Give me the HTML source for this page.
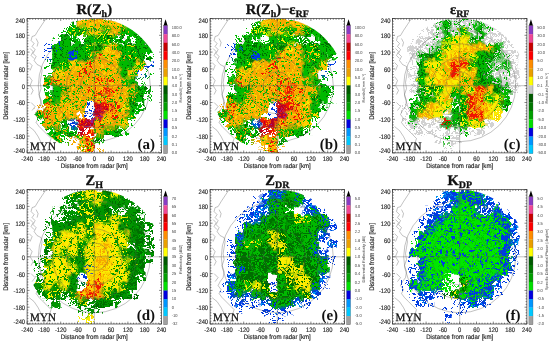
<!DOCTYPE html><html><head><meta charset="utf-8"><style>html,body{margin:0;padding:0;background:#fff;width:550px;height:341px;overflow:hidden}svg{display:block}text{text-rendering:geometricPrecision}</style></head><body>
<svg width="550" height="341" viewBox="0 0 550 341">
<defs>
<filter id="nz" x="0" y="0" width="550" height="341" filterUnits="userSpaceOnUse" color-interpolation-filters="sRGB"><feTurbulence type="fractalNoise" baseFrequency="0.5" numOctaves="2" seed="7"/><feColorMatrix type="matrix" values="1 0 0 0 0 1 0 0 0 0 1 0 0 0 0 0 0 0 0 1"/><feComponentTransfer><feFuncR type="discrete" tableValues="0 0 0 0 0 0 0 0 0 0 0 0 0 0 0 0 0 0 0 0 0 0 0 0 0 0 0 0 0 0 0 0 0 0 0 0 0 0 0 0 0 0 0 0 0 0 0 0 0 0 0 0 0 0 0 0 1 1 1 1 1 1 1 1 1 1 1 1 1 1 1 1 1 1 1 1 1 1 1 1 1 1 1 1 1 1 1 1 1 1 1 1 1 1 1 1 1 1 1 1"/><feFuncG type="discrete" tableValues="0 0 0 0 0 0 0 0 0 0 0 0 0 0 0 0 0 0 0 0 0 0 0 0 0 0 0 0 0 0 0 0 0 0 0 0 0 0 0 0 0 0 0 0 0 0 0 0 0 0 0 0 0 0 0 0 1 1 1 1 1 1 1 1 1 1 1 1 1 1 1 1 1 1 1 1 1 1 1 1 1 1 1 1 1 1 1 1 1 1 1 1 1 1 1 1 1 1 1 1"/><feFuncB type="discrete" tableValues="0 0 0 0 0 0 0 0 0 0 0 0 0 0 0 0 0 0 0 0 0 0 0 0 0 0 0 0 0 0 0 0 0 0 0 0 0 0 0 0 0 0 0 0 0 0 0 0 0 0 0 0 0 0 0 0 1 1 1 1 1 1 1 1 1 1 1 1 1 1 1 1 1 1 1 1 1 1 1 1 1 1 1 1 1 1 1 1 1 1 1 1 1 1 1 1 1 1 1 1"/></feComponentTransfer></filter>
<mask id="mk" maskUnits="userSpaceOnUse" x="0" y="0" width="550" height="341"><rect width="550" height="341" fill="#fff" filter="url(#nz)"/></mask>
<filter id="nzh" x="0" y="0" width="550" height="341" filterUnits="userSpaceOnUse" color-interpolation-filters="sRGB"><feTurbulence type="fractalNoise" baseFrequency="0.5" numOctaves="2" seed="17"/><feColorMatrix type="matrix" values="1 0 0 0 0 1 0 0 0 0 1 0 0 0 0 0 0 0 0 1"/><feComponentTransfer><feFuncR type="discrete" tableValues="0 0 0 0 0 0 0 0 0 0 0 0 0 0 0 0 0 0 0 0 0 0 0 0 0 0 0 0 0 0 0 0 0 0 0 0 0 0 0 0 0 0 0 0 0 0 0 0 0 0 1 1 1 1 1 1 1 1 1 1 1 1 1 1 1 1 1 1 1 1 1 1 1 1 1 1 1 1 1 1 1 1 1 1 1 1 1 1 1 1 1 1 1 1 1 1 1 1 1 1"/><feFuncG type="discrete" tableValues="0 0 0 0 0 0 0 0 0 0 0 0 0 0 0 0 0 0 0 0 0 0 0 0 0 0 0 0 0 0 0 0 0 0 0 0 0 0 0 0 0 0 0 0 0 0 0 0 0 0 1 1 1 1 1 1 1 1 1 1 1 1 1 1 1 1 1 1 1 1 1 1 1 1 1 1 1 1 1 1 1 1 1 1 1 1 1 1 1 1 1 1 1 1 1 1 1 1 1 1"/><feFuncB type="discrete" tableValues="0 0 0 0 0 0 0 0 0 0 0 0 0 0 0 0 0 0 0 0 0 0 0 0 0 0 0 0 0 0 0 0 0 0 0 0 0 0 0 0 0 0 0 0 0 0 0 0 0 0 1 1 1 1 1 1 1 1 1 1 1 1 1 1 1 1 1 1 1 1 1 1 1 1 1 1 1 1 1 1 1 1 1 1 1 1 1 1 1 1 1 1 1 1 1 1 1 1 1 1"/></feComponentTransfer></filter>
<mask id="mkh" maskUnits="userSpaceOnUse" x="0" y="0" width="550" height="341"><rect width="550" height="341" fill="#fff" filter="url(#nzh)"/></mask>
<filter id="nzl" x="0" y="0" width="550" height="341" filterUnits="userSpaceOnUse" color-interpolation-filters="sRGB"><feTurbulence type="fractalNoise" baseFrequency="0.4" numOctaves="2" seed="23"/><feColorMatrix type="matrix" values="1 0 0 0 0 1 0 0 0 0 1 0 0 0 0 0 0 0 0 1"/><feComponentTransfer><feFuncR type="discrete" tableValues="0 0 0 0 0 0 0 0 0 0 0 0 0 0 0 0 0 0 0 0 0 0 0 0 0 0 0 0 0 0 0 0 0 0 0 0 0 0 0 0 0 0 0 0 0 0 0 0 0 0 0 0 0 0 0 0 0 0 0 0 0 0 0 0 1 1 1 1 1 1 1 1 1 1 1 1 1 1 1 1 1 1 1 1 1 1 1 1 1 1 1 1 1 1 1 1 1 1 1 1"/><feFuncG type="discrete" tableValues="0 0 0 0 0 0 0 0 0 0 0 0 0 0 0 0 0 0 0 0 0 0 0 0 0 0 0 0 0 0 0 0 0 0 0 0 0 0 0 0 0 0 0 0 0 0 0 0 0 0 0 0 0 0 0 0 0 0 0 0 0 0 0 0 1 1 1 1 1 1 1 1 1 1 1 1 1 1 1 1 1 1 1 1 1 1 1 1 1 1 1 1 1 1 1 1 1 1 1 1"/><feFuncB type="discrete" tableValues="0 0 0 0 0 0 0 0 0 0 0 0 0 0 0 0 0 0 0 0 0 0 0 0 0 0 0 0 0 0 0 0 0 0 0 0 0 0 0 0 0 0 0 0 0 0 0 0 0 0 0 0 0 0 0 0 0 0 0 0 0 0 0 0 1 1 1 1 1 1 1 1 1 1 1 1 1 1 1 1 1 1 1 1 1 1 1 1 1 1 1 1 1 1 1 1 1 1 1 1"/></feComponentTransfer></filter>
<mask id="mkl" maskUnits="userSpaceOnUse" x="0" y="0" width="550" height="341"><rect width="550" height="341" fill="#fff" filter="url(#nzl)"/></mask>
<filter id="nzt" x="0" y="0" width="550" height="341" filterUnits="userSpaceOnUse" color-interpolation-filters="sRGB"><feTurbulence type="fractalNoise" baseFrequency="0.6" numOctaves="2" seed="31"/><feColorMatrix type="matrix" values="1 0 0 0 0 1 0 0 0 0 1 0 0 0 0 0 0 0 0 1"/><feComponentTransfer><feFuncR type="discrete" tableValues="0 0 0 0 0 0 0 0 0 0 0 0 0 0 0 0 0 0 0 0 0 0 0 0 0 0 0 0 0 0 0 0 0 0 0 0 0 0 0 0 0 0 0 0 0 0 0 0 0 0 0 0 0 0 0 0 0 0 0 1 1 1 1 1 1 1 1 1 1 1 1 1 1 1 1 1 1 1 1 1 1 1 1 1 1 1 1 1 1 1 1 1 1 1 1 1 1 1 1 1"/><feFuncG type="discrete" tableValues="0 0 0 0 0 0 0 0 0 0 0 0 0 0 0 0 0 0 0 0 0 0 0 0 0 0 0 0 0 0 0 0 0 0 0 0 0 0 0 0 0 0 0 0 0 0 0 0 0 0 0 0 0 0 0 0 0 0 0 1 1 1 1 1 1 1 1 1 1 1 1 1 1 1 1 1 1 1 1 1 1 1 1 1 1 1 1 1 1 1 1 1 1 1 1 1 1 1 1 1"/><feFuncB type="discrete" tableValues="0 0 0 0 0 0 0 0 0 0 0 0 0 0 0 0 0 0 0 0 0 0 0 0 0 0 0 0 0 0 0 0 0 0 0 0 0 0 0 0 0 0 0 0 0 0 0 0 0 0 0 0 0 0 0 0 0 0 0 1 1 1 1 1 1 1 1 1 1 1 1 1 1 1 1 1 1 1 1 1 1 1 1 1 1 1 1 1 1 1 1 1 1 1 1 1 1 1 1 1"/></feComponentTransfer></filter>
<mask id="mkt" maskUnits="userSpaceOnUse" x="0" y="0" width="550" height="341"><rect width="550" height="341" fill="#fff" filter="url(#nzt)"/></mask>
<filter id="nzt2" x="0" y="0" width="550" height="341" filterUnits="userSpaceOnUse" color-interpolation-filters="sRGB"><feTurbulence type="fractalNoise" baseFrequency="0.6" numOctaves="2" seed="37"/><feColorMatrix type="matrix" values="1 0 0 0 0 1 0 0 0 0 1 0 0 0 0 0 0 0 0 1"/><feComponentTransfer><feFuncR type="discrete" tableValues="0 0 0 0 0 0 0 0 0 0 0 0 0 0 0 0 0 0 0 0 0 0 0 0 0 0 0 0 0 0 0 0 0 0 0 0 0 0 0 0 0 0 0 0 0 0 0 0 0 0 0 0 0 0 0 0 0 0 0 0 0 0 0 0 1 1 1 1 1 1 1 1 1 1 1 1 1 1 1 1 1 1 1 1 1 1 1 1 1 1 1 1 1 1 1 1 1 1 1 1"/><feFuncG type="discrete" tableValues="0 0 0 0 0 0 0 0 0 0 0 0 0 0 0 0 0 0 0 0 0 0 0 0 0 0 0 0 0 0 0 0 0 0 0 0 0 0 0 0 0 0 0 0 0 0 0 0 0 0 0 0 0 0 0 0 0 0 0 0 0 0 0 0 1 1 1 1 1 1 1 1 1 1 1 1 1 1 1 1 1 1 1 1 1 1 1 1 1 1 1 1 1 1 1 1 1 1 1 1"/><feFuncB type="discrete" tableValues="0 0 0 0 0 0 0 0 0 0 0 0 0 0 0 0 0 0 0 0 0 0 0 0 0 0 0 0 0 0 0 0 0 0 0 0 0 0 0 0 0 0 0 0 0 0 0 0 0 0 0 0 0 0 0 0 0 0 0 0 0 0 0 0 1 1 1 1 1 1 1 1 1 1 1 1 1 1 1 1 1 1 1 1 1 1 1 1 1 1 1 1 1 1 1 1 1 1 1 1"/></feComponentTransfer></filter>
<mask id="mkt2" maskUnits="userSpaceOnUse" x="0" y="0" width="550" height="341"><rect width="550" height="341" fill="#fff" filter="url(#nzt2)"/></mask>
<filter id="nz2" x="0" y="0" width="550" height="341" filterUnits="userSpaceOnUse" color-interpolation-filters="sRGB"><feTurbulence type="fractalNoise" baseFrequency="0.35" numOctaves="2" seed="11"/><feColorMatrix type="matrix" values="1 0 0 0 0 1 0 0 0 0 1 0 0 0 0 0 0 0 0 1"/><feComponentTransfer><feFuncR type="discrete" tableValues="0 0 0 0 0 0 0 0 0 0 0 0 0 0 0 0 0 0 0 0 0 0 0 0 0 0 0 0 0 0 0 0 0 0 0 0 0 0 0 0 0 0 0 0 0 0 0 0 0 0 0 0 0 0 1 1 1 1 1 1 1 1 1 1 1 1 1 1 1 1 1 1 1 1 1 1 1 1 1 1 1 1 1 1 1 1 1 1 1 1 1 1 1 1 1 1 1 1 1 1"/><feFuncG type="discrete" tableValues="0 0 0 0 0 0 0 0 0 0 0 0 0 0 0 0 0 0 0 0 0 0 0 0 0 0 0 0 0 0 0 0 0 0 0 0 0 0 0 0 0 0 0 0 0 0 0 0 0 0 0 0 0 0 1 1 1 1 1 1 1 1 1 1 1 1 1 1 1 1 1 1 1 1 1 1 1 1 1 1 1 1 1 1 1 1 1 1 1 1 1 1 1 1 1 1 1 1 1 1"/><feFuncB type="discrete" tableValues="0 0 0 0 0 0 0 0 0 0 0 0 0 0 0 0 0 0 0 0 0 0 0 0 0 0 0 0 0 0 0 0 0 0 0 0 0 0 0 0 0 0 0 0 0 0 0 0 0 0 0 0 0 0 1 1 1 1 1 1 1 1 1 1 1 1 1 1 1 1 1 1 1 1 1 1 1 1 1 1 1 1 1 1 1 1 1 1 1 1 1 1 1 1 1 1 1 1 1 1"/></feComponentTransfer></filter>
<mask id="mk2" maskUnits="userSpaceOnUse" x="0" y="0" width="550" height="341"><rect width="550" height="341" fill="#fff" filter="url(#nz2)"/></mask>
<filter id="nz3" x="0" y="0" width="550" height="341" filterUnits="userSpaceOnUse" color-interpolation-filters="sRGB"><feTurbulence type="fractalNoise" baseFrequency="0.5" numOctaves="2" seed="5"/><feColorMatrix type="matrix" values="1 0 0 0 0 1 0 0 0 0 1 0 0 0 0 0 0 0 0 1"/><feComponentTransfer><feFuncR type="discrete" tableValues="0 0 0 0 0 0 0 0 0 0 0 0 0 0 0 0 0 0 0 0 0 0 0 0 0 0 0 0 0 0 0 0 0 0 0 0 0 0 0 0 0 0 0 0 0 0 0 0 0 0 0 0 0 0 0 0 1 1 1 1 1 1 1 1 1 1 1 1 1 1 1 1 1 1 1 1 1 1 1 1 1 1 1 1 1 1 1 1 1 1 1 1 1 1 1 1 1 1 1 1"/><feFuncG type="discrete" tableValues="0 0 0 0 0 0 0 0 0 0 0 0 0 0 0 0 0 0 0 0 0 0 0 0 0 0 0 0 0 0 0 0 0 0 0 0 0 0 0 0 0 0 0 0 0 0 0 0 0 0 0 0 0 0 0 0 1 1 1 1 1 1 1 1 1 1 1 1 1 1 1 1 1 1 1 1 1 1 1 1 1 1 1 1 1 1 1 1 1 1 1 1 1 1 1 1 1 1 1 1"/><feFuncB type="discrete" tableValues="0 0 0 0 0 0 0 0 0 0 0 0 0 0 0 0 0 0 0 0 0 0 0 0 0 0 0 0 0 0 0 0 0 0 0 0 0 0 0 0 0 0 0 0 0 0 0 0 0 0 0 0 0 0 0 0 1 1 1 1 1 1 1 1 1 1 1 1 1 1 1 1 1 1 1 1 1 1 1 1 1 1 1 1 1 1 1 1 1 1 1 1 1 1 1 1 1 1 1 1"/></feComponentTransfer></filter>
<mask id="mk3" maskUnits="userSpaceOnUse" x="0" y="0" width="550" height="341"><rect width="550" height="341" fill="#fff" filter="url(#nz3)"/></mask>
<filter id="mb" x="-10%" y="-10%" width="120%" height="120%" color-interpolation-filters="sRGB"><feGaussianBlur stdDeviation="1.3"/><feComponentTransfer><feFuncA type="linear" slope="6" intercept="-2.6"/></feComponentTransfer></filter>
<filter id="disp" x="-5%" y="-5%" width="110%" height="110%" color-interpolation-filters="sRGB"><feTurbulence type="fractalNoise" baseFrequency="0.18" numOctaves="2" seed="4" result="t"/><feDisplacementMap in="SourceGraphic" in2="t" scale="9" xChannelSelector="R" yChannelSelector="G"/></filter>
</defs>
<rect width="550" height="341" fill="#fff"/>
<clipPath id="clipa"><circle cx="94.3" cy="85.7" r="67.2"/></clipPath>
<g clip-path="url(#clipa)"><g filter="url(#disp)">
<g filter="url(#mb)"><rect x="69.1" y="18.5" width="8.4" height="8.4" fill="#00b900"/><rect x="77.5" y="18.5" width="8.4" height="8.4" fill="#fcd200"/><rect x="85.9" y="18.5" width="33.6" height="8.4" fill="#f5a800"/><rect x="119.5" y="18.5" width="8.4" height="8.4" fill="#fcd200"/><rect x="127.9" y="18.5" width="8.4" height="8.4" fill="#00b900"/><rect x="69.1" y="26.9" width="16.8" height="8.4" fill="#00b900"/><rect x="85.9" y="26.9" width="16.8" height="8.4" fill="#fcd200"/><rect x="102.7" y="26.9" width="8.4" height="8.4" fill="#00b900"/><rect x="111.1" y="26.9" width="8.4" height="8.4" fill="#f5a800"/><rect x="119.5" y="26.9" width="25.2" height="8.4" fill="#00b900"/><rect x="60.7" y="35.3" width="16.8" height="8.4" fill="#00b900"/><rect x="85.9" y="35.3" width="67.2" height="8.4" fill="#00b900"/><rect x="52.3" y="43.7" width="42" height="8.4" fill="#00b900"/><rect x="94.3" y="43.7" width="8.4" height="8.4" fill="#006e00"/><rect x="102.7" y="43.7" width="8.4" height="8.4" fill="#faee00"/><rect x="111.1" y="43.7" width="8.4" height="8.4" fill="#f5a800"/><rect x="119.5" y="43.7" width="33.6" height="8.4" fill="#00b900"/><rect x="52.3" y="52.1" width="42" height="8.4" fill="#00b900"/><rect x="94.3" y="52.1" width="25.2" height="8.4" fill="#f5a800"/><rect x="119.5" y="52.1" width="33.6" height="8.4" fill="#00b900"/><rect x="52.3" y="60.5" width="16.8" height="8.4" fill="#00b900"/><rect x="69.1" y="60.5" width="8.4" height="8.4" fill="#fcd200"/><rect x="77.5" y="60.5" width="42" height="8.4" fill="#f5a800"/><rect x="119.5" y="60.5" width="16.8" height="8.4" fill="#00b900"/><rect x="136.3" y="60.5" width="8.4" height="8.4" fill="#fcd200"/><rect x="52.3" y="68.9" width="16.8" height="8.4" fill="#fcd200"/><rect x="69.1" y="68.9" width="50.4" height="8.4" fill="#f5a800"/><rect x="119.5" y="68.9" width="8.4" height="8.4" fill="#00b900"/><rect x="127.9" y="68.9" width="8.4" height="8.4" fill="#fcd200"/><rect x="43.9" y="77.3" width="8.4" height="8.4" fill="#00b900"/><rect x="52.3" y="77.3" width="75.6" height="8.4" fill="#f5a800"/><rect x="127.9" y="77.3" width="8.4" height="8.4" fill="#00b900"/><rect x="52.3" y="85.7" width="16.8" height="8.4" fill="#00b900"/><rect x="69.1" y="85.7" width="33.6" height="8.4" fill="#f5a800"/><rect x="102.7" y="85.7" width="8.4" height="8.4" fill="#f01400"/><rect x="111.1" y="85.7" width="25.2" height="8.4" fill="#f5a800"/><rect x="136.3" y="85.7" width="16.8" height="8.4" fill="#00b900"/><rect x="43.9" y="94.1" width="16.8" height="8.4" fill="#00b900"/><rect x="60.7" y="94.1" width="67.2" height="8.4" fill="#f5a800"/><rect x="127.9" y="94.1" width="16.8" height="8.4" fill="#00b900"/><rect x="43.9" y="102.5" width="25.2" height="8.4" fill="#f5a800"/><rect x="69.1" y="102.5" width="8.4" height="8.4" fill="#fcd200"/><rect x="77.5" y="102.5" width="8.4" height="8.4" fill="#f5a800"/><rect x="94.3" y="102.5" width="8.4" height="8.4" fill="#b40028"/><rect x="102.7" y="102.5" width="8.4" height="8.4" fill="#f01400"/><rect x="111.1" y="102.5" width="16.8" height="8.4" fill="#f5a800"/><rect x="127.9" y="102.5" width="16.8" height="8.4" fill="#00b900"/><rect x="35.5" y="110.9" width="8.4" height="8.4" fill="#00b900"/><rect x="43.9" y="110.9" width="42" height="8.4" fill="#f5a800"/><rect x="94.3" y="110.9" width="8.4" height="8.4" fill="#b40028"/><rect x="102.7" y="110.9" width="25.2" height="8.4" fill="#f5a800"/><rect x="127.9" y="110.9" width="8.4" height="8.4" fill="#00b900"/><rect x="43.9" y="119.3" width="16.8" height="8.4" fill="#f5a800"/><rect x="60.7" y="119.3" width="8.4" height="8.4" fill="#00b900"/><rect x="69.1" y="119.3" width="8.4" height="8.4" fill="#003ce1"/><rect x="77.5" y="119.3" width="8.4" height="8.4" fill="#f01400"/><rect x="85.9" y="119.3" width="8.4" height="8.4" fill="#b40028"/><rect x="94.3" y="119.3" width="25.2" height="8.4" fill="#f5a800"/><rect x="119.5" y="119.3" width="8.4" height="8.4" fill="#fcd200"/><rect x="43.9" y="127.7" width="33.6" height="8.4" fill="#00b900"/><rect x="77.5" y="127.7" width="8.4" height="8.4" fill="#b40028"/><rect x="85.9" y="127.7" width="8.4" height="8.4" fill="#f01400"/><rect x="94.3" y="127.7" width="8.4" height="8.4" fill="#f5a800"/><rect x="102.7" y="127.7" width="25.2" height="8.4" fill="#00b900"/><rect x="52.3" y="136.1" width="8.4" height="8.4" fill="#00b900"/><rect x="77.5" y="136.1" width="16.8" height="8.4" fill="#f5a800"/><rect x="94.3" y="136.1" width="8.4" height="8.4" fill="#00b900"/><rect x="77.5" y="144.5" width="16.8" height="8.4" fill="#f5a800"/></g>
<g mask="url(#mkt)" filter="url(#mb)"><rect x="69.1" y="18.5" width="8.4" height="8.4" fill="#006e00"/><rect x="77.5" y="18.5" width="8.4" height="8.4" fill="#f5a800"/><rect x="85.9" y="18.5" width="33.6" height="8.4" fill="#fcd200"/><rect x="119.5" y="18.5" width="8.4" height="8.4" fill="#f5a800"/><rect x="127.9" y="18.5" width="8.4" height="8.4" fill="#006e00"/><rect x="69.1" y="26.9" width="16.8" height="8.4" fill="#006e00"/><rect x="85.9" y="26.9" width="16.8" height="8.4" fill="#f5a800"/><rect x="102.7" y="26.9" width="8.4" height="8.4" fill="#006e00"/><rect x="111.1" y="26.9" width="8.4" height="8.4" fill="#fcd200"/><rect x="119.5" y="26.9" width="25.2" height="8.4" fill="#006e00"/><rect x="60.7" y="35.3" width="16.8" height="8.4" fill="#006e00"/><rect x="85.9" y="35.3" width="67.2" height="8.4" fill="#006e00"/><rect x="52.3" y="43.7" width="42" height="8.4" fill="#006e00"/><rect x="94.3" y="43.7" width="8.4" height="8.4" fill="#00b900"/><rect x="102.7" y="43.7" width="16.8" height="8.4" fill="#fcd200"/><rect x="119.5" y="43.7" width="33.6" height="8.4" fill="#006e00"/><rect x="52.3" y="52.1" width="42" height="8.4" fill="#006e00"/><rect x="94.3" y="52.1" width="25.2" height="8.4" fill="#fcd200"/><rect x="119.5" y="52.1" width="33.6" height="8.4" fill="#006e00"/><rect x="52.3" y="60.5" width="16.8" height="8.4" fill="#006e00"/><rect x="69.1" y="60.5" width="8.4" height="8.4" fill="#f5a800"/><rect x="77.5" y="60.5" width="42" height="8.4" fill="#fcd200"/><rect x="119.5" y="60.5" width="16.8" height="8.4" fill="#006e00"/><rect x="136.3" y="60.5" width="8.4" height="8.4" fill="#f5a800"/><rect x="52.3" y="68.9" width="16.8" height="8.4" fill="#f5a800"/><rect x="69.1" y="68.9" width="50.4" height="8.4" fill="#fcd200"/><rect x="119.5" y="68.9" width="8.4" height="8.4" fill="#006e00"/><rect x="127.9" y="68.9" width="8.4" height="8.4" fill="#f5a800"/><rect x="43.9" y="77.3" width="8.4" height="8.4" fill="#006e00"/><rect x="52.3" y="77.3" width="75.6" height="8.4" fill="#fcd200"/><rect x="127.9" y="77.3" width="8.4" height="8.4" fill="#006e00"/><rect x="52.3" y="85.7" width="16.8" height="8.4" fill="#006e00"/><rect x="69.1" y="85.7" width="33.6" height="8.4" fill="#fcd200"/><rect x="102.7" y="85.7" width="8.4" height="8.4" fill="#f5a800"/><rect x="111.1" y="85.7" width="25.2" height="8.4" fill="#fcd200"/><rect x="136.3" y="85.7" width="16.8" height="8.4" fill="#006e00"/><rect x="43.9" y="94.1" width="16.8" height="8.4" fill="#006e00"/><rect x="60.7" y="94.1" width="67.2" height="8.4" fill="#fcd200"/><rect x="127.9" y="94.1" width="16.8" height="8.4" fill="#006e00"/><rect x="43.9" y="102.5" width="25.2" height="8.4" fill="#fcd200"/><rect x="69.1" y="102.5" width="8.4" height="8.4" fill="#f5a800"/><rect x="77.5" y="102.5" width="8.4" height="8.4" fill="#fcd200"/><rect x="94.3" y="102.5" width="8.4" height="8.4" fill="#f01400"/><rect x="102.7" y="102.5" width="8.4" height="8.4" fill="#f5a800"/><rect x="111.1" y="102.5" width="16.8" height="8.4" fill="#fcd200"/><rect x="127.9" y="102.5" width="16.8" height="8.4" fill="#006e00"/><rect x="35.5" y="110.9" width="8.4" height="8.4" fill="#006e00"/><rect x="43.9" y="110.9" width="42" height="8.4" fill="#fcd200"/><rect x="94.3" y="110.9" width="8.4" height="8.4" fill="#f01400"/><rect x="102.7" y="110.9" width="25.2" height="8.4" fill="#fcd200"/><rect x="127.9" y="110.9" width="8.4" height="8.4" fill="#006e00"/><rect x="43.9" y="119.3" width="16.8" height="8.4" fill="#fcd200"/><rect x="60.7" y="119.3" width="8.4" height="8.4" fill="#006e00"/><rect x="69.1" y="119.3" width="8.4" height="8.4" fill="#0096f0"/><rect x="77.5" y="119.3" width="8.4" height="8.4" fill="#f5a800"/><rect x="85.9" y="119.3" width="8.4" height="8.4" fill="#f01400"/><rect x="94.3" y="119.3" width="25.2" height="8.4" fill="#fcd200"/><rect x="119.5" y="119.3" width="8.4" height="8.4" fill="#f5a800"/><rect x="43.9" y="127.7" width="33.6" height="8.4" fill="#006e00"/><rect x="77.5" y="127.7" width="8.4" height="8.4" fill="#f01400"/><rect x="85.9" y="127.7" width="8.4" height="8.4" fill="#f5a800"/><rect x="94.3" y="127.7" width="8.4" height="8.4" fill="#fcd200"/><rect x="102.7" y="127.7" width="25.2" height="8.4" fill="#006e00"/><rect x="52.3" y="136.1" width="8.4" height="8.4" fill="#006e00"/><rect x="77.5" y="136.1" width="16.8" height="8.4" fill="#fcd200"/><rect x="94.3" y="136.1" width="8.4" height="8.4" fill="#006e00"/><rect x="77.5" y="144.5" width="16.8" height="8.4" fill="#fcd200"/></g>
<g mask="url(#mkt2)" filter="url(#mb)"><rect x="77.5" y="18.5" width="50.4" height="8.4" fill="#00b900"/><rect x="85.9" y="26.9" width="16.8" height="8.4" fill="#00b900"/><rect x="111.1" y="26.9" width="8.4" height="8.4" fill="#00b900"/><rect x="102.7" y="43.7" width="16.8" height="8.4" fill="#00b900"/><rect x="94.3" y="52.1" width="25.2" height="8.4" fill="#00b900"/><rect x="69.1" y="60.5" width="50.4" height="8.4" fill="#00b900"/><rect x="136.3" y="60.5" width="8.4" height="8.4" fill="#00b900"/><rect x="52.3" y="68.9" width="67.2" height="8.4" fill="#00b900"/><rect x="127.9" y="68.9" width="8.4" height="8.4" fill="#00b900"/><rect x="52.3" y="77.3" width="75.6" height="8.4" fill="#00b900"/><rect x="69.1" y="85.7" width="33.6" height="8.4" fill="#00b900"/><rect x="111.1" y="85.7" width="25.2" height="8.4" fill="#00b900"/><rect x="60.7" y="94.1" width="67.2" height="8.4" fill="#00b900"/><rect x="43.9" y="102.5" width="42" height="8.4" fill="#00b900"/><rect x="111.1" y="102.5" width="16.8" height="8.4" fill="#00b900"/><rect x="43.9" y="110.9" width="42" height="8.4" fill="#00b900"/><rect x="102.7" y="110.9" width="25.2" height="8.4" fill="#00b900"/><rect x="43.9" y="119.3" width="16.8" height="8.4" fill="#00b900"/><rect x="94.3" y="119.3" width="33.6" height="8.4" fill="#00b900"/><rect x="94.3" y="127.7" width="8.4" height="8.4" fill="#00b900"/><rect x="77.5" y="136.1" width="16.8" height="8.4" fill="#00b900"/><rect x="77.5" y="144.5" width="16.8" height="8.4" fill="#00b900"/></g>
<g mask="url(#mk)"><g filter="url(#mb)"><rect x="77.5" y="18.5" width="8.4" height="8.4" fill="#f5a800"/><rect x="111.1" y="18.5" width="8.4" height="8.4" fill="#fcd200"/><rect x="119.5" y="18.5" width="8.4" height="8.4" fill="#00b900"/><rect x="69.1" y="26.9" width="16.8" height="8.4" fill="#faee00"/><rect x="85.9" y="26.9" width="16.8" height="8.4" fill="#00b900"/><rect x="102.7" y="26.9" width="8.4" height="8.4" fill="#fcd200"/><rect x="119.5" y="26.9" width="8.4" height="8.4" fill="#f5a800"/><rect x="94.3" y="35.3" width="16.8" height="8.4" fill="#faee00"/><rect x="52.3" y="43.7" width="8.4" height="8.4" fill="#003ce1"/><rect x="85.9" y="43.7" width="8.4" height="8.4" fill="#faee00"/><rect x="94.3" y="43.7" width="8.4" height="8.4" fill="#00b900"/><rect x="102.7" y="43.7" width="8.4" height="8.4" fill="#f5a800"/><rect x="127.9" y="43.7" width="8.4" height="8.4" fill="#fcd200"/><rect x="85.9" y="52.1" width="8.4" height="8.4" fill="#fcd200"/><rect x="94.3" y="52.1" width="8.4" height="8.4" fill="#f01400"/><rect x="111.1" y="52.1" width="8.4" height="8.4" fill="#fcd200"/><rect x="119.5" y="52.1" width="8.4" height="8.4" fill="#f5a800"/><rect x="127.9" y="52.1" width="8.4" height="8.4" fill="#fcd200"/><rect x="60.7" y="60.5" width="8.4" height="8.4" fill="#faee00"/><rect x="69.1" y="60.5" width="8.4" height="8.4" fill="#f5a800"/><rect x="85.9" y="60.5" width="8.4" height="8.4" fill="#f01400"/><rect x="136.3" y="60.5" width="8.4" height="8.4" fill="#00b900"/><rect x="52.3" y="68.9" width="8.4" height="8.4" fill="#00b900"/><rect x="60.7" y="68.9" width="8.4" height="8.4" fill="#f5a800"/><rect x="77.5" y="68.9" width="16.8" height="8.4" fill="#f01400"/><rect x="102.7" y="68.9" width="8.4" height="8.4" fill="#fcd200"/><rect x="127.9" y="68.9" width="8.4" height="8.4" fill="#00b900"/><rect x="43.9" y="77.3" width="8.4" height="8.4" fill="#f5a800"/><rect x="52.3" y="77.3" width="8.4" height="8.4" fill="#f01400"/><rect x="94.3" y="77.3" width="16.8" height="8.4" fill="#f01400"/><rect x="119.5" y="77.3" width="8.4" height="8.4" fill="#00b900"/><rect x="60.7" y="85.7" width="8.4" height="8.4" fill="#f5a800"/><rect x="77.5" y="85.7" width="8.4" height="8.4" fill="#00b900"/><rect x="85.9" y="85.7" width="16.8" height="8.4" fill="#f01400"/><rect x="102.7" y="85.7" width="8.4" height="8.4" fill="#f5a800"/><rect x="111.1" y="85.7" width="8.4" height="8.4" fill="#f01400"/><rect x="127.9" y="85.7" width="8.4" height="8.4" fill="#00b900"/><rect x="43.9" y="94.1" width="8.4" height="8.4" fill="#f5a800"/><rect x="60.7" y="94.1" width="8.4" height="8.4" fill="#00b900"/><rect x="85.9" y="94.1" width="8.4" height="8.4" fill="#00b900"/><rect x="94.3" y="94.1" width="16.8" height="8.4" fill="#f01400"/><rect x="127.9" y="94.1" width="8.4" height="8.4" fill="#f5a800"/><rect x="43.9" y="102.5" width="8.4" height="8.4" fill="#f01400"/><rect x="52.3" y="102.5" width="8.4" height="8.4" fill="#00b900"/><rect x="60.7" y="102.5" width="8.4" height="8.4" fill="#fcd200"/><rect x="69.1" y="102.5" width="8.4" height="8.4" fill="#f5a800"/><rect x="94.3" y="102.5" width="8.4" height="8.4" fill="#f01400"/><rect x="102.7" y="102.5" width="8.4" height="8.4" fill="#b40028"/><rect x="111.1" y="102.5" width="8.4" height="8.4" fill="#f01400"/><rect x="119.5" y="102.5" width="8.4" height="8.4" fill="#faee00"/><rect x="35.5" y="110.9" width="8.4" height="8.4" fill="#f5a800"/><rect x="43.9" y="110.9" width="8.4" height="8.4" fill="#f01400"/><rect x="94.3" y="110.9" width="8.4" height="8.4" fill="#961e96"/><rect x="111.1" y="110.9" width="8.4" height="8.4" fill="#f01400"/><rect x="127.9" y="110.9" width="8.4" height="8.4" fill="#fcd200"/><rect x="43.9" y="119.3" width="16.8" height="8.4" fill="#00b900"/><rect x="77.5" y="119.3" width="8.4" height="8.4" fill="#b40028"/><rect x="85.9" y="119.3" width="8.4" height="8.4" fill="#961e96"/><rect x="94.3" y="119.3" width="8.4" height="8.4" fill="#f01400"/><rect x="119.5" y="119.3" width="8.4" height="8.4" fill="#00b900"/><rect x="52.3" y="127.7" width="16.8" height="8.4" fill="#f5a800"/><rect x="94.3" y="127.7" width="8.4" height="8.4" fill="#00b900"/><rect x="102.7" y="127.7" width="8.4" height="8.4" fill="#f5a800"/><rect x="52.3" y="136.1" width="8.4" height="8.4" fill="#f5a800"/><rect x="77.5" y="136.1" width="8.4" height="8.4" fill="#faee00"/><rect x="85.9" y="136.1" width="8.4" height="8.4" fill="#f01400"/><rect x="85.9" y="144.5" width="8.4" height="8.4" fill="#f01400"/></g></g>
<g mask="url(#mkh)"><g filter="url(#mb)"><rect x="69.1" y="52.1" width="8.4" height="8.4" fill="#003ce1"/></g></g>
<g mask="url(#mkl)"><g filter="url(#mb)"></g></g>
<g mask="url(#mk2)"><rect x="69.1" y="18.5" width="8.4" height="8.4" fill="#ffffff"/><rect x="127.9" y="18.5" width="8.4" height="8.4" fill="#ffffff"/><rect x="136.3" y="26.9" width="8.4" height="8.4" fill="#ffffff"/><rect x="69.1" y="35.3" width="8.4" height="8.4" fill="#ffffff"/><rect x="111.1" y="35.3" width="25.2" height="8.4" fill="#ffffff"/><rect x="144.7" y="35.3" width="8.4" height="8.4" fill="#ffffff"/><rect x="144.7" y="52.1" width="8.4" height="8.4" fill="#ffffff"/><rect x="144.7" y="85.7" width="8.4" height="8.4" fill="#ffffff"/><rect x="136.3" y="102.5" width="8.4" height="8.4" fill="#ffffff"/><rect x="77.5" y="110.9" width="8.4" height="8.4" fill="#ffffff"/><rect x="60.7" y="119.3" width="16.8" height="8.4" fill="#ffffff"/><rect x="43.9" y="127.7" width="8.4" height="8.4" fill="#ffffff"/><rect x="69.1" y="127.7" width="25.2" height="8.4" fill="#ffffff"/><rect x="119.5" y="127.7" width="8.4" height="8.4" fill="#ffffff"/><rect x="94.3" y="136.1" width="8.4" height="8.4" fill="#ffffff"/><rect x="77.5" y="144.5" width="8.4" height="8.4" fill="#ffffff"/></g>
<g mask="url(#mk3)"><g filter="url(#mb)"><rect x="60.7" y="26.9" width="8.4" height="8.4" fill="#00b900"/><rect x="52.3" y="35.3" width="8.4" height="8.4" fill="#00b900"/><rect x="77.5" y="35.3" width="8.4" height="8.4" fill="#00b900"/><rect x="43.9" y="43.7" width="8.4" height="8.4" fill="#003ce1"/><rect x="43.9" y="52.1" width="8.4" height="8.4" fill="#003ce1"/><rect x="43.9" y="60.5" width="8.4" height="8.4" fill="#00b900"/><rect x="144.7" y="60.5" width="8.4" height="8.4" fill="#003ce1"/><rect x="43.9" y="68.9" width="8.4" height="8.4" fill="#00b900"/><rect x="136.3" y="68.9" width="8.4" height="8.4" fill="#003ce1"/><rect x="144.7" y="68.9" width="8.4" height="8.4" fill="#00b900"/><rect x="136.3" y="77.3" width="8.4" height="8.4" fill="#00b900"/><rect x="43.9" y="85.7" width="8.4" height="8.4" fill="#00b900"/><rect x="144.7" y="94.1" width="8.4" height="8.4" fill="#00b900"/><rect x="35.5" y="102.5" width="8.4" height="8.4" fill="#f5a800"/><rect x="85.9" y="102.5" width="8.4" height="8.4" fill="#003ce1"/><rect x="85.9" y="110.9" width="8.4" height="8.4" fill="#003ce1"/><rect x="35.5" y="119.3" width="8.4" height="8.4" fill="#00b900"/><rect x="127.9" y="119.3" width="8.4" height="8.4" fill="#00b900"/><rect x="60.7" y="136.1" width="8.4" height="8.4" fill="#00b900"/><rect x="69.1" y="136.1" width="8.4" height="8.4" fill="#f5a800"/><rect x="94.3" y="144.5" width="8.4" height="8.4" fill="#f5a800"/></g></g>
</g></g>
<clipPath id="fclipa"><rect x="27.1" y="18.5" width="134.4" height="134.4"/></clipPath>
<g fill="none" stroke="#505050" stroke-opacity="0.7" stroke-width="0.5" clip-path="url(#fclipa)">
<circle cx="94.3" cy="85.7" r="14"/>
<circle cx="94.3" cy="85.7" r="28"/>
<circle cx="94.3" cy="85.7" r="42"/>
<circle cx="94.3" cy="85.7" r="56"/>
<path d="M27.1 85.7H161.5M94.3 18.5V152.9"/>
<path d="M46.1 18.5 L42.1 24.5 L38.1 30.5 L35.1 35.5 L32.1 36.5 L31.1 40.5 L34.1 43.5 L32.1 46.5 L35.1 49.5 L33.1 53.5 L36.1 56.5 L34.1 60.5 L37.1 64.5 L41.1 66.5 L42.1 70.5 L41.1 76.5 L40.1 82.5 L41.1 88.5 L39.1 94.5 L41.1 100.5 L40.1 106.5 L37.1 110.5 L35.1 114.5 L38.1 118.5 L36.1 122.5 L39.1 126.5 L43.1 130.5 L47.1 134.5 L51.1 138.5 L49.1 144.5 L47.1 152.9M30.1 48.5 L33.1 51.5 L31.1 55.5 L34.1 58.5M29.1 76.5 L32.1 80.5 L30.1 85.5 L33.1 90.5 L31.1 94.5M31.1 102.5 L35.1 106.5 L32.1 110.5M29.1 126.5 L34.1 130.5 L38.1 136.5 L41.1 142.5 L44.1 148.5M36.1 38.5 L38.1 42.5 L37.1 46.5M29.1 62.5 L32.1 65.5 L30.1 70.5"/>
</g>
<rect x="27.1" y="18.5" width="134.4" height="134.4" fill="none" stroke="#333" stroke-width="0.7"/>
<path d="M27.1 18.5v2.4M27.1 152.9v-2.4M27.1 18.5h2.4M161.5 18.5h-2.4M29.9 18.5v1.3M29.9 152.9v-1.3M27.1 21.3h1.3M161.5 21.3h-1.3M32.7 18.5v1.3M32.7 152.9v-1.3M27.1 24.1h1.3M161.5 24.1h-1.3M35.5 18.5v1.3M35.5 152.9v-1.3M27.1 26.9h1.3M161.5 26.9h-1.3M38.3 18.5v1.3M38.3 152.9v-1.3M27.1 29.7h1.3M161.5 29.7h-1.3M41.1 18.5v1.3M41.1 152.9v-1.3M27.1 32.5h1.3M161.5 32.5h-1.3M43.9 18.5v2.4M43.9 152.9v-2.4M27.1 35.3h2.4M161.5 35.3h-2.4M46.7 18.5v1.3M46.7 152.9v-1.3M27.1 38.1h1.3M161.5 38.1h-1.3M49.5 18.5v1.3M49.5 152.9v-1.3M27.1 40.9h1.3M161.5 40.9h-1.3M52.3 18.5v1.3M52.3 152.9v-1.3M27.1 43.7h1.3M161.5 43.7h-1.3M55.1 18.5v1.3M55.1 152.9v-1.3M27.1 46.5h1.3M161.5 46.5h-1.3M57.9 18.5v1.3M57.9 152.9v-1.3M27.1 49.3h1.3M161.5 49.3h-1.3M60.7 18.5v2.4M60.7 152.9v-2.4M27.1 52.1h2.4M161.5 52.1h-2.4M63.5 18.5v1.3M63.5 152.9v-1.3M27.1 54.9h1.3M161.5 54.9h-1.3M66.3 18.5v1.3M66.3 152.9v-1.3M27.1 57.7h1.3M161.5 57.7h-1.3M69.1 18.5v1.3M69.1 152.9v-1.3M27.1 60.5h1.3M161.5 60.5h-1.3M71.9 18.5v1.3M71.9 152.9v-1.3M27.1 63.3h1.3M161.5 63.3h-1.3M74.7 18.5v1.3M74.7 152.9v-1.3M27.1 66.1h1.3M161.5 66.1h-1.3M77.5 18.5v2.4M77.5 152.9v-2.4M27.1 68.9h2.4M161.5 68.9h-2.4M80.3 18.5v1.3M80.3 152.9v-1.3M27.1 71.7h1.3M161.5 71.7h-1.3M83.1 18.5v1.3M83.1 152.9v-1.3M27.1 74.5h1.3M161.5 74.5h-1.3M85.9 18.5v1.3M85.9 152.9v-1.3M27.1 77.3h1.3M161.5 77.3h-1.3M88.7 18.5v1.3M88.7 152.9v-1.3M27.1 80.1h1.3M161.5 80.1h-1.3M91.5 18.5v1.3M91.5 152.9v-1.3M27.1 82.9h1.3M161.5 82.9h-1.3M94.3 18.5v2.4M94.3 152.9v-2.4M27.1 85.7h2.4M161.5 85.7h-2.4M97.1 18.5v1.3M97.1 152.9v-1.3M27.1 88.5h1.3M161.5 88.5h-1.3M99.9 18.5v1.3M99.9 152.9v-1.3M27.1 91.3h1.3M161.5 91.3h-1.3M102.7 18.5v1.3M102.7 152.9v-1.3M27.1 94.1h1.3M161.5 94.1h-1.3M105.5 18.5v1.3M105.5 152.9v-1.3M27.1 96.9h1.3M161.5 96.9h-1.3M108.3 18.5v1.3M108.3 152.9v-1.3M27.1 99.7h1.3M161.5 99.7h-1.3M111.1 18.5v2.4M111.1 152.9v-2.4M27.1 102.5h2.4M161.5 102.5h-2.4M113.9 18.5v1.3M113.9 152.9v-1.3M27.1 105.3h1.3M161.5 105.3h-1.3M116.7 18.5v1.3M116.7 152.9v-1.3M27.1 108.1h1.3M161.5 108.1h-1.3M119.5 18.5v1.3M119.5 152.9v-1.3M27.1 110.9h1.3M161.5 110.9h-1.3M122.3 18.5v1.3M122.3 152.9v-1.3M27.1 113.7h1.3M161.5 113.7h-1.3M125.1 18.5v1.3M125.1 152.9v-1.3M27.1 116.5h1.3M161.5 116.5h-1.3M127.9 18.5v2.4M127.9 152.9v-2.4M27.1 119.3h2.4M161.5 119.3h-2.4M130.7 18.5v1.3M130.7 152.9v-1.3M27.1 122.1h1.3M161.5 122.1h-1.3M133.5 18.5v1.3M133.5 152.9v-1.3M27.1 124.9h1.3M161.5 124.9h-1.3M136.3 18.5v1.3M136.3 152.9v-1.3M27.1 127.7h1.3M161.5 127.7h-1.3M139.1 18.5v1.3M139.1 152.9v-1.3M27.1 130.5h1.3M161.5 130.5h-1.3M141.9 18.5v1.3M141.9 152.9v-1.3M27.1 133.3h1.3M161.5 133.3h-1.3M144.7 18.5v2.4M144.7 152.9v-2.4M27.1 136.1h2.4M161.5 136.1h-2.4M147.5 18.5v1.3M147.5 152.9v-1.3M27.1 138.9h1.3M161.5 138.9h-1.3M150.3 18.5v1.3M150.3 152.9v-1.3M27.1 141.7h1.3M161.5 141.7h-1.3M153.1 18.5v1.3M153.1 152.9v-1.3M27.1 144.5h1.3M161.5 144.5h-1.3M155.9 18.5v1.3M155.9 152.9v-1.3M27.1 147.3h1.3M161.5 147.3h-1.3M158.7 18.5v1.3M158.7 152.9v-1.3M27.1 150.1h1.3M161.5 150.1h-1.3M161.5 18.5v2.4M161.5 152.9v-2.4M27.1 152.9h2.4M161.5 152.9h-2.4" stroke="#333" stroke-width="0.6" fill="none"/>
<g font-family="'Liberation Sans', Arial, sans-serif" font-size="6.6" fill="#2a2a2a" stroke="#2a2a2a" stroke-width="0.18">
<text transform="translate(27.1 160.9) scale(0.88 1)" text-anchor="middle">-240</text>
<text transform="translate(25.1 153.15) scale(0.88 1)" text-anchor="end">-240</text>
<text transform="translate(43.9 160.9) scale(0.88 1)" text-anchor="middle">-180</text>
<text transform="translate(25.1 139.05) scale(0.88 1)" text-anchor="end">-180</text>
<text transform="translate(60.7 160.9) scale(0.88 1)" text-anchor="middle">-120</text>
<text transform="translate(25.1 122.25) scale(0.88 1)" text-anchor="end">-120</text>
<text transform="translate(77.5 160.9) scale(0.88 1)" text-anchor="middle">-60</text>
<text transform="translate(25.1 105.45) scale(0.88 1)" text-anchor="end">-60</text>
<text transform="translate(94.3 160.9) scale(0.88 1)" text-anchor="middle">0</text>
<text transform="translate(25.1 88.65) scale(0.88 1)" text-anchor="end">0</text>
<text transform="translate(111.1 160.9) scale(0.88 1)" text-anchor="middle">60</text>
<text transform="translate(25.1 71.85) scale(0.88 1)" text-anchor="end">60</text>
<text transform="translate(127.9 160.9) scale(0.88 1)" text-anchor="middle">120</text>
<text transform="translate(25.1 55.05) scale(0.88 1)" text-anchor="end">120</text>
<text transform="translate(144.7 160.9) scale(0.88 1)" text-anchor="middle">180</text>
<text transform="translate(25.1 38.25) scale(0.88 1)" text-anchor="end">180</text>
<text transform="translate(161.5 160.9) scale(0.88 1)" text-anchor="middle">240</text>
<text transform="translate(25.1 22.75) scale(0.88 1)" text-anchor="end">240</text>
<text x="94.3" y="167.7" text-anchor="middle" textLength="67" lengthAdjust="spacingAndGlyphs">Distance from radar [km]</text>
<text transform="translate(8.1 85.7) rotate(-90)" text-anchor="middle" textLength="68" lengthAdjust="spacingAndGlyphs">Distance from radar [km]</text>
</g>
<text x="30.1" y="150.3" font-family="'Liberation Serif', 'Times New Roman', serif" font-size="11.3" fill="#111" stroke="#111" stroke-width="0.25" textLength="26" lengthAdjust="spacingAndGlyphs">MYN</text>
<text x="155.1" y="148.5" font-family="'Liberation Serif', 'Times New Roman', serif" font-size="15" font-weight="bold" fill="#111" text-anchor="end">(a)</text>
<text x="94.3" y="13.7" font-family="'Liberation Serif', 'Times New Roman', serif" font-size="14.5" font-weight="bold" fill="#111" stroke="#111" stroke-width="0.3" text-anchor="middle">R(Z<tspan font-size="10" dy="3.6">h</tspan><tspan dy="-3.6">)</tspan></text>
<path d="M163.5 25.7L165.55 19.3L167.6 25.7Z" fill="#000"/>
<rect x="163.5" y="25.7" width="4.1" height="8.72" fill="#8a3cc4"/>
<rect x="163.5" y="34.22" width="4.1" height="8.72" fill="#f04896"/>
<rect x="163.5" y="42.74" width="4.1" height="8.72" fill="#c80000"/>
<rect x="163.5" y="51.26" width="4.1" height="8.72" fill="#ff0000"/>
<rect x="163.5" y="59.78" width="4.1" height="8.72" fill="#ff8c00"/>
<rect x="163.5" y="68.3" width="4.1" height="8.72" fill="#eaa000"/>
<rect x="163.5" y="76.82" width="4.1" height="8.72" fill="#ffff00"/>
<rect x="163.5" y="85.34" width="4.1" height="8.72" fill="#005a00"/>
<rect x="163.5" y="93.86" width="4.1" height="8.72" fill="#007800"/>
<rect x="163.5" y="102.38" width="4.1" height="8.72" fill="#00a000"/>
<rect x="163.5" y="110.9" width="4.1" height="8.72" fill="#00e000"/>
<rect x="163.5" y="119.42" width="4.1" height="8.72" fill="#0000e0"/>
<rect x="163.5" y="127.94" width="4.1" height="8.72" fill="#0096ff"/>
<rect x="163.5" y="136.46" width="4.1" height="8.72" fill="#00c8ff"/>
<rect x="163.5" y="144.98" width="4.1" height="8.72" fill="#a0a0a0"/>
<rect x="163.5" y="25.7" width="4.1" height="127.8" fill="none" stroke="#555" stroke-width="0.3"/>
<g font-family="'Liberation Sans', Arial, sans-serif" font-size="4.4" fill="#3a3a3a">
<text transform="translate(171.8 28.75) scale(0.9 1)">100.0</text>
<text transform="translate(171.8 37.12) scale(0.9 1)">80.0</text>
<text transform="translate(171.8 45.5) scale(0.9 1)">60.0</text>
<text transform="translate(171.8 53.87) scale(0.9 1)">40.0</text>
<text transform="translate(171.8 62.24) scale(0.9 1)">20.0</text>
<text transform="translate(171.8 70.62) scale(0.9 1)">10.0</text>
<text transform="translate(171.8 78.99) scale(0.9 1)">5.0</text>
<text transform="translate(171.8 87.36) scale(0.9 1)">4.0</text>
<text transform="translate(171.8 95.74) scale(0.9 1)">3.0</text>
<text transform="translate(171.8 104.11) scale(0.9 1)">2.0</text>
<text transform="translate(171.8 112.48) scale(0.9 1)">1.5</text>
<text transform="translate(171.8 120.86) scale(0.9 1)">1.0</text>
<text transform="translate(171.8 129.23) scale(0.9 1)">0.5</text>
<text transform="translate(171.8 137.6) scale(0.9 1)">0.2</text>
<text transform="translate(171.8 145.98) scale(0.9 1)">0.1</text>
<text transform="translate(171.8 154.35) scale(0.9 1)">0.0</text>
</g>
<text transform="translate(182.2 88.2) rotate(-90)" text-anchor="middle" font-family="'Liberation Sans', Arial, sans-serif" font-size="3.9" fill="#3a3a3a">Rainfall [mm h⁻¹]</text>
<clipPath id="clipb"><circle cx="277.3" cy="85.7" r="67.2"/></clipPath>
<g clip-path="url(#clipb)"><g filter="url(#disp)">
<g filter="url(#mb)"><rect x="252.1" y="18.5" width="8.4" height="8.4" fill="#00b900"/><rect x="260.5" y="18.5" width="8.4" height="8.4" fill="#fcd200"/><rect x="268.9" y="18.5" width="33.6" height="8.4" fill="#f5a800"/><rect x="302.5" y="18.5" width="8.4" height="8.4" fill="#fcd200"/><rect x="310.9" y="18.5" width="8.4" height="8.4" fill="#00b900"/><rect x="252.1" y="26.9" width="16.8" height="8.4" fill="#00b900"/><rect x="268.9" y="26.9" width="16.8" height="8.4" fill="#fcd200"/><rect x="285.7" y="26.9" width="8.4" height="8.4" fill="#00b900"/><rect x="294.1" y="26.9" width="8.4" height="8.4" fill="#f5a800"/><rect x="302.5" y="26.9" width="25.2" height="8.4" fill="#00b900"/><rect x="243.7" y="35.3" width="16.8" height="8.4" fill="#00b900"/><rect x="268.9" y="35.3" width="67.2" height="8.4" fill="#00b900"/><rect x="235.3" y="43.7" width="42" height="8.4" fill="#00b900"/><rect x="277.3" y="43.7" width="8.4" height="8.4" fill="#006e00"/><rect x="285.7" y="43.7" width="8.4" height="8.4" fill="#faee00"/><rect x="294.1" y="43.7" width="8.4" height="8.4" fill="#f5a800"/><rect x="302.5" y="43.7" width="33.6" height="8.4" fill="#00b900"/><rect x="235.3" y="52.1" width="42" height="8.4" fill="#00b900"/><rect x="277.3" y="52.1" width="25.2" height="8.4" fill="#f5a800"/><rect x="302.5" y="52.1" width="33.6" height="8.4" fill="#00b900"/><rect x="235.3" y="60.5" width="16.8" height="8.4" fill="#00b900"/><rect x="252.1" y="60.5" width="8.4" height="8.4" fill="#fcd200"/><rect x="260.5" y="60.5" width="42" height="8.4" fill="#f5a800"/><rect x="302.5" y="60.5" width="16.8" height="8.4" fill="#00b900"/><rect x="319.3" y="60.5" width="8.4" height="8.4" fill="#fcd200"/><rect x="235.3" y="68.9" width="16.8" height="8.4" fill="#fcd200"/><rect x="252.1" y="68.9" width="50.4" height="8.4" fill="#f5a800"/><rect x="302.5" y="68.9" width="8.4" height="8.4" fill="#00b900"/><rect x="310.9" y="68.9" width="8.4" height="8.4" fill="#fcd200"/><rect x="226.9" y="77.3" width="8.4" height="8.4" fill="#00b900"/><rect x="235.3" y="77.3" width="75.6" height="8.4" fill="#f5a800"/><rect x="310.9" y="77.3" width="8.4" height="8.4" fill="#00b900"/><rect x="235.3" y="85.7" width="16.8" height="8.4" fill="#00b900"/><rect x="252.1" y="85.7" width="33.6" height="8.4" fill="#f5a800"/><rect x="285.7" y="85.7" width="8.4" height="8.4" fill="#f01400"/><rect x="294.1" y="85.7" width="25.2" height="8.4" fill="#f5a800"/><rect x="319.3" y="85.7" width="16.8" height="8.4" fill="#00b900"/><rect x="226.9" y="94.1" width="16.8" height="8.4" fill="#00b900"/><rect x="243.7" y="94.1" width="67.2" height="8.4" fill="#f5a800"/><rect x="310.9" y="94.1" width="16.8" height="8.4" fill="#00b900"/><rect x="226.9" y="102.5" width="25.2" height="8.4" fill="#f5a800"/><rect x="252.1" y="102.5" width="8.4" height="8.4" fill="#fcd200"/><rect x="260.5" y="102.5" width="8.4" height="8.4" fill="#f5a800"/><rect x="277.3" y="102.5" width="8.4" height="8.4" fill="#b40028"/><rect x="285.7" y="102.5" width="8.4" height="8.4" fill="#f01400"/><rect x="294.1" y="102.5" width="16.8" height="8.4" fill="#f5a800"/><rect x="310.9" y="102.5" width="16.8" height="8.4" fill="#00b900"/><rect x="218.5" y="110.9" width="8.4" height="8.4" fill="#00b900"/><rect x="226.9" y="110.9" width="42" height="8.4" fill="#f5a800"/><rect x="277.3" y="110.9" width="8.4" height="8.4" fill="#b40028"/><rect x="285.7" y="110.9" width="25.2" height="8.4" fill="#f5a800"/><rect x="310.9" y="110.9" width="8.4" height="8.4" fill="#00b900"/><rect x="226.9" y="119.3" width="16.8" height="8.4" fill="#f5a800"/><rect x="243.7" y="119.3" width="8.4" height="8.4" fill="#00b900"/><rect x="252.1" y="119.3" width="8.4" height="8.4" fill="#003ce1"/><rect x="260.5" y="119.3" width="8.4" height="8.4" fill="#f01400"/><rect x="268.9" y="119.3" width="8.4" height="8.4" fill="#b40028"/><rect x="277.3" y="119.3" width="25.2" height="8.4" fill="#f5a800"/><rect x="302.5" y="119.3" width="8.4" height="8.4" fill="#fcd200"/><rect x="226.9" y="127.7" width="33.6" height="8.4" fill="#00b900"/><rect x="260.5" y="127.7" width="8.4" height="8.4" fill="#b40028"/><rect x="268.9" y="127.7" width="8.4" height="8.4" fill="#f01400"/><rect x="277.3" y="127.7" width="8.4" height="8.4" fill="#f5a800"/><rect x="285.7" y="127.7" width="25.2" height="8.4" fill="#00b900"/><rect x="235.3" y="136.1" width="8.4" height="8.4" fill="#00b900"/><rect x="260.5" y="136.1" width="16.8" height="8.4" fill="#f5a800"/><rect x="277.3" y="136.1" width="8.4" height="8.4" fill="#00b900"/><rect x="260.5" y="144.5" width="16.8" height="8.4" fill="#f5a800"/></g>
<g mask="url(#mkt)" filter="url(#mb)"><rect x="252.1" y="18.5" width="8.4" height="8.4" fill="#006e00"/><rect x="260.5" y="18.5" width="8.4" height="8.4" fill="#f5a800"/><rect x="268.9" y="18.5" width="33.6" height="8.4" fill="#fcd200"/><rect x="302.5" y="18.5" width="8.4" height="8.4" fill="#f5a800"/><rect x="310.9" y="18.5" width="8.4" height="8.4" fill="#006e00"/><rect x="252.1" y="26.9" width="16.8" height="8.4" fill="#006e00"/><rect x="268.9" y="26.9" width="16.8" height="8.4" fill="#f5a800"/><rect x="285.7" y="26.9" width="8.4" height="8.4" fill="#006e00"/><rect x="294.1" y="26.9" width="8.4" height="8.4" fill="#fcd200"/><rect x="302.5" y="26.9" width="25.2" height="8.4" fill="#006e00"/><rect x="243.7" y="35.3" width="16.8" height="8.4" fill="#006e00"/><rect x="268.9" y="35.3" width="67.2" height="8.4" fill="#006e00"/><rect x="235.3" y="43.7" width="42" height="8.4" fill="#006e00"/><rect x="277.3" y="43.7" width="8.4" height="8.4" fill="#00b900"/><rect x="285.7" y="43.7" width="16.8" height="8.4" fill="#fcd200"/><rect x="302.5" y="43.7" width="33.6" height="8.4" fill="#006e00"/><rect x="235.3" y="52.1" width="42" height="8.4" fill="#006e00"/><rect x="277.3" y="52.1" width="25.2" height="8.4" fill="#fcd200"/><rect x="302.5" y="52.1" width="33.6" height="8.4" fill="#006e00"/><rect x="235.3" y="60.5" width="16.8" height="8.4" fill="#006e00"/><rect x="252.1" y="60.5" width="8.4" height="8.4" fill="#f5a800"/><rect x="260.5" y="60.5" width="42" height="8.4" fill="#fcd200"/><rect x="302.5" y="60.5" width="16.8" height="8.4" fill="#006e00"/><rect x="319.3" y="60.5" width="8.4" height="8.4" fill="#f5a800"/><rect x="235.3" y="68.9" width="16.8" height="8.4" fill="#f5a800"/><rect x="252.1" y="68.9" width="50.4" height="8.4" fill="#fcd200"/><rect x="302.5" y="68.9" width="8.4" height="8.4" fill="#006e00"/><rect x="310.9" y="68.9" width="8.4" height="8.4" fill="#f5a800"/><rect x="226.9" y="77.3" width="8.4" height="8.4" fill="#006e00"/><rect x="235.3" y="77.3" width="75.6" height="8.4" fill="#fcd200"/><rect x="310.9" y="77.3" width="8.4" height="8.4" fill="#006e00"/><rect x="235.3" y="85.7" width="16.8" height="8.4" fill="#006e00"/><rect x="252.1" y="85.7" width="33.6" height="8.4" fill="#fcd200"/><rect x="285.7" y="85.7" width="8.4" height="8.4" fill="#f5a800"/><rect x="294.1" y="85.7" width="25.2" height="8.4" fill="#fcd200"/><rect x="319.3" y="85.7" width="16.8" height="8.4" fill="#006e00"/><rect x="226.9" y="94.1" width="16.8" height="8.4" fill="#006e00"/><rect x="243.7" y="94.1" width="67.2" height="8.4" fill="#fcd200"/><rect x="310.9" y="94.1" width="16.8" height="8.4" fill="#006e00"/><rect x="226.9" y="102.5" width="25.2" height="8.4" fill="#fcd200"/><rect x="252.1" y="102.5" width="8.4" height="8.4" fill="#f5a800"/><rect x="260.5" y="102.5" width="8.4" height="8.4" fill="#fcd200"/><rect x="277.3" y="102.5" width="8.4" height="8.4" fill="#f01400"/><rect x="285.7" y="102.5" width="8.4" height="8.4" fill="#f5a800"/><rect x="294.1" y="102.5" width="16.8" height="8.4" fill="#fcd200"/><rect x="310.9" y="102.5" width="16.8" height="8.4" fill="#006e00"/><rect x="218.5" y="110.9" width="8.4" height="8.4" fill="#006e00"/><rect x="226.9" y="110.9" width="42" height="8.4" fill="#fcd200"/><rect x="277.3" y="110.9" width="8.4" height="8.4" fill="#f01400"/><rect x="285.7" y="110.9" width="25.2" height="8.4" fill="#fcd200"/><rect x="310.9" y="110.9" width="8.4" height="8.4" fill="#006e00"/><rect x="226.9" y="119.3" width="16.8" height="8.4" fill="#fcd200"/><rect x="243.7" y="119.3" width="8.4" height="8.4" fill="#006e00"/><rect x="252.1" y="119.3" width="8.4" height="8.4" fill="#0096f0"/><rect x="260.5" y="119.3" width="8.4" height="8.4" fill="#f5a800"/><rect x="268.9" y="119.3" width="8.4" height="8.4" fill="#f01400"/><rect x="277.3" y="119.3" width="25.2" height="8.4" fill="#fcd200"/><rect x="302.5" y="119.3" width="8.4" height="8.4" fill="#f5a800"/><rect x="226.9" y="127.7" width="33.6" height="8.4" fill="#006e00"/><rect x="260.5" y="127.7" width="8.4" height="8.4" fill="#f01400"/><rect x="268.9" y="127.7" width="8.4" height="8.4" fill="#f5a800"/><rect x="277.3" y="127.7" width="8.4" height="8.4" fill="#fcd200"/><rect x="285.7" y="127.7" width="25.2" height="8.4" fill="#006e00"/><rect x="235.3" y="136.1" width="8.4" height="8.4" fill="#006e00"/><rect x="260.5" y="136.1" width="16.8" height="8.4" fill="#fcd200"/><rect x="277.3" y="136.1" width="8.4" height="8.4" fill="#006e00"/><rect x="260.5" y="144.5" width="16.8" height="8.4" fill="#fcd200"/></g>
<g mask="url(#mkt2)" filter="url(#mb)"><rect x="260.5" y="18.5" width="50.4" height="8.4" fill="#00b900"/><rect x="268.9" y="26.9" width="16.8" height="8.4" fill="#00b900"/><rect x="294.1" y="26.9" width="8.4" height="8.4" fill="#00b900"/><rect x="285.7" y="43.7" width="16.8" height="8.4" fill="#00b900"/><rect x="277.3" y="52.1" width="25.2" height="8.4" fill="#00b900"/><rect x="252.1" y="60.5" width="50.4" height="8.4" fill="#00b900"/><rect x="319.3" y="60.5" width="8.4" height="8.4" fill="#00b900"/><rect x="235.3" y="68.9" width="67.2" height="8.4" fill="#00b900"/><rect x="310.9" y="68.9" width="8.4" height="8.4" fill="#00b900"/><rect x="235.3" y="77.3" width="75.6" height="8.4" fill="#00b900"/><rect x="252.1" y="85.7" width="33.6" height="8.4" fill="#00b900"/><rect x="294.1" y="85.7" width="25.2" height="8.4" fill="#00b900"/><rect x="243.7" y="94.1" width="67.2" height="8.4" fill="#00b900"/><rect x="226.9" y="102.5" width="42" height="8.4" fill="#00b900"/><rect x="294.1" y="102.5" width="16.8" height="8.4" fill="#00b900"/><rect x="226.9" y="110.9" width="42" height="8.4" fill="#00b900"/><rect x="285.7" y="110.9" width="25.2" height="8.4" fill="#00b900"/><rect x="226.9" y="119.3" width="16.8" height="8.4" fill="#00b900"/><rect x="277.3" y="119.3" width="33.6" height="8.4" fill="#00b900"/><rect x="277.3" y="127.7" width="8.4" height="8.4" fill="#00b900"/><rect x="260.5" y="136.1" width="16.8" height="8.4" fill="#00b900"/><rect x="260.5" y="144.5" width="16.8" height="8.4" fill="#00b900"/></g>
<g mask="url(#mk)"><g filter="url(#mb)"><rect x="260.5" y="18.5" width="8.4" height="8.4" fill="#f5a800"/><rect x="294.1" y="18.5" width="8.4" height="8.4" fill="#fcd200"/><rect x="302.5" y="18.5" width="8.4" height="8.4" fill="#00b900"/><rect x="252.1" y="26.9" width="16.8" height="8.4" fill="#faee00"/><rect x="268.9" y="26.9" width="16.8" height="8.4" fill="#00b900"/><rect x="285.7" y="26.9" width="8.4" height="8.4" fill="#fcd200"/><rect x="302.5" y="26.9" width="8.4" height="8.4" fill="#f5a800"/><rect x="277.3" y="35.3" width="16.8" height="8.4" fill="#faee00"/><rect x="235.3" y="43.7" width="8.4" height="8.4" fill="#003ce1"/><rect x="268.9" y="43.7" width="8.4" height="8.4" fill="#faee00"/><rect x="277.3" y="43.7" width="8.4" height="8.4" fill="#00b900"/><rect x="285.7" y="43.7" width="8.4" height="8.4" fill="#f5a800"/><rect x="310.9" y="43.7" width="8.4" height="8.4" fill="#fcd200"/><rect x="268.9" y="52.1" width="8.4" height="8.4" fill="#fcd200"/><rect x="277.3" y="52.1" width="8.4" height="8.4" fill="#f01400"/><rect x="294.1" y="52.1" width="8.4" height="8.4" fill="#fcd200"/><rect x="302.5" y="52.1" width="8.4" height="8.4" fill="#f5a800"/><rect x="310.9" y="52.1" width="8.4" height="8.4" fill="#fcd200"/><rect x="243.7" y="60.5" width="8.4" height="8.4" fill="#faee00"/><rect x="252.1" y="60.5" width="8.4" height="8.4" fill="#f5a800"/><rect x="268.9" y="60.5" width="8.4" height="8.4" fill="#f01400"/><rect x="319.3" y="60.5" width="8.4" height="8.4" fill="#00b900"/><rect x="235.3" y="68.9" width="8.4" height="8.4" fill="#00b900"/><rect x="243.7" y="68.9" width="8.4" height="8.4" fill="#f5a800"/><rect x="260.5" y="68.9" width="16.8" height="8.4" fill="#f01400"/><rect x="285.7" y="68.9" width="8.4" height="8.4" fill="#fcd200"/><rect x="310.9" y="68.9" width="8.4" height="8.4" fill="#00b900"/><rect x="226.9" y="77.3" width="8.4" height="8.4" fill="#f5a800"/><rect x="235.3" y="77.3" width="8.4" height="8.4" fill="#f01400"/><rect x="277.3" y="77.3" width="16.8" height="8.4" fill="#f01400"/><rect x="302.5" y="77.3" width="8.4" height="8.4" fill="#00b900"/><rect x="243.7" y="85.7" width="8.4" height="8.4" fill="#f5a800"/><rect x="260.5" y="85.7" width="8.4" height="8.4" fill="#00b900"/><rect x="268.9" y="85.7" width="16.8" height="8.4" fill="#f01400"/><rect x="285.7" y="85.7" width="8.4" height="8.4" fill="#f5a800"/><rect x="294.1" y="85.7" width="8.4" height="8.4" fill="#f01400"/><rect x="310.9" y="85.7" width="8.4" height="8.4" fill="#00b900"/><rect x="226.9" y="94.1" width="8.4" height="8.4" fill="#f5a800"/><rect x="243.7" y="94.1" width="8.4" height="8.4" fill="#00b900"/><rect x="268.9" y="94.1" width="8.4" height="8.4" fill="#00b900"/><rect x="277.3" y="94.1" width="16.8" height="8.4" fill="#f01400"/><rect x="310.9" y="94.1" width="8.4" height="8.4" fill="#f5a800"/><rect x="226.9" y="102.5" width="8.4" height="8.4" fill="#f01400"/><rect x="235.3" y="102.5" width="8.4" height="8.4" fill="#00b900"/><rect x="243.7" y="102.5" width="8.4" height="8.4" fill="#fcd200"/><rect x="252.1" y="102.5" width="8.4" height="8.4" fill="#f5a800"/><rect x="277.3" y="102.5" width="8.4" height="8.4" fill="#f01400"/><rect x="285.7" y="102.5" width="8.4" height="8.4" fill="#b40028"/><rect x="294.1" y="102.5" width="8.4" height="8.4" fill="#f01400"/><rect x="302.5" y="102.5" width="8.4" height="8.4" fill="#faee00"/><rect x="218.5" y="110.9" width="8.4" height="8.4" fill="#f5a800"/><rect x="226.9" y="110.9" width="8.4" height="8.4" fill="#f01400"/><rect x="277.3" y="110.9" width="8.4" height="8.4" fill="#961e96"/><rect x="294.1" y="110.9" width="8.4" height="8.4" fill="#f01400"/><rect x="310.9" y="110.9" width="8.4" height="8.4" fill="#fcd200"/><rect x="226.9" y="119.3" width="16.8" height="8.4" fill="#00b900"/><rect x="260.5" y="119.3" width="8.4" height="8.4" fill="#b40028"/><rect x="268.9" y="119.3" width="8.4" height="8.4" fill="#961e96"/><rect x="277.3" y="119.3" width="8.4" height="8.4" fill="#f01400"/><rect x="302.5" y="119.3" width="8.4" height="8.4" fill="#00b900"/><rect x="235.3" y="127.7" width="16.8" height="8.4" fill="#f5a800"/><rect x="277.3" y="127.7" width="8.4" height="8.4" fill="#00b900"/><rect x="285.7" y="127.7" width="8.4" height="8.4" fill="#f5a800"/><rect x="235.3" y="136.1" width="8.4" height="8.4" fill="#f5a800"/><rect x="260.5" y="136.1" width="8.4" height="8.4" fill="#faee00"/><rect x="268.9" y="136.1" width="8.4" height="8.4" fill="#f01400"/><rect x="268.9" y="144.5" width="8.4" height="8.4" fill="#f01400"/></g></g>
<g mask="url(#mkh)"><g filter="url(#mb)"><rect x="252.1" y="52.1" width="8.4" height="8.4" fill="#003ce1"/></g></g>
<g mask="url(#mkl)"><g filter="url(#mb)"></g></g>
<g mask="url(#mk2)"><rect x="252.1" y="18.5" width="8.4" height="8.4" fill="#ffffff"/><rect x="310.9" y="18.5" width="8.4" height="8.4" fill="#ffffff"/><rect x="319.3" y="26.9" width="8.4" height="8.4" fill="#ffffff"/><rect x="252.1" y="35.3" width="8.4" height="8.4" fill="#ffffff"/><rect x="294.1" y="35.3" width="25.2" height="8.4" fill="#ffffff"/><rect x="327.7" y="35.3" width="8.4" height="8.4" fill="#ffffff"/><rect x="327.7" y="52.1" width="8.4" height="8.4" fill="#ffffff"/><rect x="327.7" y="85.7" width="8.4" height="8.4" fill="#ffffff"/><rect x="319.3" y="102.5" width="8.4" height="8.4" fill="#ffffff"/><rect x="260.5" y="110.9" width="8.4" height="8.4" fill="#ffffff"/><rect x="243.7" y="119.3" width="16.8" height="8.4" fill="#ffffff"/><rect x="226.9" y="127.7" width="8.4" height="8.4" fill="#ffffff"/><rect x="252.1" y="127.7" width="25.2" height="8.4" fill="#ffffff"/><rect x="302.5" y="127.7" width="8.4" height="8.4" fill="#ffffff"/><rect x="277.3" y="136.1" width="8.4" height="8.4" fill="#ffffff"/><rect x="260.5" y="144.5" width="8.4" height="8.4" fill="#ffffff"/></g>
<g mask="url(#mk3)"><g filter="url(#mb)"><rect x="243.7" y="26.9" width="8.4" height="8.4" fill="#00b900"/><rect x="235.3" y="35.3" width="8.4" height="8.4" fill="#00b900"/><rect x="260.5" y="35.3" width="8.4" height="8.4" fill="#00b900"/><rect x="226.9" y="43.7" width="8.4" height="8.4" fill="#003ce1"/><rect x="226.9" y="52.1" width="8.4" height="8.4" fill="#003ce1"/><rect x="226.9" y="60.5" width="8.4" height="8.4" fill="#00b900"/><rect x="327.7" y="60.5" width="8.4" height="8.4" fill="#003ce1"/><rect x="226.9" y="68.9" width="8.4" height="8.4" fill="#00b900"/><rect x="319.3" y="68.9" width="8.4" height="8.4" fill="#003ce1"/><rect x="327.7" y="68.9" width="8.4" height="8.4" fill="#00b900"/><rect x="319.3" y="77.3" width="8.4" height="8.4" fill="#00b900"/><rect x="226.9" y="85.7" width="8.4" height="8.4" fill="#00b900"/><rect x="327.7" y="94.1" width="8.4" height="8.4" fill="#00b900"/><rect x="218.5" y="102.5" width="8.4" height="8.4" fill="#f5a800"/><rect x="268.9" y="102.5" width="8.4" height="8.4" fill="#003ce1"/><rect x="268.9" y="110.9" width="8.4" height="8.4" fill="#003ce1"/><rect x="218.5" y="119.3" width="8.4" height="8.4" fill="#00b900"/><rect x="310.9" y="119.3" width="8.4" height="8.4" fill="#00b900"/><rect x="243.7" y="136.1" width="8.4" height="8.4" fill="#00b900"/><rect x="252.1" y="136.1" width="8.4" height="8.4" fill="#f5a800"/><rect x="277.3" y="144.5" width="8.4" height="8.4" fill="#f5a800"/></g></g>
</g></g>
<clipPath id="fclipb"><rect x="210.1" y="18.5" width="134.4" height="134.4"/></clipPath>
<g fill="none" stroke="#505050" stroke-opacity="0.7" stroke-width="0.5" clip-path="url(#fclipb)">
<circle cx="277.3" cy="85.7" r="14"/>
<circle cx="277.3" cy="85.7" r="28"/>
<circle cx="277.3" cy="85.7" r="42"/>
<circle cx="277.3" cy="85.7" r="56"/>
<path d="M210.1 85.7H344.5M277.3 18.5V152.9"/>
<path d="M229.1 18.5 L225.1 24.5 L221.1 30.5 L218.1 35.5 L215.1 36.5 L214.1 40.5 L217.1 43.5 L215.1 46.5 L218.1 49.5 L216.1 53.5 L219.1 56.5 L217.1 60.5 L220.1 64.5 L224.1 66.5 L225.1 70.5 L224.1 76.5 L223.1 82.5 L224.1 88.5 L222.1 94.5 L224.1 100.5 L223.1 106.5 L220.1 110.5 L218.1 114.5 L221.1 118.5 L219.1 122.5 L222.1 126.5 L226.1 130.5 L230.1 134.5 L234.1 138.5 L232.1 144.5 L230.1 152.9M213.1 48.5 L216.1 51.5 L214.1 55.5 L217.1 58.5M212.1 76.5 L215.1 80.5 L213.1 85.5 L216.1 90.5 L214.1 94.5M214.1 102.5 L218.1 106.5 L215.1 110.5M212.1 126.5 L217.1 130.5 L221.1 136.5 L224.1 142.5 L227.1 148.5M219.1 38.5 L221.1 42.5 L220.1 46.5M212.1 62.5 L215.1 65.5 L213.1 70.5"/>
</g>
<rect x="210.1" y="18.5" width="134.4" height="134.4" fill="none" stroke="#333" stroke-width="0.7"/>
<path d="M210.1 18.5v2.4M210.1 152.9v-2.4M210.1 18.5h2.4M344.5 18.5h-2.4M212.9 18.5v1.3M212.9 152.9v-1.3M210.1 21.3h1.3M344.5 21.3h-1.3M215.7 18.5v1.3M215.7 152.9v-1.3M210.1 24.1h1.3M344.5 24.1h-1.3M218.5 18.5v1.3M218.5 152.9v-1.3M210.1 26.9h1.3M344.5 26.9h-1.3M221.3 18.5v1.3M221.3 152.9v-1.3M210.1 29.7h1.3M344.5 29.7h-1.3M224.1 18.5v1.3M224.1 152.9v-1.3M210.1 32.5h1.3M344.5 32.5h-1.3M226.9 18.5v2.4M226.9 152.9v-2.4M210.1 35.3h2.4M344.5 35.3h-2.4M229.7 18.5v1.3M229.7 152.9v-1.3M210.1 38.1h1.3M344.5 38.1h-1.3M232.5 18.5v1.3M232.5 152.9v-1.3M210.1 40.9h1.3M344.5 40.9h-1.3M235.3 18.5v1.3M235.3 152.9v-1.3M210.1 43.7h1.3M344.5 43.7h-1.3M238.1 18.5v1.3M238.1 152.9v-1.3M210.1 46.5h1.3M344.5 46.5h-1.3M240.9 18.5v1.3M240.9 152.9v-1.3M210.1 49.3h1.3M344.5 49.3h-1.3M243.7 18.5v2.4M243.7 152.9v-2.4M210.1 52.1h2.4M344.5 52.1h-2.4M246.5 18.5v1.3M246.5 152.9v-1.3M210.1 54.9h1.3M344.5 54.9h-1.3M249.3 18.5v1.3M249.3 152.9v-1.3M210.1 57.7h1.3M344.5 57.7h-1.3M252.1 18.5v1.3M252.1 152.9v-1.3M210.1 60.5h1.3M344.5 60.5h-1.3M254.9 18.5v1.3M254.9 152.9v-1.3M210.1 63.3h1.3M344.5 63.3h-1.3M257.7 18.5v1.3M257.7 152.9v-1.3M210.1 66.1h1.3M344.5 66.1h-1.3M260.5 18.5v2.4M260.5 152.9v-2.4M210.1 68.9h2.4M344.5 68.9h-2.4M263.3 18.5v1.3M263.3 152.9v-1.3M210.1 71.7h1.3M344.5 71.7h-1.3M266.1 18.5v1.3M266.1 152.9v-1.3M210.1 74.5h1.3M344.5 74.5h-1.3M268.9 18.5v1.3M268.9 152.9v-1.3M210.1 77.3h1.3M344.5 77.3h-1.3M271.7 18.5v1.3M271.7 152.9v-1.3M210.1 80.1h1.3M344.5 80.1h-1.3M274.5 18.5v1.3M274.5 152.9v-1.3M210.1 82.9h1.3M344.5 82.9h-1.3M277.3 18.5v2.4M277.3 152.9v-2.4M210.1 85.7h2.4M344.5 85.7h-2.4M280.1 18.5v1.3M280.1 152.9v-1.3M210.1 88.5h1.3M344.5 88.5h-1.3M282.9 18.5v1.3M282.9 152.9v-1.3M210.1 91.3h1.3M344.5 91.3h-1.3M285.7 18.5v1.3M285.7 152.9v-1.3M210.1 94.1h1.3M344.5 94.1h-1.3M288.5 18.5v1.3M288.5 152.9v-1.3M210.1 96.9h1.3M344.5 96.9h-1.3M291.3 18.5v1.3M291.3 152.9v-1.3M210.1 99.7h1.3M344.5 99.7h-1.3M294.1 18.5v2.4M294.1 152.9v-2.4M210.1 102.5h2.4M344.5 102.5h-2.4M296.9 18.5v1.3M296.9 152.9v-1.3M210.1 105.3h1.3M344.5 105.3h-1.3M299.7 18.5v1.3M299.7 152.9v-1.3M210.1 108.1h1.3M344.5 108.1h-1.3M302.5 18.5v1.3M302.5 152.9v-1.3M210.1 110.9h1.3M344.5 110.9h-1.3M305.3 18.5v1.3M305.3 152.9v-1.3M210.1 113.7h1.3M344.5 113.7h-1.3M308.1 18.5v1.3M308.1 152.9v-1.3M210.1 116.5h1.3M344.5 116.5h-1.3M310.9 18.5v2.4M310.9 152.9v-2.4M210.1 119.3h2.4M344.5 119.3h-2.4M313.7 18.5v1.3M313.7 152.9v-1.3M210.1 122.1h1.3M344.5 122.1h-1.3M316.5 18.5v1.3M316.5 152.9v-1.3M210.1 124.9h1.3M344.5 124.9h-1.3M319.3 18.5v1.3M319.3 152.9v-1.3M210.1 127.7h1.3M344.5 127.7h-1.3M322.1 18.5v1.3M322.1 152.9v-1.3M210.1 130.5h1.3M344.5 130.5h-1.3M324.9 18.5v1.3M324.9 152.9v-1.3M210.1 133.3h1.3M344.5 133.3h-1.3M327.7 18.5v2.4M327.7 152.9v-2.4M210.1 136.1h2.4M344.5 136.1h-2.4M330.5 18.5v1.3M330.5 152.9v-1.3M210.1 138.9h1.3M344.5 138.9h-1.3M333.3 18.5v1.3M333.3 152.9v-1.3M210.1 141.7h1.3M344.5 141.7h-1.3M336.1 18.5v1.3M336.1 152.9v-1.3M210.1 144.5h1.3M344.5 144.5h-1.3M338.9 18.5v1.3M338.9 152.9v-1.3M210.1 147.3h1.3M344.5 147.3h-1.3M341.7 18.5v1.3M341.7 152.9v-1.3M210.1 150.1h1.3M344.5 150.1h-1.3M344.5 18.5v2.4M344.5 152.9v-2.4M210.1 152.9h2.4M344.5 152.9h-2.4" stroke="#333" stroke-width="0.6" fill="none"/>
<g font-family="'Liberation Sans', Arial, sans-serif" font-size="6.6" fill="#2a2a2a" stroke="#2a2a2a" stroke-width="0.18">
<text transform="translate(210.1 160.9) scale(0.88 1)" text-anchor="middle">-240</text>
<text transform="translate(208.1 153.15) scale(0.88 1)" text-anchor="end">-240</text>
<text transform="translate(226.9 160.9) scale(0.88 1)" text-anchor="middle">-180</text>
<text transform="translate(208.1 139.05) scale(0.88 1)" text-anchor="end">-180</text>
<text transform="translate(243.7 160.9) scale(0.88 1)" text-anchor="middle">-120</text>
<text transform="translate(208.1 122.25) scale(0.88 1)" text-anchor="end">-120</text>
<text transform="translate(260.5 160.9) scale(0.88 1)" text-anchor="middle">-60</text>
<text transform="translate(208.1 105.45) scale(0.88 1)" text-anchor="end">-60</text>
<text transform="translate(277.3 160.9) scale(0.88 1)" text-anchor="middle">0</text>
<text transform="translate(208.1 88.65) scale(0.88 1)" text-anchor="end">0</text>
<text transform="translate(294.1 160.9) scale(0.88 1)" text-anchor="middle">60</text>
<text transform="translate(208.1 71.85) scale(0.88 1)" text-anchor="end">60</text>
<text transform="translate(310.9 160.9) scale(0.88 1)" text-anchor="middle">120</text>
<text transform="translate(208.1 55.05) scale(0.88 1)" text-anchor="end">120</text>
<text transform="translate(327.7 160.9) scale(0.88 1)" text-anchor="middle">180</text>
<text transform="translate(208.1 38.25) scale(0.88 1)" text-anchor="end">180</text>
<text transform="translate(344.5 160.9) scale(0.88 1)" text-anchor="middle">240</text>
<text transform="translate(208.1 22.75) scale(0.88 1)" text-anchor="end">240</text>
<text x="277.3" y="167.7" text-anchor="middle" textLength="67" lengthAdjust="spacingAndGlyphs">Distance from radar [km]</text>
<text transform="translate(191.1 85.7) rotate(-90)" text-anchor="middle" textLength="68" lengthAdjust="spacingAndGlyphs">Distance from radar [km]</text>
</g>
<text x="213.1" y="150.3" font-family="'Liberation Serif', 'Times New Roman', serif" font-size="11.3" fill="#111" stroke="#111" stroke-width="0.25" textLength="26" lengthAdjust="spacingAndGlyphs">MYN</text>
<text x="338.1" y="148.5" font-family="'Liberation Serif', 'Times New Roman', serif" font-size="15" font-weight="bold" fill="#111" text-anchor="end">(b)</text>
<text x="277.3" y="13.7" font-family="'Liberation Serif', 'Times New Roman', serif" font-size="14.5" font-weight="bold" fill="#111" stroke="#111" stroke-width="0.3" text-anchor="middle">R(Z<tspan font-size="10" dy="3.6">h</tspan><tspan dy="-3.6">)−ε</tspan><tspan font-size="10" dy="3.6">RF</tspan></text>
<path d="M346.5 25.7L348.55 19.3L350.6 25.7Z" fill="#000"/>
<rect x="346.5" y="25.7" width="4.1" height="8.72" fill="#8a3cc4"/>
<rect x="346.5" y="34.22" width="4.1" height="8.72" fill="#f04896"/>
<rect x="346.5" y="42.74" width="4.1" height="8.72" fill="#c80000"/>
<rect x="346.5" y="51.26" width="4.1" height="8.72" fill="#ff0000"/>
<rect x="346.5" y="59.78" width="4.1" height="8.72" fill="#ff8c00"/>
<rect x="346.5" y="68.3" width="4.1" height="8.72" fill="#eaa000"/>
<rect x="346.5" y="76.82" width="4.1" height="8.72" fill="#ffff00"/>
<rect x="346.5" y="85.34" width="4.1" height="8.72" fill="#005a00"/>
<rect x="346.5" y="93.86" width="4.1" height="8.72" fill="#007800"/>
<rect x="346.5" y="102.38" width="4.1" height="8.72" fill="#00a000"/>
<rect x="346.5" y="110.9" width="4.1" height="8.72" fill="#00e000"/>
<rect x="346.5" y="119.42" width="4.1" height="8.72" fill="#0000e0"/>
<rect x="346.5" y="127.94" width="4.1" height="8.72" fill="#0096ff"/>
<rect x="346.5" y="136.46" width="4.1" height="8.72" fill="#00c8ff"/>
<rect x="346.5" y="144.98" width="4.1" height="8.72" fill="#a0a0a0"/>
<rect x="346.5" y="25.7" width="4.1" height="127.8" fill="none" stroke="#555" stroke-width="0.3"/>
<g font-family="'Liberation Sans', Arial, sans-serif" font-size="4.4" fill="#3a3a3a">
<text transform="translate(354.8 28.75) scale(0.9 1)">100.0</text>
<text transform="translate(354.8 37.12) scale(0.9 1)">80.0</text>
<text transform="translate(354.8 45.5) scale(0.9 1)">60.0</text>
<text transform="translate(354.8 53.87) scale(0.9 1)">40.0</text>
<text transform="translate(354.8 62.24) scale(0.9 1)">20.0</text>
<text transform="translate(354.8 70.62) scale(0.9 1)">10.0</text>
<text transform="translate(354.8 78.99) scale(0.9 1)">5.0</text>
<text transform="translate(354.8 87.36) scale(0.9 1)">4.0</text>
<text transform="translate(354.8 95.74) scale(0.9 1)">3.0</text>
<text transform="translate(354.8 104.11) scale(0.9 1)">2.0</text>
<text transform="translate(354.8 112.48) scale(0.9 1)">1.5</text>
<text transform="translate(354.8 120.86) scale(0.9 1)">1.0</text>
<text transform="translate(354.8 129.23) scale(0.9 1)">0.5</text>
<text transform="translate(354.8 137.6) scale(0.9 1)">0.2</text>
<text transform="translate(354.8 145.98) scale(0.9 1)">0.1</text>
<text transform="translate(354.8 154.35) scale(0.9 1)">0.0</text>
</g>
<text transform="translate(365.2 88.2) rotate(-90)" text-anchor="middle" font-family="'Liberation Sans', Arial, sans-serif" font-size="3.9" fill="#3a3a3a">Rainfall [mm h⁻¹]</text>
<clipPath id="clipc"><circle cx="459.7" cy="85.7" r="67.2"/></clipPath>
<g clip-path="url(#clipc)"><g filter="url(#disp)">
<g filter="url(#mb)"><rect x="434.5" y="18.5" width="8.4" height="8.4" fill="#d2d2d2"/><rect x="442.9" y="18.5" width="8.4" height="8.4" fill="#00b900"/><rect x="451.3" y="18.5" width="25.2" height="8.4" fill="#d2d2d2"/><rect x="476.5" y="18.5" width="8.4" height="8.4" fill="#00b900"/><rect x="484.9" y="18.5" width="16.8" height="8.4" fill="#d2d2d2"/><rect x="426.1" y="26.9" width="16.8" height="8.4" fill="#d2d2d2"/><rect x="442.9" y="26.9" width="8.4" height="8.4" fill="#00b900"/><rect x="451.3" y="26.9" width="8.4" height="8.4" fill="#d2d2d2"/><rect x="459.7" y="26.9" width="8.4" height="8.4" fill="#00b900"/><rect x="468.1" y="26.9" width="8.4" height="8.4" fill="#d2d2d2"/><rect x="476.5" y="26.9" width="8.4" height="8.4" fill="#00b900"/><rect x="484.9" y="26.9" width="25.2" height="8.4" fill="#d2d2d2"/><rect x="417.7" y="35.3" width="25.2" height="8.4" fill="#d2d2d2"/><rect x="442.9" y="35.3" width="8.4" height="8.4" fill="#00b900"/><rect x="451.3" y="35.3" width="16.8" height="8.4" fill="#faee00"/><rect x="468.1" y="35.3" width="16.8" height="8.4" fill="#00b900"/><rect x="484.9" y="35.3" width="25.2" height="8.4" fill="#d2d2d2"/><rect x="409.3" y="43.7" width="25.2" height="8.4" fill="#d2d2d2"/><rect x="434.5" y="43.7" width="8.4" height="8.4" fill="#00b900"/><rect x="442.9" y="43.7" width="25.2" height="8.4" fill="#faee00"/><rect x="468.1" y="43.7" width="25.2" height="8.4" fill="#f5a800"/><rect x="493.3" y="43.7" width="8.4" height="8.4" fill="#00b900"/><rect x="501.7" y="43.7" width="8.4" height="8.4" fill="#d2d2d2"/><rect x="409.3" y="52.1" width="8.4" height="8.4" fill="#d2d2d2"/><rect x="417.7" y="52.1" width="8.4" height="8.4" fill="#00b900"/><rect x="426.1" y="52.1" width="8.4" height="8.4" fill="#006e00"/><rect x="434.5" y="52.1" width="8.4" height="8.4" fill="#00b900"/><rect x="442.9" y="52.1" width="8.4" height="8.4" fill="#faee00"/><rect x="451.3" y="52.1" width="16.8" height="8.4" fill="#f5a800"/><rect x="468.1" y="52.1" width="8.4" height="8.4" fill="#faee00"/><rect x="476.5" y="52.1" width="25.2" height="8.4" fill="#00b900"/><rect x="501.7" y="52.1" width="16.8" height="8.4" fill="#d2d2d2"/><rect x="417.7" y="60.5" width="8.4" height="8.4" fill="#00b900"/><rect x="426.1" y="60.5" width="16.8" height="8.4" fill="#faee00"/><rect x="442.9" y="60.5" width="8.4" height="8.4" fill="#f5a800"/><rect x="451.3" y="60.5" width="16.8" height="8.4" fill="#f01400"/><rect x="468.1" y="60.5" width="25.2" height="8.4" fill="#00b900"/><rect x="493.3" y="60.5" width="8.4" height="8.4" fill="#d2d2d2"/><rect x="501.7" y="60.5" width="8.4" height="8.4" fill="#00b900"/><rect x="510.1" y="60.5" width="8.4" height="8.4" fill="#d2d2d2"/><rect x="409.3" y="68.9" width="8.4" height="8.4" fill="#d2d2d2"/><rect x="417.7" y="68.9" width="8.4" height="8.4" fill="#00b900"/><rect x="426.1" y="68.9" width="8.4" height="8.4" fill="#f5a800"/><rect x="434.5" y="68.9" width="8.4" height="8.4" fill="#faee00"/><rect x="442.9" y="68.9" width="8.4" height="8.4" fill="#f5a800"/><rect x="451.3" y="68.9" width="8.4" height="8.4" fill="#f01400"/><rect x="459.7" y="68.9" width="8.4" height="8.4" fill="#faee00"/><rect x="468.1" y="68.9" width="8.4" height="8.4" fill="#f5a800"/><rect x="476.5" y="68.9" width="16.8" height="8.4" fill="#00b900"/><rect x="493.3" y="68.9" width="25.2" height="8.4" fill="#d2d2d2"/><rect x="409.3" y="77.3" width="8.4" height="8.4" fill="#d2d2d2"/><rect x="417.7" y="77.3" width="8.4" height="8.4" fill="#00b900"/><rect x="426.1" y="77.3" width="16.8" height="8.4" fill="#faee00"/><rect x="442.9" y="77.3" width="8.4" height="8.4" fill="#f5a800"/><rect x="451.3" y="77.3" width="8.4" height="8.4" fill="#faee00"/><rect x="459.7" y="77.3" width="16.8" height="8.4" fill="#f5a800"/><rect x="476.5" y="77.3" width="25.2" height="8.4" fill="#00b900"/><rect x="501.7" y="77.3" width="16.8" height="8.4" fill="#d2d2d2"/><rect x="409.3" y="85.7" width="8.4" height="8.4" fill="#d2d2d2"/><rect x="417.7" y="85.7" width="25.2" height="8.4" fill="#00b900"/><rect x="442.9" y="85.7" width="8.4" height="8.4" fill="#faee00"/><rect x="451.3" y="85.7" width="8.4" height="8.4" fill="#00b900"/><rect x="459.7" y="85.7" width="8.4" height="8.4" fill="#f5a800"/><rect x="468.1" y="85.7" width="8.4" height="8.4" fill="#faee00"/><rect x="476.5" y="85.7" width="8.4" height="8.4" fill="#f01400"/><rect x="484.9" y="85.7" width="8.4" height="8.4" fill="#f5a800"/><rect x="493.3" y="85.7" width="16.8" height="8.4" fill="#00b900"/><rect x="510.1" y="85.7" width="8.4" height="8.4" fill="#d2d2d2"/><rect x="417.7" y="94.1" width="16.8" height="8.4" fill="#00b900"/><rect x="434.5" y="94.1" width="8.4" height="8.4" fill="#faee00"/><rect x="442.9" y="94.1" width="8.4" height="8.4" fill="#f5a800"/><rect x="451.3" y="94.1" width="16.8" height="8.4" fill="#00b900"/><rect x="468.1" y="94.1" width="8.4" height="8.4" fill="#f01400"/><rect x="476.5" y="94.1" width="8.4" height="8.4" fill="#f5a800"/><rect x="484.9" y="94.1" width="8.4" height="8.4" fill="#00b900"/><rect x="493.3" y="94.1" width="8.4" height="8.4" fill="#faee00"/><rect x="501.7" y="94.1" width="8.4" height="8.4" fill="#00b900"/><rect x="409.3" y="102.5" width="16.8" height="8.4" fill="#00b900"/><rect x="426.1" y="102.5" width="8.4" height="8.4" fill="#f5a800"/><rect x="434.5" y="102.5" width="16.8" height="8.4" fill="#faee00"/><rect x="451.3" y="102.5" width="16.8" height="8.4" fill="#00b900"/><rect x="468.1" y="102.5" width="8.4" height="8.4" fill="#f01400"/><rect x="476.5" y="102.5" width="8.4" height="8.4" fill="#f5a800"/><rect x="484.9" y="102.5" width="16.8" height="8.4" fill="#faee00"/><rect x="501.7" y="102.5" width="8.4" height="8.4" fill="#00b900"/><rect x="409.3" y="110.9" width="8.4" height="8.4" fill="#00b900"/><rect x="417.7" y="110.9" width="16.8" height="8.4" fill="#f5a800"/><rect x="434.5" y="110.9" width="8.4" height="8.4" fill="#faee00"/><rect x="442.9" y="110.9" width="8.4" height="8.4" fill="#d2d2d2"/><rect x="451.3" y="110.9" width="16.8" height="8.4" fill="#00b900"/><rect x="468.1" y="110.9" width="16.8" height="8.4" fill="#f01400"/><rect x="484.9" y="110.9" width="16.8" height="8.4" fill="#faee00"/><rect x="409.3" y="119.3" width="33.6" height="8.4" fill="#d2d2d2"/><rect x="442.9" y="119.3" width="25.2" height="8.4" fill="#00b900"/><rect x="468.1" y="119.3" width="16.8" height="8.4" fill="#faee00"/><rect x="484.9" y="119.3" width="8.4" height="8.4" fill="#d2d2d2"/><rect x="409.3" y="127.7" width="16.8" height="8.4" fill="#d2d2d2"/><rect x="442.9" y="127.7" width="25.2" height="8.4" fill="#d2d2d2"/><rect x="476.5" y="127.7" width="8.4" height="8.4" fill="#d2d2d2"/><rect x="451.3" y="136.1" width="8.4" height="8.4" fill="#d2d2d2"/></g>
<g mask="url(#mkt)" filter="url(#mb)"><rect x="434.5" y="18.5" width="8.4" height="8.4" fill="#ffffff"/><rect x="442.9" y="18.5" width="8.4" height="8.4" fill="#006e00"/><rect x="451.3" y="18.5" width="25.2" height="8.4" fill="#ffffff"/><rect x="476.5" y="18.5" width="8.4" height="8.4" fill="#006e00"/><rect x="484.9" y="18.5" width="16.8" height="8.4" fill="#ffffff"/><rect x="426.1" y="26.9" width="16.8" height="8.4" fill="#ffffff"/><rect x="442.9" y="26.9" width="8.4" height="8.4" fill="#006e00"/><rect x="451.3" y="26.9" width="8.4" height="8.4" fill="#ffffff"/><rect x="459.7" y="26.9" width="8.4" height="8.4" fill="#006e00"/><rect x="468.1" y="26.9" width="8.4" height="8.4" fill="#ffffff"/><rect x="476.5" y="26.9" width="8.4" height="8.4" fill="#006e00"/><rect x="484.9" y="26.9" width="25.2" height="8.4" fill="#ffffff"/><rect x="417.7" y="35.3" width="25.2" height="8.4" fill="#ffffff"/><rect x="442.9" y="35.3" width="8.4" height="8.4" fill="#006e00"/><rect x="451.3" y="35.3" width="16.8" height="8.4" fill="#fcd200"/><rect x="468.1" y="35.3" width="16.8" height="8.4" fill="#006e00"/><rect x="484.9" y="35.3" width="25.2" height="8.4" fill="#ffffff"/><rect x="409.3" y="43.7" width="25.2" height="8.4" fill="#ffffff"/><rect x="434.5" y="43.7" width="8.4" height="8.4" fill="#006e00"/><rect x="442.9" y="43.7" width="50.4" height="8.4" fill="#fcd200"/><rect x="493.3" y="43.7" width="8.4" height="8.4" fill="#006e00"/><rect x="501.7" y="43.7" width="8.4" height="8.4" fill="#ffffff"/><rect x="409.3" y="52.1" width="8.4" height="8.4" fill="#ffffff"/><rect x="417.7" y="52.1" width="8.4" height="8.4" fill="#006e00"/><rect x="426.1" y="52.1" width="8.4" height="8.4" fill="#00b900"/><rect x="434.5" y="52.1" width="8.4" height="8.4" fill="#006e00"/><rect x="442.9" y="52.1" width="33.6" height="8.4" fill="#fcd200"/><rect x="476.5" y="52.1" width="25.2" height="8.4" fill="#006e00"/><rect x="501.7" y="52.1" width="16.8" height="8.4" fill="#ffffff"/><rect x="417.7" y="60.5" width="8.4" height="8.4" fill="#006e00"/><rect x="426.1" y="60.5" width="25.2" height="8.4" fill="#fcd200"/><rect x="451.3" y="60.5" width="16.8" height="8.4" fill="#f5a800"/><rect x="468.1" y="60.5" width="25.2" height="8.4" fill="#006e00"/><rect x="493.3" y="60.5" width="8.4" height="8.4" fill="#ffffff"/><rect x="501.7" y="60.5" width="8.4" height="8.4" fill="#006e00"/><rect x="510.1" y="60.5" width="8.4" height="8.4" fill="#ffffff"/><rect x="409.3" y="68.9" width="8.4" height="8.4" fill="#ffffff"/><rect x="417.7" y="68.9" width="8.4" height="8.4" fill="#006e00"/><rect x="426.1" y="68.9" width="25.2" height="8.4" fill="#fcd200"/><rect x="451.3" y="68.9" width="8.4" height="8.4" fill="#f5a800"/><rect x="459.7" y="68.9" width="16.8" height="8.4" fill="#fcd200"/><rect x="476.5" y="68.9" width="16.8" height="8.4" fill="#006e00"/><rect x="493.3" y="68.9" width="25.2" height="8.4" fill="#ffffff"/><rect x="409.3" y="77.3" width="8.4" height="8.4" fill="#ffffff"/><rect x="417.7" y="77.3" width="8.4" height="8.4" fill="#006e00"/><rect x="426.1" y="77.3" width="50.4" height="8.4" fill="#fcd200"/><rect x="476.5" y="77.3" width="25.2" height="8.4" fill="#006e00"/><rect x="501.7" y="77.3" width="16.8" height="8.4" fill="#ffffff"/><rect x="409.3" y="85.7" width="8.4" height="8.4" fill="#ffffff"/><rect x="417.7" y="85.7" width="25.2" height="8.4" fill="#006e00"/><rect x="442.9" y="85.7" width="8.4" height="8.4" fill="#fcd200"/><rect x="451.3" y="85.7" width="8.4" height="8.4" fill="#006e00"/><rect x="459.7" y="85.7" width="16.8" height="8.4" fill="#fcd200"/><rect x="476.5" y="85.7" width="8.4" height="8.4" fill="#f5a800"/><rect x="484.9" y="85.7" width="8.4" height="8.4" fill="#fcd200"/><rect x="493.3" y="85.7" width="16.8" height="8.4" fill="#006e00"/><rect x="510.1" y="85.7" width="8.4" height="8.4" fill="#ffffff"/><rect x="417.7" y="94.1" width="16.8" height="8.4" fill="#006e00"/><rect x="434.5" y="94.1" width="16.8" height="8.4" fill="#fcd200"/><rect x="451.3" y="94.1" width="16.8" height="8.4" fill="#006e00"/><rect x="468.1" y="94.1" width="8.4" height="8.4" fill="#f5a800"/><rect x="476.5" y="94.1" width="8.4" height="8.4" fill="#fcd200"/><rect x="484.9" y="94.1" width="8.4" height="8.4" fill="#006e00"/><rect x="493.3" y="94.1" width="8.4" height="8.4" fill="#fcd200"/><rect x="501.7" y="94.1" width="8.4" height="8.4" fill="#006e00"/><rect x="409.3" y="102.5" width="16.8" height="8.4" fill="#006e00"/><rect x="426.1" y="102.5" width="25.2" height="8.4" fill="#fcd200"/><rect x="451.3" y="102.5" width="16.8" height="8.4" fill="#006e00"/><rect x="468.1" y="102.5" width="8.4" height="8.4" fill="#f5a800"/><rect x="476.5" y="102.5" width="25.2" height="8.4" fill="#fcd200"/><rect x="501.7" y="102.5" width="8.4" height="8.4" fill="#006e00"/><rect x="409.3" y="110.9" width="8.4" height="8.4" fill="#006e00"/><rect x="417.7" y="110.9" width="25.2" height="8.4" fill="#fcd200"/><rect x="442.9" y="110.9" width="8.4" height="8.4" fill="#ffffff"/><rect x="451.3" y="110.9" width="16.8" height="8.4" fill="#006e00"/><rect x="468.1" y="110.9" width="16.8" height="8.4" fill="#f5a800"/><rect x="484.9" y="110.9" width="16.8" height="8.4" fill="#fcd200"/><rect x="409.3" y="119.3" width="33.6" height="8.4" fill="#ffffff"/><rect x="442.9" y="119.3" width="25.2" height="8.4" fill="#006e00"/><rect x="468.1" y="119.3" width="16.8" height="8.4" fill="#fcd200"/><rect x="484.9" y="119.3" width="8.4" height="8.4" fill="#ffffff"/><rect x="409.3" y="127.7" width="16.8" height="8.4" fill="#ffffff"/><rect x="442.9" y="127.7" width="25.2" height="8.4" fill="#ffffff"/><rect x="476.5" y="127.7" width="8.4" height="8.4" fill="#ffffff"/><rect x="451.3" y="136.1" width="8.4" height="8.4" fill="#ffffff"/></g>
<g mask="url(#mkt2)" filter="url(#mb)"></g>
<g mask="url(#mk)"><g filter="url(#mb)"><rect x="434.5" y="18.5" width="8.4" height="8.4" fill="#00b900"/><rect x="442.9" y="18.5" width="8.4" height="8.4" fill="#d2d2d2"/><rect x="451.3" y="18.5" width="25.2" height="8.4" fill="#00b900"/><rect x="476.5" y="18.5" width="8.4" height="8.4" fill="#d2d2d2"/><rect x="484.9" y="18.5" width="8.4" height="8.4" fill="#00b900"/><rect x="434.5" y="26.9" width="8.4" height="8.4" fill="#00b900"/><rect x="442.9" y="26.9" width="8.4" height="8.4" fill="#d2d2d2"/><rect x="451.3" y="26.9" width="8.4" height="8.4" fill="#00b900"/><rect x="459.7" y="26.9" width="8.4" height="8.4" fill="#faee00"/><rect x="468.1" y="26.9" width="8.4" height="8.4" fill="#00b900"/><rect x="476.5" y="26.9" width="8.4" height="8.4" fill="#d2d2d2"/><rect x="484.9" y="26.9" width="8.4" height="8.4" fill="#00b900"/><rect x="434.5" y="35.3" width="8.4" height="8.4" fill="#00b900"/><rect x="442.9" y="35.3" width="8.4" height="8.4" fill="#faee00"/><rect x="451.3" y="35.3" width="8.4" height="8.4" fill="#00b900"/><rect x="459.7" y="35.3" width="8.4" height="8.4" fill="#fcd200"/><rect x="468.1" y="35.3" width="16.8" height="8.4" fill="#d2d2d2"/><rect x="426.1" y="43.7" width="8.4" height="8.4" fill="#00b900"/><rect x="434.5" y="43.7" width="8.4" height="8.4" fill="#d2d2d2"/><rect x="442.9" y="43.7" width="8.4" height="8.4" fill="#00b900"/><rect x="451.3" y="43.7" width="8.4" height="8.4" fill="#fcd200"/><rect x="459.7" y="43.7" width="8.4" height="8.4" fill="#f5a800"/><rect x="468.1" y="43.7" width="16.8" height="8.4" fill="#faee00"/><rect x="484.9" y="43.7" width="8.4" height="8.4" fill="#00b900"/><rect x="493.3" y="43.7" width="8.4" height="8.4" fill="#d2d2d2"/><rect x="417.7" y="52.1" width="8.4" height="8.4" fill="#d2d2d2"/><rect x="426.1" y="52.1" width="8.4" height="8.4" fill="#00b900"/><rect x="434.5" y="52.1" width="8.4" height="8.4" fill="#faee00"/><rect x="442.9" y="52.1" width="8.4" height="8.4" fill="#f5a800"/><rect x="451.3" y="52.1" width="8.4" height="8.4" fill="#faee00"/><rect x="459.7" y="52.1" width="16.8" height="8.4" fill="#00b900"/><rect x="476.5" y="52.1" width="16.8" height="8.4" fill="#006e00"/><rect x="493.3" y="52.1" width="8.4" height="8.4" fill="#d2d2d2"/><rect x="501.7" y="52.1" width="8.4" height="8.4" fill="#00b900"/><rect x="417.7" y="60.5" width="8.4" height="8.4" fill="#006e00"/><rect x="426.1" y="60.5" width="16.8" height="8.4" fill="#00b900"/><rect x="442.9" y="60.5" width="8.4" height="8.4" fill="#faee00"/><rect x="451.3" y="60.5" width="16.8" height="8.4" fill="#f5a800"/><rect x="468.1" y="60.5" width="8.4" height="8.4" fill="#faee00"/><rect x="476.5" y="60.5" width="8.4" height="8.4" fill="#006e00"/><rect x="484.9" y="60.5" width="8.4" height="8.4" fill="#d2d2d2"/><rect x="493.3" y="60.5" width="8.4" height="8.4" fill="#00b900"/><rect x="501.7" y="60.5" width="8.4" height="8.4" fill="#d2d2d2"/><rect x="417.7" y="68.9" width="8.4" height="8.4" fill="#006e00"/><rect x="426.1" y="68.9" width="8.4" height="8.4" fill="#faee00"/><rect x="434.5" y="68.9" width="8.4" height="8.4" fill="#f5a800"/><rect x="442.9" y="68.9" width="8.4" height="8.4" fill="#00b900"/><rect x="451.3" y="68.9" width="16.8" height="8.4" fill="#f5a800"/><rect x="468.1" y="68.9" width="8.4" height="8.4" fill="#faee00"/><rect x="476.5" y="68.9" width="8.4" height="8.4" fill="#006e00"/><rect x="484.9" y="68.9" width="8.4" height="8.4" fill="#d2d2d2"/><rect x="501.7" y="68.9" width="8.4" height="8.4" fill="#00b900"/><rect x="417.7" y="77.3" width="8.4" height="8.4" fill="#faee00"/><rect x="426.1" y="77.3" width="8.4" height="8.4" fill="#00b900"/><rect x="434.5" y="77.3" width="8.4" height="8.4" fill="#f5a800"/><rect x="442.9" y="77.3" width="8.4" height="8.4" fill="#faee00"/><rect x="451.3" y="77.3" width="8.4" height="8.4" fill="#f5a800"/><rect x="459.7" y="77.3" width="16.8" height="8.4" fill="#00b900"/><rect x="476.5" y="77.3" width="16.8" height="8.4" fill="#006e00"/><rect x="493.3" y="77.3" width="8.4" height="8.4" fill="#d2d2d2"/><rect x="501.7" y="77.3" width="8.4" height="8.4" fill="#00b900"/><rect x="417.7" y="85.7" width="8.4" height="8.4" fill="#d2d2d2"/><rect x="426.1" y="85.7" width="16.8" height="8.4" fill="#faee00"/><rect x="442.9" y="85.7" width="8.4" height="8.4" fill="#fcd200"/><rect x="451.3" y="85.7" width="8.4" height="8.4" fill="#f5a800"/><rect x="459.7" y="85.7" width="16.8" height="8.4" fill="#00b900"/><rect x="476.5" y="85.7" width="8.4" height="8.4" fill="#f5a800"/><rect x="484.9" y="85.7" width="8.4" height="8.4" fill="#00b900"/><rect x="493.3" y="85.7" width="8.4" height="8.4" fill="#006e00"/><rect x="501.7" y="85.7" width="8.4" height="8.4" fill="#d2d2d2"/><rect x="417.7" y="94.1" width="8.4" height="8.4" fill="#006e00"/><rect x="426.1" y="94.1" width="8.4" height="8.4" fill="#d2d2d2"/><rect x="434.5" y="94.1" width="8.4" height="8.4" fill="#00b900"/><rect x="442.9" y="94.1" width="8.4" height="8.4" fill="#faee00"/><rect x="451.3" y="94.1" width="8.4" height="8.4" fill="#d2d2d2"/><rect x="459.7" y="94.1" width="8.4" height="8.4" fill="#faee00"/><rect x="468.1" y="94.1" width="8.4" height="8.4" fill="#f5a800"/><rect x="476.5" y="94.1" width="8.4" height="8.4" fill="#f01400"/><rect x="484.9" y="94.1" width="8.4" height="8.4" fill="#faee00"/><rect x="493.3" y="94.1" width="8.4" height="8.4" fill="#00b900"/><rect x="501.7" y="94.1" width="8.4" height="8.4" fill="#d2d2d2"/><rect x="409.3" y="102.5" width="8.4" height="8.4" fill="#d2d2d2"/><rect x="417.7" y="102.5" width="16.8" height="8.4" fill="#faee00"/><rect x="434.5" y="102.5" width="8.4" height="8.4" fill="#f5a800"/><rect x="442.9" y="102.5" width="8.4" height="8.4" fill="#00b900"/><rect x="459.7" y="102.5" width="16.8" height="8.4" fill="#f5a800"/><rect x="476.5" y="102.5" width="8.4" height="8.4" fill="#f01400"/><rect x="484.9" y="102.5" width="8.4" height="8.4" fill="#f5a800"/><rect x="493.3" y="102.5" width="8.4" height="8.4" fill="#00b900"/><rect x="501.7" y="102.5" width="8.4" height="8.4" fill="#d2d2d2"/><rect x="409.3" y="110.9" width="8.4" height="8.4" fill="#d2d2d2"/><rect x="417.7" y="110.9" width="16.8" height="8.4" fill="#faee00"/><rect x="434.5" y="110.9" width="8.4" height="8.4" fill="#00b900"/><rect x="451.3" y="110.9" width="8.4" height="8.4" fill="#006e00"/><rect x="459.7" y="110.9" width="8.4" height="8.4" fill="#faee00"/><rect x="468.1" y="110.9" width="25.2" height="8.4" fill="#f5a800"/><rect x="409.3" y="119.3" width="8.4" height="8.4" fill="#00b900"/><rect x="442.9" y="119.3" width="8.4" height="8.4" fill="#f01400"/><rect x="451.3" y="119.3" width="8.4" height="8.4" fill="#d2d2d2"/><rect x="459.7" y="119.3" width="8.4" height="8.4" fill="#faee00"/><rect x="468.1" y="119.3" width="16.8" height="8.4" fill="#00b900"/><rect x="459.7" y="127.7" width="8.4" height="8.4" fill="#00b900"/></g></g>
<g mask="url(#mkh)"><g filter="url(#mb)"></g></g>
<g mask="url(#mkl)"><g filter="url(#mb)"></g></g>
<g mask="url(#mk2)"><rect x="493.3" y="18.5" width="8.4" height="8.4" fill="#ffffff"/><rect x="426.1" y="26.9" width="8.4" height="8.4" fill="#ffffff"/><rect x="493.3" y="26.9" width="16.8" height="8.4" fill="#ffffff"/><rect x="417.7" y="35.3" width="16.8" height="8.4" fill="#ffffff"/><rect x="484.9" y="35.3" width="25.2" height="8.4" fill="#ffffff"/><rect x="409.3" y="43.7" width="16.8" height="8.4" fill="#ffffff"/><rect x="501.7" y="43.7" width="8.4" height="8.4" fill="#ffffff"/><rect x="409.3" y="52.1" width="8.4" height="8.4" fill="#ffffff"/><rect x="510.1" y="52.1" width="8.4" height="8.4" fill="#ffffff"/><rect x="510.1" y="60.5" width="8.4" height="8.4" fill="#ffffff"/><rect x="409.3" y="68.9" width="8.4" height="8.4" fill="#ffffff"/><rect x="493.3" y="68.9" width="8.4" height="8.4" fill="#ffffff"/><rect x="510.1" y="68.9" width="8.4" height="8.4" fill="#ffffff"/><rect x="409.3" y="77.3" width="8.4" height="8.4" fill="#ffffff"/><rect x="510.1" y="77.3" width="8.4" height="8.4" fill="#ffffff"/><rect x="409.3" y="85.7" width="8.4" height="8.4" fill="#ffffff"/><rect x="510.1" y="85.7" width="8.4" height="8.4" fill="#ffffff"/><rect x="451.3" y="102.5" width="8.4" height="8.4" fill="#ffffff"/><rect x="442.9" y="110.9" width="8.4" height="8.4" fill="#ffffff"/><rect x="493.3" y="110.9" width="8.4" height="8.4" fill="#ffffff"/><rect x="417.7" y="119.3" width="25.2" height="8.4" fill="#ffffff"/><rect x="484.9" y="119.3" width="8.4" height="8.4" fill="#ffffff"/><rect x="409.3" y="127.7" width="16.8" height="8.4" fill="#ffffff"/><rect x="442.9" y="127.7" width="16.8" height="8.4" fill="#ffffff"/><rect x="476.5" y="127.7" width="8.4" height="8.4" fill="#ffffff"/><rect x="451.3" y="136.1" width="8.4" height="8.4" fill="#ffffff"/></g>
<g mask="url(#mk3)"><g filter="url(#mb)"><rect x="426.1" y="18.5" width="8.4" height="8.4" fill="#d2d2d2"/><rect x="417.7" y="26.9" width="8.4" height="8.4" fill="#d2d2d2"/><rect x="409.3" y="35.3" width="8.4" height="8.4" fill="#d2d2d2"/><rect x="510.1" y="43.7" width="8.4" height="8.4" fill="#d2d2d2"/><rect x="409.3" y="60.5" width="8.4" height="8.4" fill="#d2d2d2"/><rect x="409.3" y="94.1" width="8.4" height="8.4" fill="#00b900"/><rect x="400.9" y="102.5" width="8.4" height="8.4" fill="#d2d2d2"/><rect x="400.9" y="110.9" width="8.4" height="8.4" fill="#d2d2d2"/><rect x="400.9" y="119.3" width="8.4" height="8.4" fill="#d2d2d2"/><rect x="426.1" y="127.7" width="16.8" height="8.4" fill="#d2d2d2"/><rect x="468.1" y="127.7" width="8.4" height="8.4" fill="#d2d2d2"/><rect x="434.5" y="136.1" width="8.4" height="8.4" fill="#d2d2d2"/><rect x="442.9" y="136.1" width="8.4" height="8.4" fill="#00b900"/><rect x="442.9" y="144.5" width="8.4" height="8.4" fill="#d2d2d2"/></g></g>
</g></g>
<clipPath id="fclipc"><rect x="392.5" y="18.5" width="134.4" height="134.4"/></clipPath>
<g fill="none" stroke="#505050" stroke-opacity="0.7" stroke-width="0.5" clip-path="url(#fclipc)">
<circle cx="459.7" cy="85.7" r="14"/>
<circle cx="459.7" cy="85.7" r="28"/>
<circle cx="459.7" cy="85.7" r="42"/>
<circle cx="459.7" cy="85.7" r="56"/>
<path d="M392.5 85.7H526.9M459.7 18.5V152.9"/>
<path d="M411.5 18.5 L407.5 24.5 L403.5 30.5 L400.5 35.5 L397.5 36.5 L396.5 40.5 L399.5 43.5 L397.5 46.5 L400.5 49.5 L398.5 53.5 L401.5 56.5 L399.5 60.5 L402.5 64.5 L406.5 66.5 L407.5 70.5 L406.5 76.5 L405.5 82.5 L406.5 88.5 L404.5 94.5 L406.5 100.5 L405.5 106.5 L402.5 110.5 L400.5 114.5 L403.5 118.5 L401.5 122.5 L404.5 126.5 L408.5 130.5 L412.5 134.5 L416.5 138.5 L414.5 144.5 L412.5 152.9M395.5 48.5 L398.5 51.5 L396.5 55.5 L399.5 58.5M394.5 76.5 L397.5 80.5 L395.5 85.5 L398.5 90.5 L396.5 94.5M396.5 102.5 L400.5 106.5 L397.5 110.5M394.5 126.5 L399.5 130.5 L403.5 136.5 L406.5 142.5 L409.5 148.5M401.5 38.5 L403.5 42.5 L402.5 46.5M394.5 62.5 L397.5 65.5 L395.5 70.5"/>
</g>
<rect x="392.5" y="18.5" width="134.4" height="134.4" fill="none" stroke="#333" stroke-width="0.7"/>
<path d="M392.5 18.5v2.4M392.5 152.9v-2.4M392.5 18.5h2.4M526.9 18.5h-2.4M395.3 18.5v1.3M395.3 152.9v-1.3M392.5 21.3h1.3M526.9 21.3h-1.3M398.1 18.5v1.3M398.1 152.9v-1.3M392.5 24.1h1.3M526.9 24.1h-1.3M400.9 18.5v1.3M400.9 152.9v-1.3M392.5 26.9h1.3M526.9 26.9h-1.3M403.7 18.5v1.3M403.7 152.9v-1.3M392.5 29.7h1.3M526.9 29.7h-1.3M406.5 18.5v1.3M406.5 152.9v-1.3M392.5 32.5h1.3M526.9 32.5h-1.3M409.3 18.5v2.4M409.3 152.9v-2.4M392.5 35.3h2.4M526.9 35.3h-2.4M412.1 18.5v1.3M412.1 152.9v-1.3M392.5 38.1h1.3M526.9 38.1h-1.3M414.9 18.5v1.3M414.9 152.9v-1.3M392.5 40.9h1.3M526.9 40.9h-1.3M417.7 18.5v1.3M417.7 152.9v-1.3M392.5 43.7h1.3M526.9 43.7h-1.3M420.5 18.5v1.3M420.5 152.9v-1.3M392.5 46.5h1.3M526.9 46.5h-1.3M423.3 18.5v1.3M423.3 152.9v-1.3M392.5 49.3h1.3M526.9 49.3h-1.3M426.1 18.5v2.4M426.1 152.9v-2.4M392.5 52.1h2.4M526.9 52.1h-2.4M428.9 18.5v1.3M428.9 152.9v-1.3M392.5 54.9h1.3M526.9 54.9h-1.3M431.7 18.5v1.3M431.7 152.9v-1.3M392.5 57.7h1.3M526.9 57.7h-1.3M434.5 18.5v1.3M434.5 152.9v-1.3M392.5 60.5h1.3M526.9 60.5h-1.3M437.3 18.5v1.3M437.3 152.9v-1.3M392.5 63.3h1.3M526.9 63.3h-1.3M440.1 18.5v1.3M440.1 152.9v-1.3M392.5 66.1h1.3M526.9 66.1h-1.3M442.9 18.5v2.4M442.9 152.9v-2.4M392.5 68.9h2.4M526.9 68.9h-2.4M445.7 18.5v1.3M445.7 152.9v-1.3M392.5 71.7h1.3M526.9 71.7h-1.3M448.5 18.5v1.3M448.5 152.9v-1.3M392.5 74.5h1.3M526.9 74.5h-1.3M451.3 18.5v1.3M451.3 152.9v-1.3M392.5 77.3h1.3M526.9 77.3h-1.3M454.1 18.5v1.3M454.1 152.9v-1.3M392.5 80.1h1.3M526.9 80.1h-1.3M456.9 18.5v1.3M456.9 152.9v-1.3M392.5 82.9h1.3M526.9 82.9h-1.3M459.7 18.5v2.4M459.7 152.9v-2.4M392.5 85.7h2.4M526.9 85.7h-2.4M462.5 18.5v1.3M462.5 152.9v-1.3M392.5 88.5h1.3M526.9 88.5h-1.3M465.3 18.5v1.3M465.3 152.9v-1.3M392.5 91.3h1.3M526.9 91.3h-1.3M468.1 18.5v1.3M468.1 152.9v-1.3M392.5 94.1h1.3M526.9 94.1h-1.3M470.9 18.5v1.3M470.9 152.9v-1.3M392.5 96.9h1.3M526.9 96.9h-1.3M473.7 18.5v1.3M473.7 152.9v-1.3M392.5 99.7h1.3M526.9 99.7h-1.3M476.5 18.5v2.4M476.5 152.9v-2.4M392.5 102.5h2.4M526.9 102.5h-2.4M479.3 18.5v1.3M479.3 152.9v-1.3M392.5 105.3h1.3M526.9 105.3h-1.3M482.1 18.5v1.3M482.1 152.9v-1.3M392.5 108.1h1.3M526.9 108.1h-1.3M484.9 18.5v1.3M484.9 152.9v-1.3M392.5 110.9h1.3M526.9 110.9h-1.3M487.7 18.5v1.3M487.7 152.9v-1.3M392.5 113.7h1.3M526.9 113.7h-1.3M490.5 18.5v1.3M490.5 152.9v-1.3M392.5 116.5h1.3M526.9 116.5h-1.3M493.3 18.5v2.4M493.3 152.9v-2.4M392.5 119.3h2.4M526.9 119.3h-2.4M496.1 18.5v1.3M496.1 152.9v-1.3M392.5 122.1h1.3M526.9 122.1h-1.3M498.9 18.5v1.3M498.9 152.9v-1.3M392.5 124.9h1.3M526.9 124.9h-1.3M501.7 18.5v1.3M501.7 152.9v-1.3M392.5 127.7h1.3M526.9 127.7h-1.3M504.5 18.5v1.3M504.5 152.9v-1.3M392.5 130.5h1.3M526.9 130.5h-1.3M507.3 18.5v1.3M507.3 152.9v-1.3M392.5 133.3h1.3M526.9 133.3h-1.3M510.1 18.5v2.4M510.1 152.9v-2.4M392.5 136.1h2.4M526.9 136.1h-2.4M512.9 18.5v1.3M512.9 152.9v-1.3M392.5 138.9h1.3M526.9 138.9h-1.3M515.7 18.5v1.3M515.7 152.9v-1.3M392.5 141.7h1.3M526.9 141.7h-1.3M518.5 18.5v1.3M518.5 152.9v-1.3M392.5 144.5h1.3M526.9 144.5h-1.3M521.3 18.5v1.3M521.3 152.9v-1.3M392.5 147.3h1.3M526.9 147.3h-1.3M524.1 18.5v1.3M524.1 152.9v-1.3M392.5 150.1h1.3M526.9 150.1h-1.3M526.9 18.5v2.4M526.9 152.9v-2.4M392.5 152.9h2.4M526.9 152.9h-2.4" stroke="#333" stroke-width="0.6" fill="none"/>
<g font-family="'Liberation Sans', Arial, sans-serif" font-size="6.6" fill="#2a2a2a" stroke="#2a2a2a" stroke-width="0.18">
<text transform="translate(392.5 160.9) scale(0.88 1)" text-anchor="middle">-240</text>
<text transform="translate(390.5 153.15) scale(0.88 1)" text-anchor="end">-240</text>
<text transform="translate(409.3 160.9) scale(0.88 1)" text-anchor="middle">-180</text>
<text transform="translate(390.5 139.05) scale(0.88 1)" text-anchor="end">-180</text>
<text transform="translate(426.1 160.9) scale(0.88 1)" text-anchor="middle">-120</text>
<text transform="translate(390.5 122.25) scale(0.88 1)" text-anchor="end">-120</text>
<text transform="translate(442.9 160.9) scale(0.88 1)" text-anchor="middle">-60</text>
<text transform="translate(390.5 105.45) scale(0.88 1)" text-anchor="end">-60</text>
<text transform="translate(459.7 160.9) scale(0.88 1)" text-anchor="middle">0</text>
<text transform="translate(390.5 88.65) scale(0.88 1)" text-anchor="end">0</text>
<text transform="translate(476.5 160.9) scale(0.88 1)" text-anchor="middle">60</text>
<text transform="translate(390.5 71.85) scale(0.88 1)" text-anchor="end">60</text>
<text transform="translate(493.3 160.9) scale(0.88 1)" text-anchor="middle">120</text>
<text transform="translate(390.5 55.05) scale(0.88 1)" text-anchor="end">120</text>
<text transform="translate(510.1 160.9) scale(0.88 1)" text-anchor="middle">180</text>
<text transform="translate(390.5 38.25) scale(0.88 1)" text-anchor="end">180</text>
<text transform="translate(526.9 160.9) scale(0.88 1)" text-anchor="middle">240</text>
<text transform="translate(390.5 22.75) scale(0.88 1)" text-anchor="end">240</text>
<text x="459.7" y="167.7" text-anchor="middle" textLength="67" lengthAdjust="spacingAndGlyphs">Distance from radar [km]</text>
<text transform="translate(373.5 85.7) rotate(-90)" text-anchor="middle" textLength="68" lengthAdjust="spacingAndGlyphs">Distance from radar [km]</text>
</g>
<text x="395.5" y="150.3" font-family="'Liberation Serif', 'Times New Roman', serif" font-size="11.3" fill="#111" stroke="#111" stroke-width="0.25" textLength="26" lengthAdjust="spacingAndGlyphs">MYN</text>
<text x="520.5" y="148.5" font-family="'Liberation Serif', 'Times New Roman', serif" font-size="15" font-weight="bold" fill="#111" text-anchor="end">(c)</text>
<text x="459.7" y="13.7" font-family="'Liberation Serif', 'Times New Roman', serif" font-size="14.5" font-weight="bold" fill="#111" stroke="#111" stroke-width="0.3" text-anchor="middle">ε<tspan font-size="10" dy="3.6">RF</tspan></text>
<path d="M528.9 25.7L530.95 19.3L533 25.7Z" fill="#000"/>
<rect x="528.9" y="25.7" width="4.1" height="8.72" fill="#8a3cc4"/>
<rect x="528.9" y="34.22" width="4.1" height="8.72" fill="#f04896"/>
<rect x="528.9" y="42.74" width="4.1" height="8.72" fill="#c80000"/>
<rect x="528.9" y="51.26" width="4.1" height="8.72" fill="#ff0000"/>
<rect x="528.9" y="59.78" width="4.1" height="8.72" fill="#ff8c00"/>
<rect x="528.9" y="68.3" width="4.1" height="8.72" fill="#eaa000"/>
<rect x="528.9" y="76.82" width="4.1" height="8.72" fill="#ffff00"/>
<rect x="528.9" y="85.34" width="4.1" height="8.72" fill="#c8c8c8"/>
<rect x="528.9" y="93.86" width="4.1" height="8.72" fill="#005a00"/>
<rect x="528.9" y="102.38" width="4.1" height="8.72" fill="#007800"/>
<rect x="528.9" y="110.9" width="4.1" height="8.72" fill="#00a000"/>
<rect x="528.9" y="119.42" width="4.1" height="8.72" fill="#00e000"/>
<rect x="528.9" y="127.94" width="4.1" height="8.72" fill="#0000e0"/>
<rect x="528.9" y="136.46" width="4.1" height="8.72" fill="#0096ff"/>
<rect x="528.9" y="144.98" width="4.1" height="8.72" fill="#00c8ff"/>
<rect x="528.9" y="25.7" width="4.1" height="127.8" fill="none" stroke="#555" stroke-width="0.3"/>
<g font-family="'Liberation Sans', Arial, sans-serif" font-size="4.4" fill="#3a3a3a">
<text transform="translate(537.2 28.75) scale(0.9 1)">50.0</text>
<text transform="translate(537.2 37.12) scale(0.9 1)">30.0</text>
<text transform="translate(537.2 45.5) scale(0.9 1)">20.0</text>
<text transform="translate(537.2 53.87) scale(0.9 1)">10.0</text>
<text transform="translate(537.2 62.24) scale(0.9 1)">5.0</text>
<text transform="translate(537.2 70.62) scale(0.9 1)">2.0</text>
<text transform="translate(537.2 78.99) scale(0.9 1)">1.0</text>
<text transform="translate(537.2 87.36) scale(0.9 1)">0.1</text>
<text transform="translate(537.2 95.74) scale(0.9 1)">-0.1</text>
<text transform="translate(537.2 104.11) scale(0.9 1)">-1.0</text>
<text transform="translate(537.2 112.48) scale(0.9 1)">-2.0</text>
<text transform="translate(537.2 120.86) scale(0.9 1)">-5.0</text>
<text transform="translate(537.2 129.23) scale(0.9 1)">-10.0</text>
<text transform="translate(537.2 137.6) scale(0.9 1)">-20.0</text>
<text transform="translate(537.2 145.98) scale(0.9 1)">-30.0</text>
<text transform="translate(537.2 154.35) scale(0.9 1)">-50.0</text>
</g>
<text transform="translate(547.6 88.2) rotate(-90)" text-anchor="middle" font-family="'Liberation Sans', Arial, sans-serif" font-size="3.9" fill="#3a3a3a">Residual [mm h⁻¹]</text>
<clipPath id="clipd"><circle cx="94.3" cy="256.8" r="67.2"/></clipPath>
<g clip-path="url(#clipd)"><g filter="url(#disp)">
<g filter="url(#mb)"><rect x="69.1" y="189.6" width="16.8" height="8.4" fill="#009600"/><rect x="85.9" y="189.6" width="16.8" height="8.4" fill="#faee00"/><rect x="102.7" y="189.6" width="8.4" height="8.4" fill="#009600"/><rect x="111.1" y="189.6" width="8.4" height="8.4" fill="#faee00"/><rect x="119.5" y="189.6" width="8.4" height="8.4" fill="#009600"/><rect x="69.1" y="198" width="25.2" height="8.4" fill="#009600"/><rect x="94.3" y="198" width="8.4" height="8.4" fill="#faee00"/><rect x="102.7" y="198" width="33.6" height="8.4" fill="#009600"/><rect x="60.7" y="206.4" width="58.8" height="8.4" fill="#009600"/><rect x="127.9" y="206.4" width="16.8" height="8.4" fill="#009600"/><rect x="52.3" y="214.8" width="58.8" height="8.4" fill="#009600"/><rect x="111.1" y="214.8" width="8.4" height="8.4" fill="#faee00"/><rect x="119.5" y="214.8" width="25.2" height="8.4" fill="#009600"/><rect x="52.3" y="223.2" width="25.2" height="8.4" fill="#009600"/><rect x="77.5" y="223.2" width="8.4" height="8.4" fill="#faee00"/><rect x="85.9" y="223.2" width="8.4" height="8.4" fill="#009600"/><rect x="94.3" y="223.2" width="25.2" height="8.4" fill="#faee00"/><rect x="119.5" y="223.2" width="16.8" height="8.4" fill="#009600"/><rect x="136.3" y="223.2" width="8.4" height="8.4" fill="#006e00"/><rect x="144.7" y="223.2" width="8.4" height="8.4" fill="#009600"/><rect x="52.3" y="231.6" width="8.4" height="8.4" fill="#009600"/><rect x="60.7" y="231.6" width="25.2" height="8.4" fill="#faee00"/><rect x="85.9" y="231.6" width="8.4" height="8.4" fill="#009600"/><rect x="94.3" y="231.6" width="33.6" height="8.4" fill="#faee00"/><rect x="127.9" y="231.6" width="8.4" height="8.4" fill="#009600"/><rect x="136.3" y="231.6" width="8.4" height="8.4" fill="#006e00"/><rect x="144.7" y="231.6" width="8.4" height="8.4" fill="#009600"/><rect x="43.9" y="240" width="8.4" height="8.4" fill="#009600"/><rect x="52.3" y="240" width="25.2" height="8.4" fill="#faee00"/><rect x="77.5" y="240" width="8.4" height="8.4" fill="#009600"/><rect x="85.9" y="240" width="16.8" height="8.4" fill="#faee00"/><rect x="102.7" y="240" width="8.4" height="8.4" fill="#fcd200"/><rect x="111.1" y="240" width="16.8" height="8.4" fill="#faee00"/><rect x="127.9" y="240" width="8.4" height="8.4" fill="#009600"/><rect x="136.3" y="240" width="8.4" height="8.4" fill="#006e00"/><rect x="144.7" y="240" width="8.4" height="8.4" fill="#009600"/><rect x="43.9" y="248.4" width="8.4" height="8.4" fill="#009600"/><rect x="52.3" y="248.4" width="8.4" height="8.4" fill="#faee00"/><rect x="60.7" y="248.4" width="8.4" height="8.4" fill="#009600"/><rect x="69.1" y="248.4" width="8.4" height="8.4" fill="#faee00"/><rect x="77.5" y="248.4" width="8.4" height="8.4" fill="#009600"/><rect x="85.9" y="248.4" width="33.6" height="8.4" fill="#faee00"/><rect x="119.5" y="248.4" width="16.8" height="8.4" fill="#009600"/><rect x="136.3" y="248.4" width="8.4" height="8.4" fill="#006e00"/><rect x="144.7" y="248.4" width="8.4" height="8.4" fill="#009600"/><rect x="43.9" y="256.8" width="8.4" height="8.4" fill="#009600"/><rect x="52.3" y="256.8" width="16.8" height="8.4" fill="#faee00"/><rect x="69.1" y="256.8" width="16.8" height="8.4" fill="#009600"/><rect x="85.9" y="256.8" width="8.4" height="8.4" fill="#faee00"/><rect x="94.3" y="256.8" width="16.8" height="8.4" fill="#fcd200"/><rect x="111.1" y="256.8" width="16.8" height="8.4" fill="#faee00"/><rect x="127.9" y="256.8" width="8.4" height="8.4" fill="#009600"/><rect x="136.3" y="256.8" width="8.4" height="8.4" fill="#006e00"/><rect x="144.7" y="256.8" width="8.4" height="8.4" fill="#009600"/><rect x="43.9" y="265.2" width="33.6" height="8.4" fill="#faee00"/><rect x="77.5" y="265.2" width="8.4" height="8.4" fill="#009600"/><rect x="85.9" y="265.2" width="8.4" height="8.4" fill="#faee00"/><rect x="94.3" y="265.2" width="8.4" height="8.4" fill="#fcd200"/><rect x="102.7" y="265.2" width="25.2" height="8.4" fill="#faee00"/><rect x="127.9" y="265.2" width="8.4" height="8.4" fill="#009600"/><rect x="136.3" y="265.2" width="8.4" height="8.4" fill="#006e00"/><rect x="35.5" y="273.6" width="8.4" height="8.4" fill="#009600"/><rect x="43.9" y="273.6" width="25.2" height="8.4" fill="#faee00"/><rect x="69.1" y="273.6" width="8.4" height="8.4" fill="#009600"/><rect x="85.9" y="273.6" width="8.4" height="8.4" fill="#faee00"/><rect x="94.3" y="273.6" width="16.8" height="8.4" fill="#fcd200"/><rect x="111.1" y="273.6" width="16.8" height="8.4" fill="#faee00"/><rect x="127.9" y="273.6" width="16.8" height="8.4" fill="#009600"/><rect x="35.5" y="282" width="8.4" height="8.4" fill="#009600"/><rect x="43.9" y="282" width="8.4" height="8.4" fill="#faee00"/><rect x="52.3" y="282" width="8.4" height="8.4" fill="#009600"/><rect x="60.7" y="282" width="8.4" height="8.4" fill="#faee00"/><rect x="69.1" y="282" width="8.4" height="8.4" fill="#009600"/><rect x="85.9" y="282" width="8.4" height="8.4" fill="#fcd200"/><rect x="94.3" y="282" width="8.4" height="8.4" fill="#f01400"/><rect x="102.7" y="282" width="16.8" height="8.4" fill="#faee00"/><rect x="119.5" y="282" width="16.8" height="8.4" fill="#009600"/><rect x="35.5" y="290.4" width="42" height="8.4" fill="#009600"/><rect x="77.5" y="290.4" width="8.4" height="8.4" fill="#fcd200"/><rect x="85.9" y="290.4" width="8.4" height="8.4" fill="#f01400"/><rect x="94.3" y="290.4" width="8.4" height="8.4" fill="#f5a800"/><rect x="102.7" y="290.4" width="25.2" height="8.4" fill="#009600"/><rect x="127.9" y="290.4" width="8.4" height="8.4" fill="#006e00"/><rect x="52.3" y="298.8" width="8.4" height="8.4" fill="#009600"/><rect x="77.5" y="298.8" width="42" height="8.4" fill="#009600"/><rect x="85.9" y="307.2" width="8.4" height="8.4" fill="#009600"/><rect x="85.9" y="315.6" width="8.4" height="8.4" fill="#faee00"/></g>
<g mask="url(#mkt)" filter="url(#mb)"><rect x="69.1" y="189.6" width="16.8" height="8.4" fill="#006e00"/><rect x="85.9" y="189.6" width="16.8" height="8.4" fill="#fcd200"/><rect x="102.7" y="189.6" width="8.4" height="8.4" fill="#006e00"/><rect x="111.1" y="189.6" width="8.4" height="8.4" fill="#fcd200"/><rect x="119.5" y="189.6" width="8.4" height="8.4" fill="#006e00"/><rect x="69.1" y="198" width="25.2" height="8.4" fill="#006e00"/><rect x="94.3" y="198" width="8.4" height="8.4" fill="#fcd200"/><rect x="102.7" y="198" width="33.6" height="8.4" fill="#006e00"/><rect x="60.7" y="206.4" width="58.8" height="8.4" fill="#006e00"/><rect x="127.9" y="206.4" width="16.8" height="8.4" fill="#006e00"/><rect x="52.3" y="214.8" width="58.8" height="8.4" fill="#006e00"/><rect x="111.1" y="214.8" width="8.4" height="8.4" fill="#fcd200"/><rect x="119.5" y="214.8" width="25.2" height="8.4" fill="#006e00"/><rect x="52.3" y="223.2" width="25.2" height="8.4" fill="#006e00"/><rect x="77.5" y="223.2" width="8.4" height="8.4" fill="#fcd200"/><rect x="85.9" y="223.2" width="8.4" height="8.4" fill="#006e00"/><rect x="94.3" y="223.2" width="25.2" height="8.4" fill="#fcd200"/><rect x="119.5" y="223.2" width="16.8" height="8.4" fill="#006e00"/><rect x="136.3" y="223.2" width="8.4" height="8.4" fill="#00b900"/><rect x="144.7" y="223.2" width="8.4" height="8.4" fill="#006e00"/><rect x="52.3" y="231.6" width="8.4" height="8.4" fill="#006e00"/><rect x="60.7" y="231.6" width="25.2" height="8.4" fill="#fcd200"/><rect x="85.9" y="231.6" width="8.4" height="8.4" fill="#006e00"/><rect x="94.3" y="231.6" width="33.6" height="8.4" fill="#fcd200"/><rect x="127.9" y="231.6" width="8.4" height="8.4" fill="#006e00"/><rect x="136.3" y="231.6" width="8.4" height="8.4" fill="#00b900"/><rect x="144.7" y="231.6" width="8.4" height="8.4" fill="#006e00"/><rect x="43.9" y="240" width="8.4" height="8.4" fill="#006e00"/><rect x="52.3" y="240" width="25.2" height="8.4" fill="#fcd200"/><rect x="77.5" y="240" width="8.4" height="8.4" fill="#006e00"/><rect x="85.9" y="240" width="16.8" height="8.4" fill="#fcd200"/><rect x="102.7" y="240" width="8.4" height="8.4" fill="#f5a800"/><rect x="111.1" y="240" width="16.8" height="8.4" fill="#fcd200"/><rect x="127.9" y="240" width="8.4" height="8.4" fill="#006e00"/><rect x="136.3" y="240" width="8.4" height="8.4" fill="#00b900"/><rect x="144.7" y="240" width="8.4" height="8.4" fill="#006e00"/><rect x="43.9" y="248.4" width="8.4" height="8.4" fill="#006e00"/><rect x="52.3" y="248.4" width="8.4" height="8.4" fill="#fcd200"/><rect x="60.7" y="248.4" width="8.4" height="8.4" fill="#006e00"/><rect x="69.1" y="248.4" width="8.4" height="8.4" fill="#fcd200"/><rect x="77.5" y="248.4" width="8.4" height="8.4" fill="#006e00"/><rect x="85.9" y="248.4" width="33.6" height="8.4" fill="#fcd200"/><rect x="119.5" y="248.4" width="16.8" height="8.4" fill="#006e00"/><rect x="136.3" y="248.4" width="8.4" height="8.4" fill="#00b900"/><rect x="144.7" y="248.4" width="8.4" height="8.4" fill="#006e00"/><rect x="43.9" y="256.8" width="8.4" height="8.4" fill="#006e00"/><rect x="52.3" y="256.8" width="16.8" height="8.4" fill="#fcd200"/><rect x="69.1" y="256.8" width="16.8" height="8.4" fill="#006e00"/><rect x="85.9" y="256.8" width="8.4" height="8.4" fill="#fcd200"/><rect x="94.3" y="256.8" width="16.8" height="8.4" fill="#f5a800"/><rect x="111.1" y="256.8" width="16.8" height="8.4" fill="#fcd200"/><rect x="127.9" y="256.8" width="8.4" height="8.4" fill="#006e00"/><rect x="136.3" y="256.8" width="8.4" height="8.4" fill="#00b900"/><rect x="144.7" y="256.8" width="8.4" height="8.4" fill="#006e00"/><rect x="43.9" y="265.2" width="33.6" height="8.4" fill="#fcd200"/><rect x="77.5" y="265.2" width="8.4" height="8.4" fill="#006e00"/><rect x="85.9" y="265.2" width="8.4" height="8.4" fill="#fcd200"/><rect x="94.3" y="265.2" width="8.4" height="8.4" fill="#f5a800"/><rect x="102.7" y="265.2" width="25.2" height="8.4" fill="#fcd200"/><rect x="127.9" y="265.2" width="8.4" height="8.4" fill="#006e00"/><rect x="136.3" y="265.2" width="8.4" height="8.4" fill="#00b900"/><rect x="35.5" y="273.6" width="8.4" height="8.4" fill="#006e00"/><rect x="43.9" y="273.6" width="25.2" height="8.4" fill="#fcd200"/><rect x="69.1" y="273.6" width="8.4" height="8.4" fill="#006e00"/><rect x="85.9" y="273.6" width="8.4" height="8.4" fill="#fcd200"/><rect x="94.3" y="273.6" width="16.8" height="8.4" fill="#f5a800"/><rect x="111.1" y="273.6" width="16.8" height="8.4" fill="#fcd200"/><rect x="127.9" y="273.6" width="16.8" height="8.4" fill="#006e00"/><rect x="35.5" y="282" width="8.4" height="8.4" fill="#006e00"/><rect x="43.9" y="282" width="8.4" height="8.4" fill="#fcd200"/><rect x="52.3" y="282" width="8.4" height="8.4" fill="#006e00"/><rect x="60.7" y="282" width="8.4" height="8.4" fill="#fcd200"/><rect x="69.1" y="282" width="8.4" height="8.4" fill="#006e00"/><rect x="85.9" y="282" width="16.8" height="8.4" fill="#f5a800"/><rect x="102.7" y="282" width="16.8" height="8.4" fill="#fcd200"/><rect x="119.5" y="282" width="16.8" height="8.4" fill="#006e00"/><rect x="35.5" y="290.4" width="42" height="8.4" fill="#006e00"/><rect x="77.5" y="290.4" width="16.8" height="8.4" fill="#f5a800"/><rect x="94.3" y="290.4" width="8.4" height="8.4" fill="#fcd200"/><rect x="102.7" y="290.4" width="25.2" height="8.4" fill="#006e00"/><rect x="127.9" y="290.4" width="8.4" height="8.4" fill="#00b900"/><rect x="52.3" y="298.8" width="8.4" height="8.4" fill="#006e00"/><rect x="77.5" y="298.8" width="42" height="8.4" fill="#006e00"/><rect x="85.9" y="307.2" width="8.4" height="8.4" fill="#006e00"/><rect x="85.9" y="315.6" width="8.4" height="8.4" fill="#fcd200"/></g>
<g mask="url(#mkt2)" filter="url(#mb)"></g>
<g mask="url(#mk)"><g filter="url(#mb)"><rect x="69.1" y="189.6" width="16.8" height="8.4" fill="#faee00"/><rect x="85.9" y="189.6" width="16.8" height="8.4" fill="#009600"/><rect x="102.7" y="189.6" width="8.4" height="8.4" fill="#faee00"/><rect x="111.1" y="189.6" width="8.4" height="8.4" fill="#009600"/><rect x="77.5" y="198" width="16.8" height="8.4" fill="#faee00"/><rect x="94.3" y="198" width="8.4" height="8.4" fill="#009600"/><rect x="111.1" y="198" width="8.4" height="8.4" fill="#006e00"/><rect x="77.5" y="206.4" width="16.8" height="8.4" fill="#faee00"/><rect x="102.7" y="206.4" width="8.4" height="8.4" fill="#006e00"/><rect x="85.9" y="214.8" width="25.2" height="8.4" fill="#faee00"/><rect x="111.1" y="214.8" width="8.4" height="8.4" fill="#009600"/><rect x="119.5" y="214.8" width="8.4" height="8.4" fill="#faee00"/><rect x="127.9" y="214.8" width="8.4" height="8.4" fill="#006e00"/><rect x="69.1" y="223.2" width="8.4" height="8.4" fill="#faee00"/><rect x="77.5" y="223.2" width="8.4" height="8.4" fill="#009600"/><rect x="85.9" y="223.2" width="8.4" height="8.4" fill="#faee00"/><rect x="94.3" y="223.2" width="8.4" height="8.4" fill="#fcd200"/><rect x="102.7" y="223.2" width="16.8" height="8.4" fill="#009600"/><rect x="119.5" y="223.2" width="8.4" height="8.4" fill="#faee00"/><rect x="127.9" y="223.2" width="8.4" height="8.4" fill="#006e00"/><rect x="136.3" y="223.2" width="8.4" height="8.4" fill="#009600"/><rect x="52.3" y="231.6" width="8.4" height="8.4" fill="#faee00"/><rect x="60.7" y="231.6" width="25.2" height="8.4" fill="#009600"/><rect x="85.9" y="231.6" width="8.4" height="8.4" fill="#faee00"/><rect x="94.3" y="231.6" width="8.4" height="8.4" fill="#f5a800"/><rect x="102.7" y="231.6" width="25.2" height="8.4" fill="#009600"/><rect x="127.9" y="231.6" width="8.4" height="8.4" fill="#006e00"/><rect x="136.3" y="231.6" width="8.4" height="8.4" fill="#009600"/><rect x="43.9" y="240" width="8.4" height="8.4" fill="#faee00"/><rect x="52.3" y="240" width="25.2" height="8.4" fill="#009600"/><rect x="77.5" y="240" width="8.4" height="8.4" fill="#faee00"/><rect x="85.9" y="240" width="8.4" height="8.4" fill="#009600"/><rect x="94.3" y="240" width="16.8" height="8.4" fill="#f5a800"/><rect x="111.1" y="240" width="16.8" height="8.4" fill="#009600"/><rect x="136.3" y="240" width="8.4" height="8.4" fill="#009600"/><rect x="52.3" y="248.4" width="8.4" height="8.4" fill="#009600"/><rect x="60.7" y="248.4" width="8.4" height="8.4" fill="#faee00"/><rect x="69.1" y="248.4" width="8.4" height="8.4" fill="#009600"/><rect x="77.5" y="248.4" width="8.4" height="8.4" fill="#faee00"/><rect x="85.9" y="248.4" width="8.4" height="8.4" fill="#009600"/><rect x="94.3" y="248.4" width="16.8" height="8.4" fill="#f5a800"/><rect x="111.1" y="248.4" width="8.4" height="8.4" fill="#009600"/><rect x="119.5" y="248.4" width="8.4" height="8.4" fill="#faee00"/><rect x="127.9" y="248.4" width="8.4" height="8.4" fill="#006e00"/><rect x="136.3" y="248.4" width="8.4" height="8.4" fill="#009600"/><rect x="43.9" y="256.8" width="8.4" height="8.4" fill="#faee00"/><rect x="52.3" y="256.8" width="16.8" height="8.4" fill="#009600"/><rect x="69.1" y="256.8" width="8.4" height="8.4" fill="#faee00"/><rect x="85.9" y="256.8" width="8.4" height="8.4" fill="#009600"/><rect x="94.3" y="256.8" width="16.8" height="8.4" fill="#f5a800"/><rect x="111.1" y="256.8" width="16.8" height="8.4" fill="#009600"/><rect x="127.9" y="256.8" width="8.4" height="8.4" fill="#faee00"/><rect x="136.3" y="256.8" width="8.4" height="8.4" fill="#009600"/><rect x="43.9" y="265.2" width="33.6" height="8.4" fill="#009600"/><rect x="85.9" y="265.2" width="8.4" height="8.4" fill="#003ce1"/><rect x="94.3" y="265.2" width="16.8" height="8.4" fill="#f5a800"/><rect x="111.1" y="265.2" width="16.8" height="8.4" fill="#009600"/><rect x="127.9" y="265.2" width="8.4" height="8.4" fill="#006e00"/><rect x="136.3" y="265.2" width="8.4" height="8.4" fill="#009600"/><rect x="43.9" y="273.6" width="25.2" height="8.4" fill="#009600"/><rect x="85.9" y="273.6" width="8.4" height="8.4" fill="#fcd200"/><rect x="94.3" y="273.6" width="8.4" height="8.4" fill="#f01400"/><rect x="102.7" y="273.6" width="8.4" height="8.4" fill="#faee00"/><rect x="111.1" y="273.6" width="16.8" height="8.4" fill="#009600"/><rect x="127.9" y="273.6" width="8.4" height="8.4" fill="#006e00"/><rect x="35.5" y="282" width="8.4" height="8.4" fill="#faee00"/><rect x="43.9" y="282" width="8.4" height="8.4" fill="#009600"/><rect x="52.3" y="282" width="8.4" height="8.4" fill="#faee00"/><rect x="60.7" y="282" width="8.4" height="8.4" fill="#009600"/><rect x="85.9" y="282" width="8.4" height="8.4" fill="#f01400"/><rect x="94.3" y="282" width="8.4" height="8.4" fill="#fcd200"/><rect x="102.7" y="282" width="16.8" height="8.4" fill="#009600"/><rect x="119.5" y="282" width="8.4" height="8.4" fill="#faee00"/><rect x="127.9" y="282" width="8.4" height="8.4" fill="#006e00"/><rect x="43.9" y="290.4" width="16.8" height="8.4" fill="#faee00"/><rect x="69.1" y="290.4" width="8.4" height="8.4" fill="#faee00"/><rect x="77.5" y="290.4" width="8.4" height="8.4" fill="#f01400"/><rect x="85.9" y="290.4" width="8.4" height="8.4" fill="#f5a800"/><rect x="94.3" y="290.4" width="8.4" height="8.4" fill="#f01400"/><rect x="102.7" y="290.4" width="8.4" height="8.4" fill="#faee00"/><rect x="111.1" y="290.4" width="16.8" height="8.4" fill="#006e00"/><rect x="77.5" y="298.8" width="8.4" height="8.4" fill="#faee00"/><rect x="94.3" y="298.8" width="16.8" height="8.4" fill="#006e00"/></g></g>
<g mask="url(#mkh)"><g filter="url(#mb)"></g></g>
<g mask="url(#mkl)"><g filter="url(#mb)"></g></g>
<g mask="url(#mk2)"><rect x="119.5" y="189.6" width="8.4" height="8.4" fill="#ffffff"/><rect x="69.1" y="198" width="8.4" height="8.4" fill="#ffffff"/><rect x="127.9" y="198" width="8.4" height="8.4" fill="#ffffff"/><rect x="60.7" y="206.4" width="16.8" height="8.4" fill="#ffffff"/><rect x="111.1" y="206.4" width="8.4" height="8.4" fill="#ffffff"/><rect x="136.3" y="206.4" width="8.4" height="8.4" fill="#ffffff"/><rect x="52.3" y="214.8" width="16.8" height="8.4" fill="#ffffff"/><rect x="136.3" y="214.8" width="8.4" height="8.4" fill="#ffffff"/><rect x="144.7" y="223.2" width="8.4" height="8.4" fill="#ffffff"/><rect x="144.7" y="231.6" width="8.4" height="8.4" fill="#ffffff"/><rect x="127.9" y="240" width="8.4" height="8.4" fill="#ffffff"/><rect x="144.7" y="240" width="8.4" height="8.4" fill="#ffffff"/><rect x="43.9" y="248.4" width="8.4" height="8.4" fill="#ffffff"/><rect x="144.7" y="248.4" width="8.4" height="8.4" fill="#ffffff"/><rect x="144.7" y="256.8" width="8.4" height="8.4" fill="#ffffff"/><rect x="35.5" y="273.6" width="8.4" height="8.4" fill="#ffffff"/><rect x="136.3" y="273.6" width="8.4" height="8.4" fill="#ffffff"/><rect x="35.5" y="290.4" width="8.4" height="8.4" fill="#ffffff"/><rect x="60.7" y="290.4" width="8.4" height="8.4" fill="#ffffff"/><rect x="127.9" y="290.4" width="8.4" height="8.4" fill="#ffffff"/><rect x="52.3" y="298.8" width="8.4" height="8.4" fill="#ffffff"/><rect x="85.9" y="298.8" width="8.4" height="8.4" fill="#ffffff"/><rect x="111.1" y="298.8" width="8.4" height="8.4" fill="#ffffff"/><rect x="85.9" y="307.2" width="8.4" height="8.4" fill="#ffffff"/><rect x="85.9" y="315.6" width="8.4" height="8.4" fill="#ffffff"/></g>
<g mask="url(#mk3)"><g filter="url(#mb)"><rect x="60.7" y="189.6" width="8.4" height="8.4" fill="#009600"/><rect x="60.7" y="198" width="8.4" height="8.4" fill="#009600"/><rect x="52.3" y="206.4" width="8.4" height="8.4" fill="#009600"/><rect x="119.5" y="206.4" width="8.4" height="8.4" fill="#009600"/><rect x="43.9" y="214.8" width="8.4" height="8.4" fill="#009600"/><rect x="43.9" y="223.2" width="8.4" height="8.4" fill="#009600"/><rect x="43.9" y="231.6" width="8.4" height="8.4" fill="#009600"/><rect x="35.5" y="256.8" width="8.4" height="8.4" fill="#009600"/><rect x="35.5" y="265.2" width="8.4" height="8.4" fill="#009600"/><rect x="77.5" y="273.6" width="8.4" height="8.4" fill="#003ce1"/><rect x="77.5" y="282" width="8.4" height="8.4" fill="#009600"/><rect x="43.9" y="298.8" width="8.4" height="8.4" fill="#009600"/><rect x="69.1" y="298.8" width="8.4" height="8.4" fill="#009600"/><rect x="77.5" y="307.2" width="8.4" height="8.4" fill="#009600"/><rect x="94.3" y="307.2" width="8.4" height="8.4" fill="#009600"/><rect x="77.5" y="315.6" width="8.4" height="8.4" fill="#faee00"/></g></g>
</g></g>
<clipPath id="fclipd"><rect x="27.1" y="189.6" width="134.4" height="134.4"/></clipPath>
<g fill="none" stroke="#505050" stroke-opacity="0.7" stroke-width="0.5" clip-path="url(#fclipd)">
<circle cx="94.3" cy="256.8" r="14"/>
<circle cx="94.3" cy="256.8" r="28"/>
<circle cx="94.3" cy="256.8" r="42"/>
<circle cx="94.3" cy="256.8" r="56"/>
<path d="M27.1 256.8H161.5M94.3 189.6V324"/>
<path d="M46.1 189.6 L42.1 195.6 L38.1 201.6 L35.1 206.6 L32.1 207.6 L31.1 211.6 L34.1 214.6 L32.1 217.6 L35.1 220.6 L33.1 224.6 L36.1 227.6 L34.1 231.6 L37.1 235.6 L41.1 237.6 L42.1 241.6 L41.1 247.6 L40.1 253.6 L41.1 259.6 L39.1 265.6 L41.1 271.6 L40.1 277.6 L37.1 281.6 L35.1 285.6 L38.1 289.6 L36.1 293.6 L39.1 297.6 L43.1 301.6 L47.1 305.6 L51.1 309.6 L49.1 315.6 L47.1 324M30.1 219.6 L33.1 222.6 L31.1 226.6 L34.1 229.6M29.1 247.6 L32.1 251.6 L30.1 256.6 L33.1 261.6 L31.1 265.6M31.1 273.6 L35.1 277.6 L32.1 281.6M29.1 297.6 L34.1 301.6 L38.1 307.6 L41.1 313.6 L44.1 319.6M36.1 209.6 L38.1 213.6 L37.1 217.6M29.1 233.6 L32.1 236.6 L30.1 241.6"/>
</g>
<rect x="27.1" y="189.6" width="134.4" height="134.4" fill="none" stroke="#333" stroke-width="0.7"/>
<path d="M27.1 189.6v2.4M27.1 324v-2.4M27.1 189.6h2.4M161.5 189.6h-2.4M29.9 189.6v1.3M29.9 324v-1.3M27.1 192.4h1.3M161.5 192.4h-1.3M32.7 189.6v1.3M32.7 324v-1.3M27.1 195.2h1.3M161.5 195.2h-1.3M35.5 189.6v1.3M35.5 324v-1.3M27.1 198h1.3M161.5 198h-1.3M38.3 189.6v1.3M38.3 324v-1.3M27.1 200.8h1.3M161.5 200.8h-1.3M41.1 189.6v1.3M41.1 324v-1.3M27.1 203.6h1.3M161.5 203.6h-1.3M43.9 189.6v2.4M43.9 324v-2.4M27.1 206.4h2.4M161.5 206.4h-2.4M46.7 189.6v1.3M46.7 324v-1.3M27.1 209.2h1.3M161.5 209.2h-1.3M49.5 189.6v1.3M49.5 324v-1.3M27.1 212h1.3M161.5 212h-1.3M52.3 189.6v1.3M52.3 324v-1.3M27.1 214.8h1.3M161.5 214.8h-1.3M55.1 189.6v1.3M55.1 324v-1.3M27.1 217.6h1.3M161.5 217.6h-1.3M57.9 189.6v1.3M57.9 324v-1.3M27.1 220.4h1.3M161.5 220.4h-1.3M60.7 189.6v2.4M60.7 324v-2.4M27.1 223.2h2.4M161.5 223.2h-2.4M63.5 189.6v1.3M63.5 324v-1.3M27.1 226h1.3M161.5 226h-1.3M66.3 189.6v1.3M66.3 324v-1.3M27.1 228.8h1.3M161.5 228.8h-1.3M69.1 189.6v1.3M69.1 324v-1.3M27.1 231.6h1.3M161.5 231.6h-1.3M71.9 189.6v1.3M71.9 324v-1.3M27.1 234.4h1.3M161.5 234.4h-1.3M74.7 189.6v1.3M74.7 324v-1.3M27.1 237.2h1.3M161.5 237.2h-1.3M77.5 189.6v2.4M77.5 324v-2.4M27.1 240h2.4M161.5 240h-2.4M80.3 189.6v1.3M80.3 324v-1.3M27.1 242.8h1.3M161.5 242.8h-1.3M83.1 189.6v1.3M83.1 324v-1.3M27.1 245.6h1.3M161.5 245.6h-1.3M85.9 189.6v1.3M85.9 324v-1.3M27.1 248.4h1.3M161.5 248.4h-1.3M88.7 189.6v1.3M88.7 324v-1.3M27.1 251.2h1.3M161.5 251.2h-1.3M91.5 189.6v1.3M91.5 324v-1.3M27.1 254h1.3M161.5 254h-1.3M94.3 189.6v2.4M94.3 324v-2.4M27.1 256.8h2.4M161.5 256.8h-2.4M97.1 189.6v1.3M97.1 324v-1.3M27.1 259.6h1.3M161.5 259.6h-1.3M99.9 189.6v1.3M99.9 324v-1.3M27.1 262.4h1.3M161.5 262.4h-1.3M102.7 189.6v1.3M102.7 324v-1.3M27.1 265.2h1.3M161.5 265.2h-1.3M105.5 189.6v1.3M105.5 324v-1.3M27.1 268h1.3M161.5 268h-1.3M108.3 189.6v1.3M108.3 324v-1.3M27.1 270.8h1.3M161.5 270.8h-1.3M111.1 189.6v2.4M111.1 324v-2.4M27.1 273.6h2.4M161.5 273.6h-2.4M113.9 189.6v1.3M113.9 324v-1.3M27.1 276.4h1.3M161.5 276.4h-1.3M116.7 189.6v1.3M116.7 324v-1.3M27.1 279.2h1.3M161.5 279.2h-1.3M119.5 189.6v1.3M119.5 324v-1.3M27.1 282h1.3M161.5 282h-1.3M122.3 189.6v1.3M122.3 324v-1.3M27.1 284.8h1.3M161.5 284.8h-1.3M125.1 189.6v1.3M125.1 324v-1.3M27.1 287.6h1.3M161.5 287.6h-1.3M127.9 189.6v2.4M127.9 324v-2.4M27.1 290.4h2.4M161.5 290.4h-2.4M130.7 189.6v1.3M130.7 324v-1.3M27.1 293.2h1.3M161.5 293.2h-1.3M133.5 189.6v1.3M133.5 324v-1.3M27.1 296h1.3M161.5 296h-1.3M136.3 189.6v1.3M136.3 324v-1.3M27.1 298.8h1.3M161.5 298.8h-1.3M139.1 189.6v1.3M139.1 324v-1.3M27.1 301.6h1.3M161.5 301.6h-1.3M141.9 189.6v1.3M141.9 324v-1.3M27.1 304.4h1.3M161.5 304.4h-1.3M144.7 189.6v2.4M144.7 324v-2.4M27.1 307.2h2.4M161.5 307.2h-2.4M147.5 189.6v1.3M147.5 324v-1.3M27.1 310h1.3M161.5 310h-1.3M150.3 189.6v1.3M150.3 324v-1.3M27.1 312.8h1.3M161.5 312.8h-1.3M153.1 189.6v1.3M153.1 324v-1.3M27.1 315.6h1.3M161.5 315.6h-1.3M155.9 189.6v1.3M155.9 324v-1.3M27.1 318.4h1.3M161.5 318.4h-1.3M158.7 189.6v1.3M158.7 324v-1.3M27.1 321.2h1.3M161.5 321.2h-1.3M161.5 189.6v2.4M161.5 324v-2.4M27.1 324h2.4M161.5 324h-2.4" stroke="#333" stroke-width="0.6" fill="none"/>
<g font-family="'Liberation Sans', Arial, sans-serif" font-size="6.6" fill="#2a2a2a" stroke="#2a2a2a" stroke-width="0.18">
<text transform="translate(27.1 332) scale(0.88 1)" text-anchor="middle">-240</text>
<text transform="translate(25.1 324.25) scale(0.88 1)" text-anchor="end">-240</text>
<text transform="translate(43.9 332) scale(0.88 1)" text-anchor="middle">-180</text>
<text transform="translate(25.1 310.15) scale(0.88 1)" text-anchor="end">-180</text>
<text transform="translate(60.7 332) scale(0.88 1)" text-anchor="middle">-120</text>
<text transform="translate(25.1 293.35) scale(0.88 1)" text-anchor="end">-120</text>
<text transform="translate(77.5 332) scale(0.88 1)" text-anchor="middle">-60</text>
<text transform="translate(25.1 276.55) scale(0.88 1)" text-anchor="end">-60</text>
<text transform="translate(94.3 332) scale(0.88 1)" text-anchor="middle">0</text>
<text transform="translate(25.1 259.75) scale(0.88 1)" text-anchor="end">0</text>
<text transform="translate(111.1 332) scale(0.88 1)" text-anchor="middle">60</text>
<text transform="translate(25.1 242.95) scale(0.88 1)" text-anchor="end">60</text>
<text transform="translate(127.9 332) scale(0.88 1)" text-anchor="middle">120</text>
<text transform="translate(25.1 226.15) scale(0.88 1)" text-anchor="end">120</text>
<text transform="translate(144.7 332) scale(0.88 1)" text-anchor="middle">180</text>
<text transform="translate(25.1 209.35) scale(0.88 1)" text-anchor="end">180</text>
<text transform="translate(161.5 332) scale(0.88 1)" text-anchor="middle">240</text>
<text transform="translate(25.1 193.85) scale(0.88 1)" text-anchor="end">240</text>
<text x="94.3" y="338.8" text-anchor="middle" textLength="67" lengthAdjust="spacingAndGlyphs">Distance from radar [km]</text>
<text transform="translate(8.1 256.8) rotate(-90)" text-anchor="middle" textLength="68" lengthAdjust="spacingAndGlyphs">Distance from radar [km]</text>
</g>
<text x="30.1" y="321.4" font-family="'Liberation Serif', 'Times New Roman', serif" font-size="11.3" fill="#111" stroke="#111" stroke-width="0.25" textLength="26" lengthAdjust="spacingAndGlyphs">MYN</text>
<text x="155.1" y="319.6" font-family="'Liberation Serif', 'Times New Roman', serif" font-size="15" font-weight="bold" fill="#111" text-anchor="end">(d)</text>
<text x="94.3" y="184.8" font-family="'Liberation Serif', 'Times New Roman', serif" font-size="14.5" font-weight="bold" fill="#111" stroke="#111" stroke-width="0.3" text-anchor="middle">Z<tspan font-size="10" dy="3.6">H</tspan></text>
<path d="M163.5 196.8L165.55 190.4L167.6 196.8Z" fill="#000"/>
<rect x="163.5" y="196.8" width="4.1" height="8.72" fill="#8a3cc4"/>
<rect x="163.5" y="205.32" width="4.1" height="8.72" fill="#f04896"/>
<rect x="163.5" y="213.84" width="4.1" height="8.72" fill="#c80000"/>
<rect x="163.5" y="222.36" width="4.1" height="8.72" fill="#ff0000"/>
<rect x="163.5" y="230.88" width="4.1" height="8.72" fill="#ff8c00"/>
<rect x="163.5" y="239.4" width="4.1" height="8.72" fill="#eaa000"/>
<rect x="163.5" y="247.92" width="4.1" height="8.72" fill="#ffff00"/>
<rect x="163.5" y="256.44" width="4.1" height="8.72" fill="#005a00"/>
<rect x="163.5" y="264.96" width="4.1" height="8.72" fill="#007800"/>
<rect x="163.5" y="273.48" width="4.1" height="8.72" fill="#00a000"/>
<rect x="163.5" y="282" width="4.1" height="8.72" fill="#00e000"/>
<rect x="163.5" y="290.52" width="4.1" height="8.72" fill="#0000e0"/>
<rect x="163.5" y="299.04" width="4.1" height="8.72" fill="#0096ff"/>
<rect x="163.5" y="307.56" width="4.1" height="8.72" fill="#00c8ff"/>
<rect x="163.5" y="316.08" width="4.1" height="8.72" fill="#a0a0a0"/>
<rect x="163.5" y="196.8" width="4.1" height="127.8" fill="none" stroke="#555" stroke-width="0.3"/>
<g font-family="'Liberation Sans', Arial, sans-serif" font-size="4.4" fill="#3a3a3a">
<text transform="translate(171.8 199.85) scale(0.9 1)">70</text>
<text transform="translate(171.8 208.22) scale(0.9 1)">65</text>
<text transform="translate(171.8 216.6) scale(0.9 1)">60</text>
<text transform="translate(171.8 224.97) scale(0.9 1)">55</text>
<text transform="translate(171.8 233.34) scale(0.9 1)">50</text>
<text transform="translate(171.8 241.72) scale(0.9 1)">45</text>
<text transform="translate(171.8 250.09) scale(0.9 1)">40</text>
<text transform="translate(171.8 258.46) scale(0.9 1)">35</text>
<text transform="translate(171.8 266.84) scale(0.9 1)">30</text>
<text transform="translate(171.8 275.21) scale(0.9 1)">25</text>
<text transform="translate(171.8 283.58) scale(0.9 1)">20</text>
<text transform="translate(171.8 291.96) scale(0.9 1)">15</text>
<text transform="translate(171.8 300.33) scale(0.9 1)">10</text>
<text transform="translate(171.8 308.7) scale(0.9 1)">0</text>
<text transform="translate(171.8 317.08) scale(0.9 1)">-10</text>
<text transform="translate(171.8 325.45) scale(0.9 1)">-32</text>
</g>
<text transform="translate(182.2 259.3) rotate(-90)" text-anchor="middle" font-family="'Liberation Sans', Arial, sans-serif" font-size="3.9" fill="#3a3a3a">Reflectivity [dBZ]</text>
<clipPath id="clipe"><circle cx="277.3" cy="256.8" r="67.2"/></clipPath>
<g clip-path="url(#clipe)"><g filter="url(#disp)">
<g filter="url(#mb)"><rect x="268.9" y="189.6" width="16.8" height="8.4" fill="#003ce1"/><rect x="285.7" y="189.6" width="16.8" height="8.4" fill="#00b900"/><rect x="260.5" y="198" width="8.4" height="8.4" fill="#003ce1"/><rect x="268.9" y="198" width="16.8" height="8.4" fill="#00b900"/><rect x="285.7" y="198" width="8.4" height="8.4" fill="#006e00"/><rect x="294.1" y="198" width="8.4" height="8.4" fill="#00b900"/><rect x="302.5" y="198" width="8.4" height="8.4" fill="#003ce1"/><rect x="252.1" y="206.4" width="16.8" height="8.4" fill="#003ce1"/><rect x="268.9" y="206.4" width="25.2" height="8.4" fill="#00b900"/><rect x="302.5" y="206.4" width="16.8" height="8.4" fill="#003ce1"/><rect x="243.7" y="214.8" width="16.8" height="8.4" fill="#003ce1"/><rect x="260.5" y="214.8" width="25.2" height="8.4" fill="#00b900"/><rect x="285.7" y="214.8" width="8.4" height="8.4" fill="#006e00"/><rect x="294.1" y="214.8" width="33.6" height="8.4" fill="#00b900"/><rect x="243.7" y="223.2" width="25.2" height="8.4" fill="#00b900"/><rect x="268.9" y="223.2" width="16.8" height="8.4" fill="#006e00"/><rect x="285.7" y="223.2" width="42" height="8.4" fill="#00b900"/><rect x="327.7" y="223.2" width="8.4" height="8.4" fill="#003ce1"/><rect x="235.3" y="231.6" width="8.4" height="8.4" fill="#003ce1"/><rect x="243.7" y="231.6" width="8.4" height="8.4" fill="#00b900"/><rect x="252.1" y="231.6" width="8.4" height="8.4" fill="#006e00"/><rect x="260.5" y="231.6" width="8.4" height="8.4" fill="#00b900"/><rect x="268.9" y="231.6" width="8.4" height="8.4" fill="#faee00"/><rect x="277.3" y="231.6" width="8.4" height="8.4" fill="#006e00"/><rect x="285.7" y="231.6" width="8.4" height="8.4" fill="#00b900"/><rect x="294.1" y="231.6" width="8.4" height="8.4" fill="#006e00"/><rect x="302.5" y="231.6" width="16.8" height="8.4" fill="#00b900"/><rect x="319.3" y="231.6" width="8.4" height="8.4" fill="#003ce1"/><rect x="235.3" y="240" width="25.2" height="8.4" fill="#00b900"/><rect x="260.5" y="240" width="8.4" height="8.4" fill="#006e00"/><rect x="268.9" y="240" width="8.4" height="8.4" fill="#faee00"/><rect x="277.3" y="240" width="25.2" height="8.4" fill="#006e00"/><rect x="302.5" y="240" width="16.8" height="8.4" fill="#00b900"/><rect x="327.7" y="240" width="8.4" height="8.4" fill="#003ce1"/><rect x="235.3" y="248.4" width="16.8" height="8.4" fill="#00b900"/><rect x="252.1" y="248.4" width="42" height="8.4" fill="#006e00"/><rect x="294.1" y="248.4" width="25.2" height="8.4" fill="#00b900"/><rect x="319.3" y="248.4" width="8.4" height="8.4" fill="#003ce1"/><rect x="235.3" y="256.8" width="16.8" height="8.4" fill="#00b900"/><rect x="252.1" y="256.8" width="33.6" height="8.4" fill="#006e00"/><rect x="285.7" y="256.8" width="8.4" height="8.4" fill="#faee00"/><rect x="294.1" y="256.8" width="33.6" height="8.4" fill="#00b900"/><rect x="235.3" y="265.2" width="16.8" height="8.4" fill="#00b900"/><rect x="252.1" y="265.2" width="8.4" height="8.4" fill="#006e00"/><rect x="260.5" y="265.2" width="8.4" height="8.4" fill="#00b900"/><rect x="268.9" y="265.2" width="16.8" height="8.4" fill="#006e00"/><rect x="285.7" y="265.2" width="8.4" height="8.4" fill="#faee00"/><rect x="294.1" y="265.2" width="8.4" height="8.4" fill="#006e00"/><rect x="302.5" y="265.2" width="25.2" height="8.4" fill="#00b900"/><rect x="226.9" y="273.6" width="8.4" height="8.4" fill="#003ce1"/><rect x="235.3" y="273.6" width="25.2" height="8.4" fill="#00b900"/><rect x="260.5" y="273.6" width="8.4" height="8.4" fill="#006e00"/><rect x="277.3" y="273.6" width="8.4" height="8.4" fill="#00b900"/><rect x="285.7" y="273.6" width="8.4" height="8.4" fill="#006e00"/><rect x="294.1" y="273.6" width="16.8" height="8.4" fill="#faee00"/><rect x="310.9" y="273.6" width="8.4" height="8.4" fill="#00b900"/><rect x="319.3" y="273.6" width="8.4" height="8.4" fill="#003ce1"/><rect x="226.9" y="282" width="8.4" height="8.4" fill="#003ce1"/><rect x="235.3" y="282" width="16.8" height="8.4" fill="#00b900"/><rect x="252.1" y="282" width="8.4" height="8.4" fill="#faee00"/><rect x="260.5" y="282" width="8.4" height="8.4" fill="#006e00"/><rect x="277.3" y="282" width="8.4" height="8.4" fill="#00b900"/><rect x="285.7" y="282" width="8.4" height="8.4" fill="#006e00"/><rect x="294.1" y="282" width="16.8" height="8.4" fill="#faee00"/><rect x="310.9" y="282" width="8.4" height="8.4" fill="#00b900"/><rect x="226.9" y="290.4" width="8.4" height="8.4" fill="#003ce1"/><rect x="235.3" y="290.4" width="8.4" height="8.4" fill="#00b900"/><rect x="243.7" y="290.4" width="8.4" height="8.4" fill="#003ce1"/><rect x="252.1" y="290.4" width="8.4" height="8.4" fill="#00b900"/><rect x="260.5" y="290.4" width="33.6" height="8.4" fill="#006e00"/><rect x="294.1" y="290.4" width="8.4" height="8.4" fill="#00b900"/><rect x="302.5" y="290.4" width="8.4" height="8.4" fill="#006e00"/><rect x="310.9" y="290.4" width="8.4" height="8.4" fill="#003ce1"/><rect x="235.3" y="298.8" width="8.4" height="8.4" fill="#003ce1"/><rect x="260.5" y="298.8" width="8.4" height="8.4" fill="#003ce1"/><rect x="268.9" y="298.8" width="25.2" height="8.4" fill="#00b900"/><rect x="294.1" y="298.8" width="8.4" height="8.4" fill="#003ce1"/><rect x="277.3" y="307.2" width="8.4" height="8.4" fill="#003ce1"/></g>
<g mask="url(#mkt)" filter="url(#mb)"><rect x="268.9" y="189.6" width="16.8" height="8.4" fill="#0096f0"/><rect x="285.7" y="189.6" width="16.8" height="8.4" fill="#006e00"/><rect x="260.5" y="198" width="8.4" height="8.4" fill="#0096f0"/><rect x="268.9" y="198" width="16.8" height="8.4" fill="#006e00"/><rect x="285.7" y="198" width="8.4" height="8.4" fill="#00b900"/><rect x="294.1" y="198" width="8.4" height="8.4" fill="#006e00"/><rect x="302.5" y="198" width="8.4" height="8.4" fill="#0096f0"/><rect x="252.1" y="206.4" width="16.8" height="8.4" fill="#0096f0"/><rect x="268.9" y="206.4" width="25.2" height="8.4" fill="#006e00"/><rect x="302.5" y="206.4" width="16.8" height="8.4" fill="#0096f0"/><rect x="243.7" y="214.8" width="16.8" height="8.4" fill="#0096f0"/><rect x="260.5" y="214.8" width="25.2" height="8.4" fill="#006e00"/><rect x="285.7" y="214.8" width="8.4" height="8.4" fill="#00b900"/><rect x="294.1" y="214.8" width="33.6" height="8.4" fill="#006e00"/><rect x="243.7" y="223.2" width="25.2" height="8.4" fill="#006e00"/><rect x="268.9" y="223.2" width="16.8" height="8.4" fill="#00b900"/><rect x="285.7" y="223.2" width="42" height="8.4" fill="#006e00"/><rect x="327.7" y="223.2" width="8.4" height="8.4" fill="#0096f0"/><rect x="235.3" y="231.6" width="8.4" height="8.4" fill="#0096f0"/><rect x="243.7" y="231.6" width="8.4" height="8.4" fill="#006e00"/><rect x="252.1" y="231.6" width="8.4" height="8.4" fill="#00b900"/><rect x="260.5" y="231.6" width="8.4" height="8.4" fill="#006e00"/><rect x="268.9" y="231.6" width="8.4" height="8.4" fill="#fcd200"/><rect x="277.3" y="231.6" width="8.4" height="8.4" fill="#00b900"/><rect x="285.7" y="231.6" width="8.4" height="8.4" fill="#006e00"/><rect x="294.1" y="231.6" width="8.4" height="8.4" fill="#00b900"/><rect x="302.5" y="231.6" width="16.8" height="8.4" fill="#006e00"/><rect x="319.3" y="231.6" width="8.4" height="8.4" fill="#0096f0"/><rect x="235.3" y="240" width="25.2" height="8.4" fill="#006e00"/><rect x="260.5" y="240" width="8.4" height="8.4" fill="#00b900"/><rect x="268.9" y="240" width="8.4" height="8.4" fill="#fcd200"/><rect x="277.3" y="240" width="25.2" height="8.4" fill="#00b900"/><rect x="302.5" y="240" width="16.8" height="8.4" fill="#006e00"/><rect x="327.7" y="240" width="8.4" height="8.4" fill="#0096f0"/><rect x="235.3" y="248.4" width="16.8" height="8.4" fill="#006e00"/><rect x="252.1" y="248.4" width="42" height="8.4" fill="#00b900"/><rect x="294.1" y="248.4" width="25.2" height="8.4" fill="#006e00"/><rect x="319.3" y="248.4" width="8.4" height="8.4" fill="#0096f0"/><rect x="235.3" y="256.8" width="16.8" height="8.4" fill="#006e00"/><rect x="252.1" y="256.8" width="33.6" height="8.4" fill="#00b900"/><rect x="285.7" y="256.8" width="8.4" height="8.4" fill="#fcd200"/><rect x="294.1" y="256.8" width="33.6" height="8.4" fill="#006e00"/><rect x="235.3" y="265.2" width="16.8" height="8.4" fill="#006e00"/><rect x="252.1" y="265.2" width="8.4" height="8.4" fill="#00b900"/><rect x="260.5" y="265.2" width="8.4" height="8.4" fill="#006e00"/><rect x="268.9" y="265.2" width="16.8" height="8.4" fill="#00b900"/><rect x="285.7" y="265.2" width="8.4" height="8.4" fill="#fcd200"/><rect x="294.1" y="265.2" width="8.4" height="8.4" fill="#00b900"/><rect x="302.5" y="265.2" width="25.2" height="8.4" fill="#006e00"/><rect x="226.9" y="273.6" width="8.4" height="8.4" fill="#0096f0"/><rect x="235.3" y="273.6" width="25.2" height="8.4" fill="#006e00"/><rect x="260.5" y="273.6" width="8.4" height="8.4" fill="#00b900"/><rect x="277.3" y="273.6" width="8.4" height="8.4" fill="#006e00"/><rect x="285.7" y="273.6" width="8.4" height="8.4" fill="#00b900"/><rect x="294.1" y="273.6" width="16.8" height="8.4" fill="#fcd200"/><rect x="310.9" y="273.6" width="8.4" height="8.4" fill="#006e00"/><rect x="319.3" y="273.6" width="8.4" height="8.4" fill="#0096f0"/><rect x="226.9" y="282" width="8.4" height="8.4" fill="#0096f0"/><rect x="235.3" y="282" width="16.8" height="8.4" fill="#006e00"/><rect x="252.1" y="282" width="8.4" height="8.4" fill="#fcd200"/><rect x="260.5" y="282" width="8.4" height="8.4" fill="#00b900"/><rect x="277.3" y="282" width="8.4" height="8.4" fill="#006e00"/><rect x="285.7" y="282" width="8.4" height="8.4" fill="#00b900"/><rect x="294.1" y="282" width="16.8" height="8.4" fill="#fcd200"/><rect x="310.9" y="282" width="8.4" height="8.4" fill="#006e00"/><rect x="226.9" y="290.4" width="8.4" height="8.4" fill="#0096f0"/><rect x="235.3" y="290.4" width="8.4" height="8.4" fill="#006e00"/><rect x="243.7" y="290.4" width="8.4" height="8.4" fill="#0096f0"/><rect x="252.1" y="290.4" width="8.4" height="8.4" fill="#006e00"/><rect x="260.5" y="290.4" width="33.6" height="8.4" fill="#00b900"/><rect x="294.1" y="290.4" width="8.4" height="8.4" fill="#006e00"/><rect x="302.5" y="290.4" width="8.4" height="8.4" fill="#00b900"/><rect x="310.9" y="290.4" width="8.4" height="8.4" fill="#0096f0"/><rect x="235.3" y="298.8" width="8.4" height="8.4" fill="#0096f0"/><rect x="260.5" y="298.8" width="8.4" height="8.4" fill="#0096f0"/><rect x="268.9" y="298.8" width="25.2" height="8.4" fill="#006e00"/><rect x="294.1" y="298.8" width="8.4" height="8.4" fill="#0096f0"/><rect x="277.3" y="307.2" width="8.4" height="8.4" fill="#0096f0"/></g>
<g mask="url(#mkt2)" filter="url(#mb)"></g>
<g mask="url(#mk)"><g filter="url(#mb)"><rect x="268.9" y="189.6" width="16.8" height="8.4" fill="#00b900"/><rect x="285.7" y="189.6" width="8.4" height="8.4" fill="#006e00"/><rect x="294.1" y="189.6" width="8.4" height="8.4" fill="#003ce1"/><rect x="260.5" y="198" width="8.4" height="8.4" fill="#00b900"/><rect x="268.9" y="198" width="8.4" height="8.4" fill="#003ce1"/><rect x="277.3" y="198" width="8.4" height="8.4" fill="#006e00"/><rect x="285.7" y="198" width="8.4" height="8.4" fill="#00b900"/><rect x="294.1" y="198" width="8.4" height="8.4" fill="#003ce1"/><rect x="268.9" y="206.4" width="8.4" height="8.4" fill="#003ce1"/><rect x="277.3" y="206.4" width="8.4" height="8.4" fill="#006e00"/><rect x="310.9" y="206.4" width="8.4" height="8.4" fill="#00b900"/><rect x="260.5" y="214.8" width="8.4" height="8.4" fill="#003ce1"/><rect x="268.9" y="214.8" width="16.8" height="8.4" fill="#006e00"/><rect x="285.7" y="214.8" width="8.4" height="8.4" fill="#00b900"/><rect x="302.5" y="214.8" width="8.4" height="8.4" fill="#faee00"/><rect x="310.9" y="214.8" width="8.4" height="8.4" fill="#006e00"/><rect x="319.3" y="214.8" width="8.4" height="8.4" fill="#003ce1"/><rect x="243.7" y="223.2" width="8.4" height="8.4" fill="#003ce1"/><rect x="252.1" y="223.2" width="16.8" height="8.4" fill="#006e00"/><rect x="268.9" y="223.2" width="16.8" height="8.4" fill="#00b900"/><rect x="285.7" y="223.2" width="33.6" height="8.4" fill="#006e00"/><rect x="319.3" y="223.2" width="8.4" height="8.4" fill="#003ce1"/><rect x="235.3" y="231.6" width="8.4" height="8.4" fill="#00b900"/><rect x="243.7" y="231.6" width="8.4" height="8.4" fill="#006e00"/><rect x="252.1" y="231.6" width="8.4" height="8.4" fill="#00b900"/><rect x="260.5" y="231.6" width="16.8" height="8.4" fill="#006e00"/><rect x="277.3" y="231.6" width="8.4" height="8.4" fill="#faee00"/><rect x="285.7" y="231.6" width="8.4" height="8.4" fill="#006e00"/><rect x="294.1" y="231.6" width="8.4" height="8.4" fill="#00b900"/><rect x="302.5" y="231.6" width="8.4" height="8.4" fill="#006e00"/><rect x="310.9" y="231.6" width="8.4" height="8.4" fill="#003ce1"/><rect x="235.3" y="240" width="8.4" height="8.4" fill="#003ce1"/><rect x="243.7" y="240" width="16.8" height="8.4" fill="#faee00"/><rect x="260.5" y="240" width="8.4" height="8.4" fill="#00b900"/><rect x="268.9" y="240" width="8.4" height="8.4" fill="#006e00"/><rect x="285.7" y="240" width="16.8" height="8.4" fill="#00b900"/><rect x="302.5" y="240" width="8.4" height="8.4" fill="#006e00"/><rect x="310.9" y="240" width="8.4" height="8.4" fill="#003ce1"/><rect x="235.3" y="248.4" width="16.8" height="8.4" fill="#006e00"/><rect x="252.1" y="248.4" width="25.2" height="8.4" fill="#00b900"/><rect x="277.3" y="248.4" width="8.4" height="8.4" fill="#faee00"/><rect x="285.7" y="248.4" width="8.4" height="8.4" fill="#00b900"/><rect x="294.1" y="248.4" width="16.8" height="8.4" fill="#006e00"/><rect x="310.9" y="248.4" width="8.4" height="8.4" fill="#003ce1"/><rect x="252.1" y="256.8" width="25.2" height="8.4" fill="#00b900"/><rect x="285.7" y="256.8" width="8.4" height="8.4" fill="#006e00"/><rect x="310.9" y="256.8" width="8.4" height="8.4" fill="#006e00"/><rect x="319.3" y="256.8" width="8.4" height="8.4" fill="#003ce1"/><rect x="235.3" y="265.2" width="8.4" height="8.4" fill="#003ce1"/><rect x="252.1" y="265.2" width="8.4" height="8.4" fill="#00b900"/><rect x="268.9" y="265.2" width="8.4" height="8.4" fill="#00b900"/><rect x="285.7" y="265.2" width="8.4" height="8.4" fill="#006e00"/><rect x="310.9" y="265.2" width="8.4" height="8.4" fill="#006e00"/><rect x="319.3" y="265.2" width="8.4" height="8.4" fill="#003ce1"/><rect x="260.5" y="273.6" width="8.4" height="8.4" fill="#00b900"/><rect x="277.3" y="273.6" width="8.4" height="8.4" fill="#006e00"/><rect x="294.1" y="273.6" width="16.8" height="8.4" fill="#006e00"/><rect x="226.9" y="282" width="8.4" height="8.4" fill="#00b900"/><rect x="235.3" y="282" width="8.4" height="8.4" fill="#006e00"/><rect x="243.7" y="282" width="8.4" height="8.4" fill="#faee00"/><rect x="252.1" y="282" width="8.4" height="8.4" fill="#006e00"/><rect x="260.5" y="282" width="8.4" height="8.4" fill="#faee00"/><rect x="277.3" y="282" width="8.4" height="8.4" fill="#006e00"/><rect x="285.7" y="282" width="8.4" height="8.4" fill="#faee00"/><rect x="294.1" y="282" width="16.8" height="8.4" fill="#006e00"/><rect x="310.9" y="282" width="8.4" height="8.4" fill="#003ce1"/><rect x="235.3" y="290.4" width="8.4" height="8.4" fill="#003ce1"/><rect x="252.1" y="290.4" width="8.4" height="8.4" fill="#003ce1"/><rect x="260.5" y="290.4" width="8.4" height="8.4" fill="#00b900"/><rect x="268.9" y="290.4" width="8.4" height="8.4" fill="#faee00"/><rect x="277.3" y="290.4" width="16.8" height="8.4" fill="#00b900"/><rect x="294.1" y="290.4" width="8.4" height="8.4" fill="#006e00"/><rect x="302.5" y="290.4" width="8.4" height="8.4" fill="#faee00"/><rect x="268.9" y="298.8" width="8.4" height="8.4" fill="#003ce1"/><rect x="277.3" y="298.8" width="8.4" height="8.4" fill="#006e00"/><rect x="285.7" y="298.8" width="8.4" height="8.4" fill="#003ce1"/></g></g>
<g mask="url(#mkh)"><g filter="url(#mb)"><rect x="294.1" y="214.8" width="8.4" height="8.4" fill="#faee00"/><rect x="277.3" y="240" width="8.4" height="8.4" fill="#faee00"/><rect x="235.3" y="256.8" width="16.8" height="8.4" fill="#006e00"/><rect x="277.3" y="256.8" width="8.4" height="8.4" fill="#faee00"/><rect x="294.1" y="256.8" width="16.8" height="8.4" fill="#006e00"/><rect x="243.7" y="265.2" width="8.4" height="8.4" fill="#006e00"/><rect x="260.5" y="265.2" width="8.4" height="8.4" fill="#006e00"/><rect x="277.3" y="265.2" width="8.4" height="8.4" fill="#faee00"/><rect x="294.1" y="265.2" width="8.4" height="8.4" fill="#faee00"/><rect x="302.5" y="265.2" width="8.4" height="8.4" fill="#006e00"/><rect x="235.3" y="273.6" width="25.2" height="8.4" fill="#006e00"/><rect x="285.7" y="273.6" width="8.4" height="8.4" fill="#faee00"/><rect x="310.9" y="273.6" width="8.4" height="8.4" fill="#006e00"/></g></g>
<g mask="url(#mkl)"><g filter="url(#mb)"></g></g>
<g mask="url(#mk2)"><rect x="302.5" y="198" width="8.4" height="8.4" fill="#ffffff"/><rect x="252.1" y="206.4" width="16.8" height="8.4" fill="#ffffff"/><rect x="285.7" y="206.4" width="8.4" height="8.4" fill="#ffffff"/><rect x="302.5" y="206.4" width="8.4" height="8.4" fill="#ffffff"/><rect x="243.7" y="214.8" width="16.8" height="8.4" fill="#ffffff"/><rect x="327.7" y="223.2" width="8.4" height="8.4" fill="#ffffff"/><rect x="319.3" y="231.6" width="8.4" height="8.4" fill="#ffffff"/><rect x="327.7" y="240" width="8.4" height="8.4" fill="#ffffff"/><rect x="319.3" y="248.4" width="8.4" height="8.4" fill="#ffffff"/><rect x="226.9" y="273.6" width="8.4" height="8.4" fill="#ffffff"/><rect x="319.3" y="273.6" width="8.4" height="8.4" fill="#ffffff"/><rect x="226.9" y="290.4" width="8.4" height="8.4" fill="#ffffff"/><rect x="243.7" y="290.4" width="8.4" height="8.4" fill="#ffffff"/><rect x="310.9" y="290.4" width="8.4" height="8.4" fill="#ffffff"/><rect x="235.3" y="298.8" width="8.4" height="8.4" fill="#ffffff"/><rect x="260.5" y="298.8" width="8.4" height="8.4" fill="#ffffff"/><rect x="294.1" y="298.8" width="8.4" height="8.4" fill="#ffffff"/><rect x="277.3" y="307.2" width="8.4" height="8.4" fill="#ffffff"/></g>
<g mask="url(#mk3)"><g filter="url(#mb)"><rect x="260.5" y="189.6" width="8.4" height="8.4" fill="#003ce1"/><rect x="252.1" y="198" width="8.4" height="8.4" fill="#003ce1"/><rect x="243.7" y="206.4" width="8.4" height="8.4" fill="#003ce1"/><rect x="319.3" y="206.4" width="8.4" height="8.4" fill="#003ce1"/><rect x="235.3" y="214.8" width="8.4" height="8.4" fill="#003ce1"/><rect x="327.7" y="214.8" width="8.4" height="8.4" fill="#003ce1"/><rect x="235.3" y="223.2" width="8.4" height="8.4" fill="#003ce1"/><rect x="226.9" y="240" width="8.4" height="8.4" fill="#003ce1"/><rect x="319.3" y="240" width="8.4" height="8.4" fill="#003ce1"/><rect x="226.9" y="248.4" width="8.4" height="8.4" fill="#003ce1"/><rect x="226.9" y="256.8" width="8.4" height="8.4" fill="#003ce1"/><rect x="327.7" y="256.8" width="8.4" height="8.4" fill="#003ce1"/><rect x="226.9" y="265.2" width="8.4" height="8.4" fill="#003ce1"/><rect x="218.5" y="282" width="8.4" height="8.4" fill="#003ce1"/><rect x="268.9" y="282" width="8.4" height="8.4" fill="#003ce1"/><rect x="319.3" y="282" width="8.4" height="8.4" fill="#003ce1"/><rect x="226.9" y="298.8" width="8.4" height="8.4" fill="#003ce1"/><rect x="243.7" y="298.8" width="16.8" height="8.4" fill="#003ce1"/><rect x="302.5" y="298.8" width="8.4" height="8.4" fill="#003ce1"/><rect x="235.3" y="307.2" width="8.4" height="8.4" fill="#003ce1"/><rect x="260.5" y="307.2" width="16.8" height="8.4" fill="#003ce1"/><rect x="285.7" y="307.2" width="8.4" height="8.4" fill="#003ce1"/><rect x="268.9" y="315.6" width="16.8" height="8.4" fill="#003ce1"/></g></g>
</g></g>
<clipPath id="fclipe"><rect x="210.1" y="189.6" width="134.4" height="134.4"/></clipPath>
<g fill="none" stroke="#505050" stroke-opacity="0.7" stroke-width="0.5" clip-path="url(#fclipe)">
<circle cx="277.3" cy="256.8" r="14"/>
<circle cx="277.3" cy="256.8" r="28"/>
<circle cx="277.3" cy="256.8" r="42"/>
<circle cx="277.3" cy="256.8" r="56"/>
<path d="M210.1 256.8H344.5M277.3 189.6V324"/>
<path d="M229.1 189.6 L225.1 195.6 L221.1 201.6 L218.1 206.6 L215.1 207.6 L214.1 211.6 L217.1 214.6 L215.1 217.6 L218.1 220.6 L216.1 224.6 L219.1 227.6 L217.1 231.6 L220.1 235.6 L224.1 237.6 L225.1 241.6 L224.1 247.6 L223.1 253.6 L224.1 259.6 L222.1 265.6 L224.1 271.6 L223.1 277.6 L220.1 281.6 L218.1 285.6 L221.1 289.6 L219.1 293.6 L222.1 297.6 L226.1 301.6 L230.1 305.6 L234.1 309.6 L232.1 315.6 L230.1 324M213.1 219.6 L216.1 222.6 L214.1 226.6 L217.1 229.6M212.1 247.6 L215.1 251.6 L213.1 256.6 L216.1 261.6 L214.1 265.6M214.1 273.6 L218.1 277.6 L215.1 281.6M212.1 297.6 L217.1 301.6 L221.1 307.6 L224.1 313.6 L227.1 319.6M219.1 209.6 L221.1 213.6 L220.1 217.6M212.1 233.6 L215.1 236.6 L213.1 241.6"/>
</g>
<rect x="210.1" y="189.6" width="134.4" height="134.4" fill="none" stroke="#333" stroke-width="0.7"/>
<path d="M210.1 189.6v2.4M210.1 324v-2.4M210.1 189.6h2.4M344.5 189.6h-2.4M212.9 189.6v1.3M212.9 324v-1.3M210.1 192.4h1.3M344.5 192.4h-1.3M215.7 189.6v1.3M215.7 324v-1.3M210.1 195.2h1.3M344.5 195.2h-1.3M218.5 189.6v1.3M218.5 324v-1.3M210.1 198h1.3M344.5 198h-1.3M221.3 189.6v1.3M221.3 324v-1.3M210.1 200.8h1.3M344.5 200.8h-1.3M224.1 189.6v1.3M224.1 324v-1.3M210.1 203.6h1.3M344.5 203.6h-1.3M226.9 189.6v2.4M226.9 324v-2.4M210.1 206.4h2.4M344.5 206.4h-2.4M229.7 189.6v1.3M229.7 324v-1.3M210.1 209.2h1.3M344.5 209.2h-1.3M232.5 189.6v1.3M232.5 324v-1.3M210.1 212h1.3M344.5 212h-1.3M235.3 189.6v1.3M235.3 324v-1.3M210.1 214.8h1.3M344.5 214.8h-1.3M238.1 189.6v1.3M238.1 324v-1.3M210.1 217.6h1.3M344.5 217.6h-1.3M240.9 189.6v1.3M240.9 324v-1.3M210.1 220.4h1.3M344.5 220.4h-1.3M243.7 189.6v2.4M243.7 324v-2.4M210.1 223.2h2.4M344.5 223.2h-2.4M246.5 189.6v1.3M246.5 324v-1.3M210.1 226h1.3M344.5 226h-1.3M249.3 189.6v1.3M249.3 324v-1.3M210.1 228.8h1.3M344.5 228.8h-1.3M252.1 189.6v1.3M252.1 324v-1.3M210.1 231.6h1.3M344.5 231.6h-1.3M254.9 189.6v1.3M254.9 324v-1.3M210.1 234.4h1.3M344.5 234.4h-1.3M257.7 189.6v1.3M257.7 324v-1.3M210.1 237.2h1.3M344.5 237.2h-1.3M260.5 189.6v2.4M260.5 324v-2.4M210.1 240h2.4M344.5 240h-2.4M263.3 189.6v1.3M263.3 324v-1.3M210.1 242.8h1.3M344.5 242.8h-1.3M266.1 189.6v1.3M266.1 324v-1.3M210.1 245.6h1.3M344.5 245.6h-1.3M268.9 189.6v1.3M268.9 324v-1.3M210.1 248.4h1.3M344.5 248.4h-1.3M271.7 189.6v1.3M271.7 324v-1.3M210.1 251.2h1.3M344.5 251.2h-1.3M274.5 189.6v1.3M274.5 324v-1.3M210.1 254h1.3M344.5 254h-1.3M277.3 189.6v2.4M277.3 324v-2.4M210.1 256.8h2.4M344.5 256.8h-2.4M280.1 189.6v1.3M280.1 324v-1.3M210.1 259.6h1.3M344.5 259.6h-1.3M282.9 189.6v1.3M282.9 324v-1.3M210.1 262.4h1.3M344.5 262.4h-1.3M285.7 189.6v1.3M285.7 324v-1.3M210.1 265.2h1.3M344.5 265.2h-1.3M288.5 189.6v1.3M288.5 324v-1.3M210.1 268h1.3M344.5 268h-1.3M291.3 189.6v1.3M291.3 324v-1.3M210.1 270.8h1.3M344.5 270.8h-1.3M294.1 189.6v2.4M294.1 324v-2.4M210.1 273.6h2.4M344.5 273.6h-2.4M296.9 189.6v1.3M296.9 324v-1.3M210.1 276.4h1.3M344.5 276.4h-1.3M299.7 189.6v1.3M299.7 324v-1.3M210.1 279.2h1.3M344.5 279.2h-1.3M302.5 189.6v1.3M302.5 324v-1.3M210.1 282h1.3M344.5 282h-1.3M305.3 189.6v1.3M305.3 324v-1.3M210.1 284.8h1.3M344.5 284.8h-1.3M308.1 189.6v1.3M308.1 324v-1.3M210.1 287.6h1.3M344.5 287.6h-1.3M310.9 189.6v2.4M310.9 324v-2.4M210.1 290.4h2.4M344.5 290.4h-2.4M313.7 189.6v1.3M313.7 324v-1.3M210.1 293.2h1.3M344.5 293.2h-1.3M316.5 189.6v1.3M316.5 324v-1.3M210.1 296h1.3M344.5 296h-1.3M319.3 189.6v1.3M319.3 324v-1.3M210.1 298.8h1.3M344.5 298.8h-1.3M322.1 189.6v1.3M322.1 324v-1.3M210.1 301.6h1.3M344.5 301.6h-1.3M324.9 189.6v1.3M324.9 324v-1.3M210.1 304.4h1.3M344.5 304.4h-1.3M327.7 189.6v2.4M327.7 324v-2.4M210.1 307.2h2.4M344.5 307.2h-2.4M330.5 189.6v1.3M330.5 324v-1.3M210.1 310h1.3M344.5 310h-1.3M333.3 189.6v1.3M333.3 324v-1.3M210.1 312.8h1.3M344.5 312.8h-1.3M336.1 189.6v1.3M336.1 324v-1.3M210.1 315.6h1.3M344.5 315.6h-1.3M338.9 189.6v1.3M338.9 324v-1.3M210.1 318.4h1.3M344.5 318.4h-1.3M341.7 189.6v1.3M341.7 324v-1.3M210.1 321.2h1.3M344.5 321.2h-1.3M344.5 189.6v2.4M344.5 324v-2.4M210.1 324h2.4M344.5 324h-2.4" stroke="#333" stroke-width="0.6" fill="none"/>
<g font-family="'Liberation Sans', Arial, sans-serif" font-size="6.6" fill="#2a2a2a" stroke="#2a2a2a" stroke-width="0.18">
<text transform="translate(210.1 332) scale(0.88 1)" text-anchor="middle">-240</text>
<text transform="translate(208.1 324.25) scale(0.88 1)" text-anchor="end">-240</text>
<text transform="translate(226.9 332) scale(0.88 1)" text-anchor="middle">-180</text>
<text transform="translate(208.1 310.15) scale(0.88 1)" text-anchor="end">-180</text>
<text transform="translate(243.7 332) scale(0.88 1)" text-anchor="middle">-120</text>
<text transform="translate(208.1 293.35) scale(0.88 1)" text-anchor="end">-120</text>
<text transform="translate(260.5 332) scale(0.88 1)" text-anchor="middle">-60</text>
<text transform="translate(208.1 276.55) scale(0.88 1)" text-anchor="end">-60</text>
<text transform="translate(277.3 332) scale(0.88 1)" text-anchor="middle">0</text>
<text transform="translate(208.1 259.75) scale(0.88 1)" text-anchor="end">0</text>
<text transform="translate(294.1 332) scale(0.88 1)" text-anchor="middle">60</text>
<text transform="translate(208.1 242.95) scale(0.88 1)" text-anchor="end">60</text>
<text transform="translate(310.9 332) scale(0.88 1)" text-anchor="middle">120</text>
<text transform="translate(208.1 226.15) scale(0.88 1)" text-anchor="end">120</text>
<text transform="translate(327.7 332) scale(0.88 1)" text-anchor="middle">180</text>
<text transform="translate(208.1 209.35) scale(0.88 1)" text-anchor="end">180</text>
<text transform="translate(344.5 332) scale(0.88 1)" text-anchor="middle">240</text>
<text transform="translate(208.1 193.85) scale(0.88 1)" text-anchor="end">240</text>
<text x="277.3" y="338.8" text-anchor="middle" textLength="67" lengthAdjust="spacingAndGlyphs">Distance from radar [km]</text>
<text transform="translate(191.1 256.8) rotate(-90)" text-anchor="middle" textLength="68" lengthAdjust="spacingAndGlyphs">Distance from radar [km]</text>
</g>
<text x="213.1" y="321.4" font-family="'Liberation Serif', 'Times New Roman', serif" font-size="11.3" fill="#111" stroke="#111" stroke-width="0.25" textLength="26" lengthAdjust="spacingAndGlyphs">MYN</text>
<text x="338.1" y="319.6" font-family="'Liberation Serif', 'Times New Roman', serif" font-size="15" font-weight="bold" fill="#111" text-anchor="end">(e)</text>
<text x="277.3" y="184.8" font-family="'Liberation Serif', 'Times New Roman', serif" font-size="14.5" font-weight="bold" fill="#111" stroke="#111" stroke-width="0.3" text-anchor="middle">Z<tspan font-size="10" dy="3.6">DR</tspan></text>
<path d="M346.5 196.8L348.55 190.4L350.6 196.8Z" fill="#000"/>
<rect x="346.5" y="196.8" width="4.1" height="8.72" fill="#8a3cc4"/>
<rect x="346.5" y="205.32" width="4.1" height="8.72" fill="#f04896"/>
<rect x="346.5" y="213.84" width="4.1" height="8.72" fill="#c80000"/>
<rect x="346.5" y="222.36" width="4.1" height="8.72" fill="#ff0000"/>
<rect x="346.5" y="230.88" width="4.1" height="8.72" fill="#ff8c00"/>
<rect x="346.5" y="239.4" width="4.1" height="8.72" fill="#eaa000"/>
<rect x="346.5" y="247.92" width="4.1" height="8.72" fill="#ffff00"/>
<rect x="346.5" y="256.44" width="4.1" height="8.72" fill="#005a00"/>
<rect x="346.5" y="264.96" width="4.1" height="8.72" fill="#007800"/>
<rect x="346.5" y="273.48" width="4.1" height="8.72" fill="#00a000"/>
<rect x="346.5" y="282" width="4.1" height="8.72" fill="#00e000"/>
<rect x="346.5" y="290.52" width="4.1" height="8.72" fill="#0000e0"/>
<rect x="346.5" y="299.04" width="4.1" height="8.72" fill="#0096ff"/>
<rect x="346.5" y="307.56" width="4.1" height="8.72" fill="#00c8ff"/>
<rect x="346.5" y="316.08" width="4.1" height="8.72" fill="#a0a0a0"/>
<rect x="346.5" y="196.8" width="4.1" height="127.8" fill="none" stroke="#555" stroke-width="0.3"/>
<g font-family="'Liberation Sans', Arial, sans-serif" font-size="4.4" fill="#3a3a3a">
<text transform="translate(354.8 199.85) scale(0.9 1)">5.0</text>
<text transform="translate(354.8 208.22) scale(0.9 1)">4.0</text>
<text transform="translate(354.8 216.6) scale(0.9 1)">3.0</text>
<text transform="translate(354.8 224.97) scale(0.9 1)">2.6</text>
<text transform="translate(354.8 233.34) scale(0.9 1)">2.2</text>
<text transform="translate(354.8 241.72) scale(0.9 1)">1.8</text>
<text transform="translate(354.8 250.09) scale(0.9 1)">1.4</text>
<text transform="translate(354.8 258.46) scale(0.9 1)">1.0</text>
<text transform="translate(354.8 266.84) scale(0.9 1)">0.6</text>
<text transform="translate(354.8 275.21) scale(0.9 1)">0.4</text>
<text transform="translate(354.8 283.58) scale(0.9 1)">0.2</text>
<text transform="translate(354.8 291.96) scale(0.9 1)">0.0</text>
<text transform="translate(354.8 300.33) scale(0.9 1)">-1.0</text>
<text transform="translate(354.8 308.7) scale(0.9 1)">-2.0</text>
<text transform="translate(354.8 317.08) scale(0.9 1)">-3.0</text>
<text transform="translate(354.8 325.45) scale(0.9 1)">-5.0</text>
</g>
<text transform="translate(365.2 259.3) rotate(-90)" text-anchor="middle" font-family="'Liberation Sans', Arial, sans-serif" font-size="3.9" fill="#3a3a3a">Differential Reflectivity [dB]</text>
<clipPath id="clipf"><circle cx="459.7" cy="256.8" r="67.2"/></clipPath>
<g clip-path="url(#clipf)"><g filter="url(#disp)">
<g filter="url(#mb)"><rect x="442.9" y="189.6" width="8.4" height="8.4" fill="#0096f0"/><rect x="451.3" y="189.6" width="8.4" height="8.4" fill="#003ce1"/><rect x="459.7" y="189.6" width="16.8" height="8.4" fill="#00e600"/><rect x="476.5" y="189.6" width="16.8" height="8.4" fill="#003ce1"/><rect x="442.9" y="198" width="16.8" height="8.4" fill="#003ce1"/><rect x="459.7" y="198" width="25.2" height="8.4" fill="#00e600"/><rect x="484.9" y="198" width="8.4" height="8.4" fill="#003ce1"/><rect x="434.5" y="206.4" width="16.8" height="8.4" fill="#003ce1"/><rect x="451.3" y="206.4" width="25.2" height="8.4" fill="#00e600"/><rect x="476.5" y="206.4" width="25.2" height="8.4" fill="#003ce1"/><rect x="426.1" y="214.8" width="16.8" height="8.4" fill="#003ce1"/><rect x="442.9" y="214.8" width="58.8" height="8.4" fill="#00e600"/><rect x="501.7" y="214.8" width="8.4" height="8.4" fill="#003ce1"/><rect x="426.1" y="223.2" width="8.4" height="8.4" fill="#003ce1"/><rect x="434.5" y="223.2" width="75.6" height="8.4" fill="#00e600"/><rect x="510.1" y="223.2" width="8.4" height="8.4" fill="#003ce1"/><rect x="417.7" y="231.6" width="92.4" height="8.4" fill="#00e600"/><rect x="510.1" y="231.6" width="8.4" height="8.4" fill="#003ce1"/><rect x="417.7" y="240" width="92.4" height="8.4" fill="#00e600"/><rect x="510.1" y="240" width="8.4" height="8.4" fill="#003ce1"/><rect x="409.3" y="248.4" width="100.8" height="8.4" fill="#00e600"/><rect x="417.7" y="256.8" width="92.4" height="8.4" fill="#00e600"/><rect x="510.1" y="256.8" width="8.4" height="8.4" fill="#003ce1"/><rect x="417.7" y="265.2" width="92.4" height="8.4" fill="#00e600"/><rect x="417.7" y="273.6" width="8.4" height="8.4" fill="#003ce1"/><rect x="426.1" y="273.6" width="25.2" height="8.4" fill="#00e600"/><rect x="459.7" y="273.6" width="33.6" height="8.4" fill="#00e600"/><rect x="493.3" y="273.6" width="8.4" height="8.4" fill="#003ce1"/><rect x="409.3" y="282" width="42" height="8.4" fill="#00e600"/><rect x="459.7" y="282" width="8.4" height="8.4" fill="#006e00"/><rect x="468.1" y="282" width="25.2" height="8.4" fill="#00e600"/><rect x="493.3" y="282" width="8.4" height="8.4" fill="#003ce1"/><rect x="417.7" y="290.4" width="16.8" height="8.4" fill="#003ce1"/><rect x="451.3" y="290.4" width="8.4" height="8.4" fill="#006e00"/><rect x="459.7" y="290.4" width="25.2" height="8.4" fill="#00e600"/><rect x="484.9" y="290.4" width="8.4" height="8.4" fill="#003ce1"/><rect x="417.7" y="298.8" width="8.4" height="8.4" fill="#003ce1"/><rect x="459.7" y="298.8" width="25.2" height="8.4" fill="#003ce1"/></g>
<g mask="url(#mkt)" filter="url(#mb)"><rect x="442.9" y="189.6" width="8.4" height="8.4" fill="#003ce1"/><rect x="451.3" y="189.6" width="8.4" height="8.4" fill="#0096f0"/><rect x="459.7" y="189.6" width="16.8" height="8.4" fill="#00c800"/><rect x="476.5" y="189.6" width="16.8" height="8.4" fill="#0096f0"/><rect x="442.9" y="198" width="16.8" height="8.4" fill="#0096f0"/><rect x="459.7" y="198" width="25.2" height="8.4" fill="#00c800"/><rect x="484.9" y="198" width="8.4" height="8.4" fill="#0096f0"/><rect x="434.5" y="206.4" width="16.8" height="8.4" fill="#0096f0"/><rect x="451.3" y="206.4" width="25.2" height="8.4" fill="#00c800"/><rect x="476.5" y="206.4" width="25.2" height="8.4" fill="#0096f0"/><rect x="426.1" y="214.8" width="16.8" height="8.4" fill="#0096f0"/><rect x="442.9" y="214.8" width="58.8" height="8.4" fill="#00c800"/><rect x="501.7" y="214.8" width="8.4" height="8.4" fill="#0096f0"/><rect x="426.1" y="223.2" width="8.4" height="8.4" fill="#0096f0"/><rect x="434.5" y="223.2" width="75.6" height="8.4" fill="#00c800"/><rect x="510.1" y="223.2" width="8.4" height="8.4" fill="#0096f0"/><rect x="417.7" y="231.6" width="92.4" height="8.4" fill="#00c800"/><rect x="510.1" y="231.6" width="8.4" height="8.4" fill="#0096f0"/><rect x="417.7" y="240" width="92.4" height="8.4" fill="#00c800"/><rect x="510.1" y="240" width="8.4" height="8.4" fill="#0096f0"/><rect x="409.3" y="248.4" width="100.8" height="8.4" fill="#00c800"/><rect x="417.7" y="256.8" width="92.4" height="8.4" fill="#00c800"/><rect x="510.1" y="256.8" width="8.4" height="8.4" fill="#0096f0"/><rect x="417.7" y="265.2" width="92.4" height="8.4" fill="#00c800"/><rect x="417.7" y="273.6" width="8.4" height="8.4" fill="#0096f0"/><rect x="426.1" y="273.6" width="25.2" height="8.4" fill="#00c800"/><rect x="459.7" y="273.6" width="33.6" height="8.4" fill="#00c800"/><rect x="493.3" y="273.6" width="8.4" height="8.4" fill="#0096f0"/><rect x="409.3" y="282" width="42" height="8.4" fill="#00c800"/><rect x="459.7" y="282" width="8.4" height="8.4" fill="#00b900"/><rect x="468.1" y="282" width="25.2" height="8.4" fill="#00c800"/><rect x="493.3" y="282" width="8.4" height="8.4" fill="#0096f0"/><rect x="417.7" y="290.4" width="16.8" height="8.4" fill="#0096f0"/><rect x="451.3" y="290.4" width="8.4" height="8.4" fill="#00b900"/><rect x="459.7" y="290.4" width="25.2" height="8.4" fill="#00c800"/><rect x="484.9" y="290.4" width="8.4" height="8.4" fill="#0096f0"/><rect x="417.7" y="298.8" width="8.4" height="8.4" fill="#0096f0"/><rect x="459.7" y="298.8" width="25.2" height="8.4" fill="#0096f0"/></g>
<g mask="url(#mkt2)" filter="url(#mb)"></g>
<g mask="url(#mk)"><g filter="url(#mb)"><rect x="442.9" y="189.6" width="8.4" height="8.4" fill="#003ce1"/><rect x="451.3" y="189.6" width="8.4" height="8.4" fill="#00e600"/><rect x="476.5" y="189.6" width="8.4" height="8.4" fill="#00e600"/><rect x="451.3" y="198" width="8.4" height="8.4" fill="#00e600"/><rect x="459.7" y="198" width="8.4" height="8.4" fill="#003ce1"/><rect x="451.3" y="206.4" width="8.4" height="8.4" fill="#003ce1"/><rect x="468.1" y="206.4" width="8.4" height="8.4" fill="#003ce1"/><rect x="493.3" y="206.4" width="8.4" height="8.4" fill="#00e600"/><rect x="434.5" y="214.8" width="8.4" height="8.4" fill="#00e600"/><rect x="442.9" y="214.8" width="16.8" height="8.4" fill="#003ce1"/><rect x="476.5" y="214.8" width="16.8" height="8.4" fill="#003ce1"/><rect x="501.7" y="214.8" width="8.4" height="8.4" fill="#00e600"/><rect x="426.1" y="223.2" width="8.4" height="8.4" fill="#00e600"/><rect x="434.5" y="223.2" width="16.8" height="8.4" fill="#003ce1"/><rect x="493.3" y="223.2" width="8.4" height="8.4" fill="#003ce1"/><rect x="426.1" y="231.6" width="8.4" height="8.4" fill="#003ce1"/><rect x="493.3" y="231.6" width="8.4" height="8.4" fill="#003ce1"/><rect x="417.7" y="240" width="8.4" height="8.4" fill="#003ce1"/><rect x="417.7" y="248.4" width="8.4" height="8.4" fill="#003ce1"/><rect x="493.3" y="265.2" width="8.4" height="8.4" fill="#003ce1"/><rect x="417.7" y="273.6" width="8.4" height="8.4" fill="#00e600"/><rect x="426.1" y="273.6" width="8.4" height="8.4" fill="#003ce1"/><rect x="459.7" y="273.6" width="8.4" height="8.4" fill="#006e00"/><rect x="476.5" y="273.6" width="8.4" height="8.4" fill="#003ce1"/><rect x="493.3" y="273.6" width="8.4" height="8.4" fill="#00e600"/><rect x="417.7" y="282" width="25.2" height="8.4" fill="#003ce1"/><rect x="459.7" y="282" width="8.4" height="8.4" fill="#faee00"/><rect x="468.1" y="282" width="16.8" height="8.4" fill="#003ce1"/><rect x="451.3" y="290.4" width="8.4" height="8.4" fill="#faee00"/><rect x="459.7" y="290.4" width="8.4" height="8.4" fill="#003ce1"/><rect x="484.9" y="290.4" width="8.4" height="8.4" fill="#00e600"/><rect x="468.1" y="298.8" width="8.4" height="8.4" fill="#00e600"/></g></g>
<g mask="url(#mkh)"><g filter="url(#mb)"><rect x="459.7" y="189.6" width="16.8" height="8.4" fill="#003ce1"/><rect x="468.1" y="198" width="16.8" height="8.4" fill="#003ce1"/><rect x="493.3" y="214.8" width="8.4" height="8.4" fill="#003ce1"/><rect x="501.7" y="223.2" width="8.4" height="8.4" fill="#003ce1"/><rect x="417.7" y="231.6" width="8.4" height="8.4" fill="#003ce1"/><rect x="501.7" y="231.6" width="8.4" height="8.4" fill="#003ce1"/><rect x="501.7" y="240" width="8.4" height="8.4" fill="#003ce1"/><rect x="409.3" y="248.4" width="8.4" height="8.4" fill="#003ce1"/><rect x="501.7" y="248.4" width="8.4" height="8.4" fill="#003ce1"/><rect x="417.7" y="256.8" width="8.4" height="8.4" fill="#003ce1"/><rect x="501.7" y="256.8" width="8.4" height="8.4" fill="#003ce1"/><rect x="417.7" y="265.2" width="8.4" height="8.4" fill="#003ce1"/><rect x="501.7" y="265.2" width="8.4" height="8.4" fill="#003ce1"/><rect x="484.9" y="273.6" width="8.4" height="8.4" fill="#003ce1"/><rect x="409.3" y="282" width="8.4" height="8.4" fill="#003ce1"/><rect x="484.9" y="282" width="8.4" height="8.4" fill="#003ce1"/><rect x="468.1" y="290.4" width="16.8" height="8.4" fill="#003ce1"/></g></g>
<g mask="url(#mkl)"><g filter="url(#mb)"><rect x="459.7" y="206.4" width="8.4" height="8.4" fill="#003ce1"/><rect x="459.7" y="214.8" width="16.8" height="8.4" fill="#003ce1"/><rect x="451.3" y="223.2" width="42" height="8.4" fill="#003ce1"/><rect x="434.5" y="231.6" width="58.8" height="8.4" fill="#003ce1"/><rect x="426.1" y="240" width="75.6" height="8.4" fill="#003ce1"/><rect x="426.1" y="248.4" width="75.6" height="8.4" fill="#003ce1"/><rect x="426.1" y="256.8" width="75.6" height="8.4" fill="#003ce1"/><rect x="426.1" y="265.2" width="67.2" height="8.4" fill="#003ce1"/><rect x="434.5" y="273.6" width="8.4" height="8.4" fill="#003ce1"/><rect x="468.1" y="273.6" width="8.4" height="8.4" fill="#003ce1"/></g></g>
<g mask="url(#mk2)"><rect x="484.9" y="189.6" width="8.4" height="8.4" fill="#ffffff"/><rect x="442.9" y="198" width="8.4" height="8.4" fill="#ffffff"/><rect x="484.9" y="198" width="8.4" height="8.4" fill="#ffffff"/><rect x="434.5" y="206.4" width="16.8" height="8.4" fill="#ffffff"/><rect x="476.5" y="206.4" width="16.8" height="8.4" fill="#ffffff"/><rect x="426.1" y="214.8" width="8.4" height="8.4" fill="#ffffff"/><rect x="510.1" y="223.2" width="8.4" height="8.4" fill="#ffffff"/><rect x="510.1" y="231.6" width="8.4" height="8.4" fill="#ffffff"/><rect x="510.1" y="240" width="8.4" height="8.4" fill="#ffffff"/><rect x="510.1" y="256.8" width="8.4" height="8.4" fill="#ffffff"/><rect x="442.9" y="273.6" width="8.4" height="8.4" fill="#ffffff"/><rect x="442.9" y="282" width="8.4" height="8.4" fill="#ffffff"/><rect x="493.3" y="282" width="8.4" height="8.4" fill="#ffffff"/><rect x="417.7" y="290.4" width="16.8" height="8.4" fill="#ffffff"/><rect x="417.7" y="298.8" width="8.4" height="8.4" fill="#ffffff"/><rect x="459.7" y="298.8" width="8.4" height="8.4" fill="#ffffff"/><rect x="476.5" y="298.8" width="8.4" height="8.4" fill="#ffffff"/></g>
<g mask="url(#mk3)"><g filter="url(#mb)"><rect x="434.5" y="189.6" width="8.4" height="8.4" fill="#0096f0"/><rect x="493.3" y="189.6" width="8.4" height="8.4" fill="#003ce1"/><rect x="434.5" y="198" width="8.4" height="8.4" fill="#003ce1"/><rect x="493.3" y="198" width="8.4" height="8.4" fill="#003ce1"/><rect x="426.1" y="206.4" width="8.4" height="8.4" fill="#003ce1"/><rect x="501.7" y="206.4" width="8.4" height="8.4" fill="#003ce1"/><rect x="417.7" y="214.8" width="8.4" height="8.4" fill="#003ce1"/><rect x="510.1" y="214.8" width="8.4" height="8.4" fill="#003ce1"/><rect x="417.7" y="223.2" width="8.4" height="8.4" fill="#003ce1"/><rect x="409.3" y="231.6" width="8.4" height="8.4" fill="#003ce1"/><rect x="409.3" y="240" width="8.4" height="8.4" fill="#00e600"/><rect x="510.1" y="248.4" width="8.4" height="8.4" fill="#003ce1"/><rect x="409.3" y="256.8" width="8.4" height="8.4" fill="#003ce1"/><rect x="409.3" y="265.2" width="8.4" height="8.4" fill="#003ce1"/><rect x="510.1" y="265.2" width="8.4" height="8.4" fill="#003ce1"/><rect x="409.3" y="273.6" width="8.4" height="8.4" fill="#003ce1"/><rect x="501.7" y="273.6" width="8.4" height="8.4" fill="#003ce1"/><rect x="400.9" y="282" width="8.4" height="8.4" fill="#003ce1"/><rect x="451.3" y="282" width="8.4" height="8.4" fill="#00e600"/><rect x="409.3" y="290.4" width="8.4" height="8.4" fill="#003ce1"/><rect x="434.5" y="290.4" width="8.4" height="8.4" fill="#003ce1"/><rect x="442.9" y="290.4" width="8.4" height="8.4" fill="#006e00"/><rect x="493.3" y="290.4" width="8.4" height="8.4" fill="#003ce1"/><rect x="409.3" y="298.8" width="8.4" height="8.4" fill="#003ce1"/><rect x="426.1" y="298.8" width="8.4" height="8.4" fill="#003ce1"/><rect x="451.3" y="298.8" width="8.4" height="8.4" fill="#003ce1"/><rect x="484.9" y="298.8" width="8.4" height="8.4" fill="#003ce1"/><rect x="442.9" y="307.2" width="25.2" height="8.4" fill="#003ce1"/><rect x="442.9" y="315.6" width="8.4" height="8.4" fill="#003ce1"/></g></g>
</g></g>
<clipPath id="fclipf"><rect x="392.5" y="189.6" width="134.4" height="134.4"/></clipPath>
<g fill="none" stroke="#505050" stroke-opacity="0.7" stroke-width="0.5" clip-path="url(#fclipf)">
<circle cx="459.7" cy="256.8" r="14"/>
<circle cx="459.7" cy="256.8" r="28"/>
<circle cx="459.7" cy="256.8" r="42"/>
<circle cx="459.7" cy="256.8" r="56"/>
<path d="M392.5 256.8H526.9M459.7 189.6V324"/>
<path d="M411.5 189.6 L407.5 195.6 L403.5 201.6 L400.5 206.6 L397.5 207.6 L396.5 211.6 L399.5 214.6 L397.5 217.6 L400.5 220.6 L398.5 224.6 L401.5 227.6 L399.5 231.6 L402.5 235.6 L406.5 237.6 L407.5 241.6 L406.5 247.6 L405.5 253.6 L406.5 259.6 L404.5 265.6 L406.5 271.6 L405.5 277.6 L402.5 281.6 L400.5 285.6 L403.5 289.6 L401.5 293.6 L404.5 297.6 L408.5 301.6 L412.5 305.6 L416.5 309.6 L414.5 315.6 L412.5 324M395.5 219.6 L398.5 222.6 L396.5 226.6 L399.5 229.6M394.5 247.6 L397.5 251.6 L395.5 256.6 L398.5 261.6 L396.5 265.6M396.5 273.6 L400.5 277.6 L397.5 281.6M394.5 297.6 L399.5 301.6 L403.5 307.6 L406.5 313.6 L409.5 319.6M401.5 209.6 L403.5 213.6 L402.5 217.6M394.5 233.6 L397.5 236.6 L395.5 241.6"/>
</g>
<rect x="392.5" y="189.6" width="134.4" height="134.4" fill="none" stroke="#333" stroke-width="0.7"/>
<path d="M392.5 189.6v2.4M392.5 324v-2.4M392.5 189.6h2.4M526.9 189.6h-2.4M395.3 189.6v1.3M395.3 324v-1.3M392.5 192.4h1.3M526.9 192.4h-1.3M398.1 189.6v1.3M398.1 324v-1.3M392.5 195.2h1.3M526.9 195.2h-1.3M400.9 189.6v1.3M400.9 324v-1.3M392.5 198h1.3M526.9 198h-1.3M403.7 189.6v1.3M403.7 324v-1.3M392.5 200.8h1.3M526.9 200.8h-1.3M406.5 189.6v1.3M406.5 324v-1.3M392.5 203.6h1.3M526.9 203.6h-1.3M409.3 189.6v2.4M409.3 324v-2.4M392.5 206.4h2.4M526.9 206.4h-2.4M412.1 189.6v1.3M412.1 324v-1.3M392.5 209.2h1.3M526.9 209.2h-1.3M414.9 189.6v1.3M414.9 324v-1.3M392.5 212h1.3M526.9 212h-1.3M417.7 189.6v1.3M417.7 324v-1.3M392.5 214.8h1.3M526.9 214.8h-1.3M420.5 189.6v1.3M420.5 324v-1.3M392.5 217.6h1.3M526.9 217.6h-1.3M423.3 189.6v1.3M423.3 324v-1.3M392.5 220.4h1.3M526.9 220.4h-1.3M426.1 189.6v2.4M426.1 324v-2.4M392.5 223.2h2.4M526.9 223.2h-2.4M428.9 189.6v1.3M428.9 324v-1.3M392.5 226h1.3M526.9 226h-1.3M431.7 189.6v1.3M431.7 324v-1.3M392.5 228.8h1.3M526.9 228.8h-1.3M434.5 189.6v1.3M434.5 324v-1.3M392.5 231.6h1.3M526.9 231.6h-1.3M437.3 189.6v1.3M437.3 324v-1.3M392.5 234.4h1.3M526.9 234.4h-1.3M440.1 189.6v1.3M440.1 324v-1.3M392.5 237.2h1.3M526.9 237.2h-1.3M442.9 189.6v2.4M442.9 324v-2.4M392.5 240h2.4M526.9 240h-2.4M445.7 189.6v1.3M445.7 324v-1.3M392.5 242.8h1.3M526.9 242.8h-1.3M448.5 189.6v1.3M448.5 324v-1.3M392.5 245.6h1.3M526.9 245.6h-1.3M451.3 189.6v1.3M451.3 324v-1.3M392.5 248.4h1.3M526.9 248.4h-1.3M454.1 189.6v1.3M454.1 324v-1.3M392.5 251.2h1.3M526.9 251.2h-1.3M456.9 189.6v1.3M456.9 324v-1.3M392.5 254h1.3M526.9 254h-1.3M459.7 189.6v2.4M459.7 324v-2.4M392.5 256.8h2.4M526.9 256.8h-2.4M462.5 189.6v1.3M462.5 324v-1.3M392.5 259.6h1.3M526.9 259.6h-1.3M465.3 189.6v1.3M465.3 324v-1.3M392.5 262.4h1.3M526.9 262.4h-1.3M468.1 189.6v1.3M468.1 324v-1.3M392.5 265.2h1.3M526.9 265.2h-1.3M470.9 189.6v1.3M470.9 324v-1.3M392.5 268h1.3M526.9 268h-1.3M473.7 189.6v1.3M473.7 324v-1.3M392.5 270.8h1.3M526.9 270.8h-1.3M476.5 189.6v2.4M476.5 324v-2.4M392.5 273.6h2.4M526.9 273.6h-2.4M479.3 189.6v1.3M479.3 324v-1.3M392.5 276.4h1.3M526.9 276.4h-1.3M482.1 189.6v1.3M482.1 324v-1.3M392.5 279.2h1.3M526.9 279.2h-1.3M484.9 189.6v1.3M484.9 324v-1.3M392.5 282h1.3M526.9 282h-1.3M487.7 189.6v1.3M487.7 324v-1.3M392.5 284.8h1.3M526.9 284.8h-1.3M490.5 189.6v1.3M490.5 324v-1.3M392.5 287.6h1.3M526.9 287.6h-1.3M493.3 189.6v2.4M493.3 324v-2.4M392.5 290.4h2.4M526.9 290.4h-2.4M496.1 189.6v1.3M496.1 324v-1.3M392.5 293.2h1.3M526.9 293.2h-1.3M498.9 189.6v1.3M498.9 324v-1.3M392.5 296h1.3M526.9 296h-1.3M501.7 189.6v1.3M501.7 324v-1.3M392.5 298.8h1.3M526.9 298.8h-1.3M504.5 189.6v1.3M504.5 324v-1.3M392.5 301.6h1.3M526.9 301.6h-1.3M507.3 189.6v1.3M507.3 324v-1.3M392.5 304.4h1.3M526.9 304.4h-1.3M510.1 189.6v2.4M510.1 324v-2.4M392.5 307.2h2.4M526.9 307.2h-2.4M512.9 189.6v1.3M512.9 324v-1.3M392.5 310h1.3M526.9 310h-1.3M515.7 189.6v1.3M515.7 324v-1.3M392.5 312.8h1.3M526.9 312.8h-1.3M518.5 189.6v1.3M518.5 324v-1.3M392.5 315.6h1.3M526.9 315.6h-1.3M521.3 189.6v1.3M521.3 324v-1.3M392.5 318.4h1.3M526.9 318.4h-1.3M524.1 189.6v1.3M524.1 324v-1.3M392.5 321.2h1.3M526.9 321.2h-1.3M526.9 189.6v2.4M526.9 324v-2.4M392.5 324h2.4M526.9 324h-2.4" stroke="#333" stroke-width="0.6" fill="none"/>
<g font-family="'Liberation Sans', Arial, sans-serif" font-size="6.6" fill="#2a2a2a" stroke="#2a2a2a" stroke-width="0.18">
<text transform="translate(392.5 332) scale(0.88 1)" text-anchor="middle">-240</text>
<text transform="translate(390.5 324.25) scale(0.88 1)" text-anchor="end">-240</text>
<text transform="translate(409.3 332) scale(0.88 1)" text-anchor="middle">-180</text>
<text transform="translate(390.5 310.15) scale(0.88 1)" text-anchor="end">-180</text>
<text transform="translate(426.1 332) scale(0.88 1)" text-anchor="middle">-120</text>
<text transform="translate(390.5 293.35) scale(0.88 1)" text-anchor="end">-120</text>
<text transform="translate(442.9 332) scale(0.88 1)" text-anchor="middle">-60</text>
<text transform="translate(390.5 276.55) scale(0.88 1)" text-anchor="end">-60</text>
<text transform="translate(459.7 332) scale(0.88 1)" text-anchor="middle">0</text>
<text transform="translate(390.5 259.75) scale(0.88 1)" text-anchor="end">0</text>
<text transform="translate(476.5 332) scale(0.88 1)" text-anchor="middle">60</text>
<text transform="translate(390.5 242.95) scale(0.88 1)" text-anchor="end">60</text>
<text transform="translate(493.3 332) scale(0.88 1)" text-anchor="middle">120</text>
<text transform="translate(390.5 226.15) scale(0.88 1)" text-anchor="end">120</text>
<text transform="translate(510.1 332) scale(0.88 1)" text-anchor="middle">180</text>
<text transform="translate(390.5 209.35) scale(0.88 1)" text-anchor="end">180</text>
<text transform="translate(526.9 332) scale(0.88 1)" text-anchor="middle">240</text>
<text transform="translate(390.5 193.85) scale(0.88 1)" text-anchor="end">240</text>
<text x="459.7" y="338.8" text-anchor="middle" textLength="67" lengthAdjust="spacingAndGlyphs">Distance from radar [km]</text>
<text transform="translate(373.5 256.8) rotate(-90)" text-anchor="middle" textLength="68" lengthAdjust="spacingAndGlyphs">Distance from radar [km]</text>
</g>
<text x="395.5" y="321.4" font-family="'Liberation Serif', 'Times New Roman', serif" font-size="11.3" fill="#111" stroke="#111" stroke-width="0.25" textLength="26" lengthAdjust="spacingAndGlyphs">MYN</text>
<text x="520.5" y="319.6" font-family="'Liberation Serif', 'Times New Roman', serif" font-size="15" font-weight="bold" fill="#111" text-anchor="end">(f)</text>
<text x="459.7" y="184.8" font-family="'Liberation Serif', 'Times New Roman', serif" font-size="14.5" font-weight="bold" fill="#111" stroke="#111" stroke-width="0.3" text-anchor="middle">K<tspan font-size="10" dy="3.6">DP</tspan></text>
<path d="M528.9 196.8L530.95 190.4L533 196.8Z" fill="#000"/>
<rect x="528.9" y="196.8" width="4.1" height="8.72" fill="#8a3cc4"/>
<rect x="528.9" y="205.32" width="4.1" height="8.72" fill="#f04896"/>
<rect x="528.9" y="213.84" width="4.1" height="8.72" fill="#c80000"/>
<rect x="528.9" y="222.36" width="4.1" height="8.72" fill="#ff0000"/>
<rect x="528.9" y="230.88" width="4.1" height="8.72" fill="#ff8c00"/>
<rect x="528.9" y="239.4" width="4.1" height="8.72" fill="#eaa000"/>
<rect x="528.9" y="247.92" width="4.1" height="8.72" fill="#ffff00"/>
<rect x="528.9" y="256.44" width="4.1" height="8.72" fill="#005a00"/>
<rect x="528.9" y="264.96" width="4.1" height="8.72" fill="#007800"/>
<rect x="528.9" y="273.48" width="4.1" height="8.72" fill="#00a000"/>
<rect x="528.9" y="282" width="4.1" height="8.72" fill="#00e000"/>
<rect x="528.9" y="290.52" width="4.1" height="8.72" fill="#0000e0"/>
<rect x="528.9" y="299.04" width="4.1" height="8.72" fill="#0096ff"/>
<rect x="528.9" y="307.56" width="4.1" height="8.72" fill="#00c8ff"/>
<rect x="528.9" y="316.08" width="4.1" height="8.72" fill="#a0a0a0"/>
<rect x="528.9" y="196.8" width="4.1" height="127.8" fill="none" stroke="#555" stroke-width="0.3"/>
<g font-family="'Liberation Sans', Arial, sans-serif" font-size="4.4" fill="#3a3a3a">
<text transform="translate(537.2 199.85) scale(0.9 1)">5.0</text>
<text transform="translate(537.2 208.22) scale(0.9 1)">4.5</text>
<text transform="translate(537.2 216.6) scale(0.9 1)">4.0</text>
<text transform="translate(537.2 224.97) scale(0.9 1)">3.5</text>
<text transform="translate(537.2 233.34) scale(0.9 1)">3.0</text>
<text transform="translate(537.2 241.72) scale(0.9 1)">2.5</text>
<text transform="translate(537.2 250.09) scale(0.9 1)">2.0</text>
<text transform="translate(537.2 258.46) scale(0.9 1)">1.5</text>
<text transform="translate(537.2 266.84) scale(0.9 1)">1.0</text>
<text transform="translate(537.2 275.21) scale(0.9 1)">0.5</text>
<text transform="translate(537.2 283.58) scale(0.9 1)">0.2</text>
<text transform="translate(537.2 291.96) scale(0.9 1)">0.0</text>
<text transform="translate(537.2 300.33) scale(0.9 1)">-0.5</text>
<text transform="translate(537.2 308.7) scale(0.9 1)">-1.0</text>
<text transform="translate(537.2 317.08) scale(0.9 1)">-1.5</text>
<text transform="translate(537.2 325.45) scale(0.9 1)">-2.0</text>
</g>
<text transform="translate(547.6 259.3) rotate(-90)" text-anchor="middle" font-family="'Liberation Sans', Arial, sans-serif" font-size="3.9" fill="#3a3a3a">Specific Differential Phase [deg/km]</text>
</svg></body></html>
